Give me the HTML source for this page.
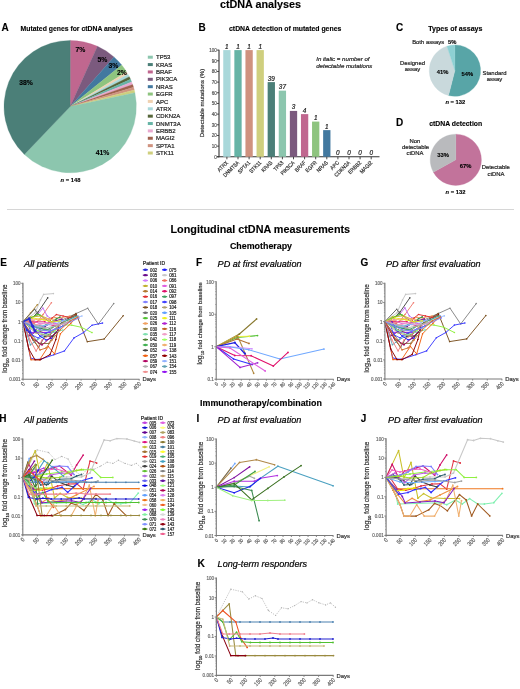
<!DOCTYPE html>
<html><head><meta charset="utf-8"><style>
html,body{margin:0;padding:0;background:#fff;overflow:hidden;}
svg{display:block;font-family:"Liberation Sans", sans-serif;filter:blur(0.3px);}
</style></head><body>
<svg width="520" height="689" viewBox="0 0 520 689">
<rect width="520" height="689" fill="#fff"/>
<text x="260.50" y="7.80" font-size="10.8" font-weight="bold" text-anchor="middle" fill="#000" stroke="#000" stroke-width="0.12">ctDNA analyses</text>
<text x="1.40" y="30.60" font-size="10.0" font-weight="bold" fill="#000" stroke="#000" stroke-width="0.12">A</text>
<text x="20.60" y="31.20" font-size="6.85" font-weight="bold" fill="#000" stroke="#000" stroke-width="0.12">Mutated genes for ctDNA analyses</text>
<text x="198.50" y="30.90" font-size="10.0" font-weight="bold" fill="#000" stroke="#000" stroke-width="0.12">B</text>
<text x="229.00" y="31.20" font-size="6.9" font-weight="bold" fill="#000" stroke="#000" stroke-width="0.12">ctDNA detection of mutated genes</text>
<text x="396.00" y="30.90" font-size="10.0" font-weight="bold" fill="#000" stroke="#000" stroke-width="0.12">C</text>
<text x="428.20" y="31.20" font-size="7.1" font-weight="bold" fill="#000" stroke="#000" stroke-width="0.12">Types of assays</text>
<text x="396.00" y="126.00" font-size="10.0" font-weight="bold" fill="#000" stroke="#000" stroke-width="0.12">D</text>
<text x="429.20" y="126.30" font-size="6.85" font-weight="bold" fill="#000" stroke="#000" stroke-width="0.12">ctDNA detection</text>
<path d="M70.20,106.60 L70.20,40.40 A66.2,66.2 0 0 1 97.47,46.28 Z" fill="#c0678f" stroke="#c0678f" stroke-width="0.3" stroke-linejoin="round"/>
<path d="M70.20,106.60 L97.47,46.28 A66.2,66.2 0 0 1 113.94,56.91 Z" fill="#7b5a7e" stroke="#7b5a7e" stroke-width="0.3" stroke-linejoin="round"/>
<path d="M70.20,106.60 L113.94,56.91 A66.2,66.2 0 0 1 121.71,65.01 Z" fill="#42789f" stroke="#42789f" stroke-width="0.3" stroke-linejoin="round"/>
<path d="M70.20,106.60 L121.71,65.01 A66.2,66.2 0 0 1 126.57,71.89 Z" fill="#8ec47f" stroke="#8ec47f" stroke-width="0.3" stroke-linejoin="round"/>
<path d="M70.20,106.60 L126.57,71.89 A66.2,66.2 0 0 1 127.99,74.31 Z" fill="#f0d2b2" stroke="#f0d2b2" stroke-width="0.3" stroke-linejoin="round"/>
<path d="M70.20,106.60 L127.99,74.31 A66.2,66.2 0 0 1 129.31,76.80 Z" fill="#a9d8da" stroke="#a9d8da" stroke-width="0.3" stroke-linejoin="round"/>
<path d="M70.20,106.60 L129.31,76.80 A66.2,66.2 0 0 1 130.52,79.33 Z" fill="#56663a" stroke="#56663a" stroke-width="0.3" stroke-linejoin="round"/>
<path d="M70.20,106.60 L130.52,79.33 A66.2,66.2 0 0 1 131.63,81.92 Z" fill="#66b4a6" stroke="#66b4a6" stroke-width="0.3" stroke-linejoin="round"/>
<path d="M70.20,106.60 L131.63,81.92 A66.2,66.2 0 0 1 132.62,84.55 Z" fill="#e8a9cf" stroke="#e8a9cf" stroke-width="0.3" stroke-linejoin="round"/>
<path d="M70.20,106.60 L132.62,84.55 A66.2,66.2 0 0 1 133.50,87.22 Z" fill="#a0614e" stroke="#a0614e" stroke-width="0.3" stroke-linejoin="round"/>
<path d="M70.20,106.60 L133.50,87.22 A66.2,66.2 0 0 1 134.26,89.92 Z" fill="#cf927f" stroke="#cf927f" stroke-width="0.3" stroke-linejoin="round"/>
<path d="M70.20,106.60 L134.26,89.92 A66.2,66.2 0 0 1 134.91,92.65 Z" fill="#cfcf7e" stroke="#cfcf7e" stroke-width="0.3" stroke-linejoin="round"/>
<path d="M70.20,106.60 L134.91,92.65 A66.2,66.2 0 0 1 24.39,154.39 Z" fill="#8cc6ae" stroke="#8cc6ae" stroke-width="0.3" stroke-linejoin="round"/>
<path d="M70.20,106.60 L24.39,154.39 A66.2,66.2 0 0 1 70.20,40.40 Z" fill="#4b7f78" stroke="#4b7f78" stroke-width="0.3" stroke-linejoin="round"/>
<text x="80.50" y="52.00" font-size="6.8" font-weight="bold" text-anchor="middle" fill="#000" stroke="#000" stroke-width="0.12">7%</text>
<text x="102.50" y="62.00" font-size="6.8" font-weight="bold" text-anchor="middle" fill="#000" stroke="#000" stroke-width="0.12">5%</text>
<text x="113.50" y="67.80" font-size="6.8" font-weight="bold" text-anchor="middle" fill="#000" stroke="#000" stroke-width="0.12">3%</text>
<text x="122.00" y="75.00" font-size="6.8" font-weight="bold" text-anchor="middle" fill="#000" stroke="#000" stroke-width="0.12">2%</text>
<text x="26.00" y="84.50" font-size="6.8" font-weight="bold" text-anchor="middle" fill="#000" stroke="#000" stroke-width="0.12">38%</text>
<text x="102.50" y="155.00" font-size="6.8" font-weight="bold" text-anchor="middle" fill="#000" stroke="#000" stroke-width="0.12">41%</text>
<text x="70.50" y="181.50" font-size="5.8" font-weight="bold" text-anchor="middle" fill="#000" stroke="#000" stroke-width="0.12"><tspan font-style="italic">n</tspan> = 148</text>
<rect x="147.80" y="55.70" width="5.00" height="3.00" fill="#8cc6ae"/>
<text x="156.00" y="59.30" font-size="6.0" fill="#222" stroke="#222" stroke-width="0.2">TP53</text>
<rect x="147.80" y="63.07" width="5.00" height="3.00" fill="#4b7f78"/>
<text x="156.00" y="66.67" font-size="6.0" fill="#222" stroke="#222" stroke-width="0.2">KRAS</text>
<rect x="147.80" y="70.44" width="5.00" height="3.00" fill="#c0678f"/>
<text x="156.00" y="74.04" font-size="6.0" fill="#222" stroke="#222" stroke-width="0.2">BRAF</text>
<rect x="147.80" y="77.81" width="5.00" height="3.00" fill="#7b5a7e"/>
<text x="156.00" y="81.41" font-size="6.0" fill="#222" stroke="#222" stroke-width="0.2">PIK3CA</text>
<rect x="147.80" y="85.18" width="5.00" height="3.00" fill="#42789f"/>
<text x="156.00" y="88.78" font-size="6.0" fill="#222" stroke="#222" stroke-width="0.2">NRAS</text>
<rect x="147.80" y="92.55" width="5.00" height="3.00" fill="#8ec47f"/>
<text x="156.00" y="96.15" font-size="6.0" fill="#222" stroke="#222" stroke-width="0.2">EGFR</text>
<rect x="147.80" y="99.92" width="5.00" height="3.00" fill="#f0d2b2"/>
<text x="156.00" y="103.52" font-size="6.0" fill="#222" stroke="#222" stroke-width="0.2">APC</text>
<rect x="147.80" y="107.29" width="5.00" height="3.00" fill="#a9d8da"/>
<text x="156.00" y="110.89" font-size="6.0" fill="#222" stroke="#222" stroke-width="0.2">ATRX</text>
<rect x="147.80" y="114.66" width="5.00" height="3.00" fill="#56663a"/>
<text x="156.00" y="118.26" font-size="6.0" fill="#222" stroke="#222" stroke-width="0.2">CDKN2A</text>
<rect x="147.80" y="122.03" width="5.00" height="3.00" fill="#66b4a6"/>
<text x="156.00" y="125.63" font-size="6.0" fill="#222" stroke="#222" stroke-width="0.2">DNMT3A</text>
<rect x="147.80" y="129.40" width="5.00" height="3.00" fill="#e8a9cf"/>
<text x="156.00" y="133.00" font-size="6.0" fill="#222" stroke="#222" stroke-width="0.2">ERBB2</text>
<rect x="147.80" y="136.77" width="5.00" height="3.00" fill="#a0614e"/>
<text x="156.00" y="140.37" font-size="6.0" fill="#222" stroke="#222" stroke-width="0.2">MAGI2</text>
<rect x="147.80" y="144.14" width="5.00" height="3.00" fill="#cf927f"/>
<text x="156.00" y="147.74" font-size="6.0" fill="#222" stroke="#222" stroke-width="0.2">SPTA1</text>
<rect x="147.80" y="151.51" width="5.00" height="3.00" fill="#cfcf7e"/>
<text x="156.00" y="155.11" font-size="6.0" fill="#222" stroke="#222" stroke-width="0.2">STK11</text>
<line x1="219.00" y1="49.80" x2="219.00" y2="157.30" stroke="#333" stroke-width="1.1"/>
<line x1="217.00" y1="156.80" x2="379.50" y2="156.80" stroke="#333" stroke-width="1.1"/>
<line x1="217.00" y1="156.80" x2="219.00" y2="156.80" stroke="#333" stroke-width="0.9"/>
<text x="0.00" y="0.00" font-size="5.7" text-anchor="end" fill="#555" stroke="#555" stroke-width="0.2" transform="translate(216.80,158.80) scale(0.8,1)">0</text>
<line x1="217.00" y1="146.13" x2="219.00" y2="146.13" stroke="#333" stroke-width="0.9"/>
<text x="0.00" y="0.00" font-size="5.7" text-anchor="end" fill="#555" stroke="#555" stroke-width="0.2" transform="translate(216.80,148.13) scale(0.8,1)">10</text>
<line x1="217.00" y1="135.46" x2="219.00" y2="135.46" stroke="#333" stroke-width="0.9"/>
<text x="0.00" y="0.00" font-size="5.7" text-anchor="end" fill="#555" stroke="#555" stroke-width="0.2" transform="translate(216.80,137.46) scale(0.8,1)">20</text>
<line x1="217.00" y1="124.79" x2="219.00" y2="124.79" stroke="#333" stroke-width="0.9"/>
<text x="0.00" y="0.00" font-size="5.7" text-anchor="end" fill="#555" stroke="#555" stroke-width="0.2" transform="translate(216.80,126.79) scale(0.8,1)">30</text>
<line x1="217.00" y1="114.12" x2="219.00" y2="114.12" stroke="#333" stroke-width="0.9"/>
<text x="0.00" y="0.00" font-size="5.7" text-anchor="end" fill="#555" stroke="#555" stroke-width="0.2" transform="translate(216.80,116.12) scale(0.8,1)">40</text>
<line x1="217.00" y1="103.45" x2="219.00" y2="103.45" stroke="#333" stroke-width="0.9"/>
<text x="0.00" y="0.00" font-size="5.7" text-anchor="end" fill="#555" stroke="#555" stroke-width="0.2" transform="translate(216.80,105.45) scale(0.8,1)">50</text>
<line x1="217.00" y1="92.78" x2="219.00" y2="92.78" stroke="#333" stroke-width="0.9"/>
<text x="0.00" y="0.00" font-size="5.7" text-anchor="end" fill="#555" stroke="#555" stroke-width="0.2" transform="translate(216.80,94.78) scale(0.8,1)">60</text>
<line x1="217.00" y1="82.11" x2="219.00" y2="82.11" stroke="#333" stroke-width="0.9"/>
<text x="0.00" y="0.00" font-size="5.7" text-anchor="end" fill="#555" stroke="#555" stroke-width="0.2" transform="translate(216.80,84.11) scale(0.8,1)">70</text>
<line x1="217.00" y1="71.44" x2="219.00" y2="71.44" stroke="#333" stroke-width="0.9"/>
<text x="0.00" y="0.00" font-size="5.7" text-anchor="end" fill="#555" stroke="#555" stroke-width="0.2" transform="translate(216.80,73.44) scale(0.8,1)">80</text>
<line x1="217.00" y1="60.77" x2="219.00" y2="60.77" stroke="#333" stroke-width="0.9"/>
<text x="0.00" y="0.00" font-size="5.7" text-anchor="end" fill="#555" stroke="#555" stroke-width="0.2" transform="translate(216.80,62.77) scale(0.8,1)">90</text>
<line x1="217.00" y1="50.10" x2="219.00" y2="50.10" stroke="#333" stroke-width="0.9"/>
<text x="0.00" y="0.00" font-size="5.7" text-anchor="end" fill="#555" stroke="#555" stroke-width="0.2" transform="translate(216.80,52.10) scale(0.8,1)">100</text>
<rect x="223.25" y="50.10" width="7.30" height="106.70" fill="#a9d8da"/>
<line x1="226.90" y1="156.80" x2="226.90" y2="159.30" stroke="#333" stroke-width="0.9"/>
<text x="226.90" y="48.50" font-size="6.4" font-style="italic" text-anchor="middle" fill="#222" stroke="#222" stroke-width="0.2">1</text>
<text x="0.00" y="0.00" font-size="5.5" text-anchor="end" fill="#333" stroke="#333" stroke-width="0.2" transform="translate(228.50,163.10) rotate(-45) scale(0.9,1)">ATRX</text>
<rect x="234.35" y="50.10" width="7.30" height="106.70" fill="#66b4a6"/>
<line x1="238.00" y1="156.80" x2="238.00" y2="159.30" stroke="#333" stroke-width="0.9"/>
<text x="238.00" y="48.50" font-size="6.4" font-style="italic" text-anchor="middle" fill="#222" stroke="#222" stroke-width="0.2">1</text>
<text x="0.00" y="0.00" font-size="5.5" text-anchor="end" fill="#333" stroke="#333" stroke-width="0.2" transform="translate(239.60,163.10) rotate(-45) scale(0.9,1)">DNMT3A</text>
<rect x="245.45" y="50.10" width="7.30" height="106.70" fill="#cf927f"/>
<line x1="249.10" y1="156.80" x2="249.10" y2="159.30" stroke="#333" stroke-width="0.9"/>
<text x="249.10" y="48.50" font-size="6.4" font-style="italic" text-anchor="middle" fill="#222" stroke="#222" stroke-width="0.2">1</text>
<text x="0.00" y="0.00" font-size="5.5" text-anchor="end" fill="#333" stroke="#333" stroke-width="0.2" transform="translate(250.70,163.10) rotate(-45) scale(0.9,1)">SPTA1</text>
<rect x="256.55" y="50.10" width="7.30" height="106.70" fill="#cfcf7e"/>
<line x1="260.20" y1="156.80" x2="260.20" y2="159.30" stroke="#333" stroke-width="0.9"/>
<text x="260.20" y="48.50" font-size="6.4" font-style="italic" text-anchor="middle" fill="#222" stroke="#222" stroke-width="0.2">1</text>
<text x="0.00" y="0.00" font-size="5.5" text-anchor="end" fill="#333" stroke="#333" stroke-width="0.2" transform="translate(261.80,163.10) rotate(-45) scale(0.9,1)">STK11</text>
<rect x="267.65" y="82.11" width="7.30" height="74.69" fill="#4b7f78"/>
<line x1="271.30" y1="156.80" x2="271.30" y2="159.30" stroke="#333" stroke-width="0.9"/>
<text x="271.30" y="80.51" font-size="6.4" font-style="italic" text-anchor="middle" fill="#222" stroke="#222" stroke-width="0.2">39</text>
<text x="0.00" y="0.00" font-size="5.5" text-anchor="end" fill="#333" stroke="#333" stroke-width="0.2" transform="translate(272.90,163.10) rotate(-45) scale(0.9,1)">KRAS</text>
<rect x="278.75" y="90.65" width="7.30" height="66.15" fill="#8cc6ae"/>
<line x1="282.40" y1="156.80" x2="282.40" y2="159.30" stroke="#333" stroke-width="0.9"/>
<text x="282.40" y="89.05" font-size="6.4" font-style="italic" text-anchor="middle" fill="#222" stroke="#222" stroke-width="0.2">37</text>
<text x="0.00" y="0.00" font-size="5.5" text-anchor="end" fill="#333" stroke="#333" stroke-width="0.2" transform="translate(284.00,163.10) rotate(-45) scale(0.9,1)">TP53</text>
<rect x="289.85" y="110.92" width="7.30" height="45.88" fill="#7b5a7e"/>
<line x1="293.50" y1="156.80" x2="293.50" y2="159.30" stroke="#333" stroke-width="0.9"/>
<text x="293.50" y="109.32" font-size="6.4" font-style="italic" text-anchor="middle" fill="#222" stroke="#222" stroke-width="0.2">3</text>
<text x="0.00" y="0.00" font-size="5.5" text-anchor="end" fill="#333" stroke="#333" stroke-width="0.2" transform="translate(295.10,163.10) rotate(-45) scale(0.9,1)">PIK3CA</text>
<rect x="300.95" y="114.12" width="7.30" height="42.68" fill="#c0678f"/>
<line x1="304.60" y1="156.80" x2="304.60" y2="159.30" stroke="#333" stroke-width="0.9"/>
<text x="304.60" y="112.52" font-size="6.4" font-style="italic" text-anchor="middle" fill="#222" stroke="#222" stroke-width="0.2">4</text>
<text x="0.00" y="0.00" font-size="5.5" text-anchor="end" fill="#333" stroke="#333" stroke-width="0.2" transform="translate(306.20,163.10) rotate(-45) scale(0.9,1)">BRAF</text>
<rect x="312.05" y="121.59" width="7.30" height="35.21" fill="#8ec47f"/>
<line x1="315.70" y1="156.80" x2="315.70" y2="159.30" stroke="#333" stroke-width="0.9"/>
<text x="315.70" y="119.99" font-size="6.4" font-style="italic" text-anchor="middle" fill="#222" stroke="#222" stroke-width="0.2">1</text>
<text x="0.00" y="0.00" font-size="5.5" text-anchor="end" fill="#333" stroke="#333" stroke-width="0.2" transform="translate(317.30,163.10) rotate(-45) scale(0.9,1)">EGFR</text>
<rect x="323.15" y="130.12" width="7.30" height="26.67" fill="#42789f"/>
<line x1="326.80" y1="156.80" x2="326.80" y2="159.30" stroke="#333" stroke-width="0.9"/>
<text x="326.80" y="128.53" font-size="6.4" font-style="italic" text-anchor="middle" fill="#222" stroke="#222" stroke-width="0.2">1</text>
<text x="0.00" y="0.00" font-size="5.5" text-anchor="end" fill="#333" stroke="#333" stroke-width="0.2" transform="translate(328.40,163.10) rotate(-45) scale(0.9,1)">NRAS</text>
<line x1="337.90" y1="156.80" x2="337.90" y2="159.30" stroke="#333" stroke-width="0.9"/>
<text x="337.90" y="155.20" font-size="6.4" font-style="italic" text-anchor="middle" fill="#222" stroke="#222" stroke-width="0.2">0</text>
<text x="0.00" y="0.00" font-size="5.5" text-anchor="end" fill="#333" stroke="#333" stroke-width="0.2" transform="translate(339.50,163.10) rotate(-45) scale(0.9,1)">APC</text>
<line x1="349.00" y1="156.80" x2="349.00" y2="159.30" stroke="#333" stroke-width="0.9"/>
<text x="349.00" y="155.20" font-size="6.4" font-style="italic" text-anchor="middle" fill="#222" stroke="#222" stroke-width="0.2">0</text>
<text x="0.00" y="0.00" font-size="5.5" text-anchor="end" fill="#333" stroke="#333" stroke-width="0.2" transform="translate(350.60,163.10) rotate(-45) scale(0.9,1)">CDKN2A</text>
<line x1="360.10" y1="156.80" x2="360.10" y2="159.30" stroke="#333" stroke-width="0.9"/>
<text x="360.10" y="155.20" font-size="6.4" font-style="italic" text-anchor="middle" fill="#222" stroke="#222" stroke-width="0.2">0</text>
<text x="0.00" y="0.00" font-size="5.5" text-anchor="end" fill="#333" stroke="#333" stroke-width="0.2" transform="translate(361.70,163.10) rotate(-45) scale(0.9,1)">ERBB2</text>
<line x1="371.20" y1="156.80" x2="371.20" y2="159.30" stroke="#333" stroke-width="0.9"/>
<text x="371.20" y="155.20" font-size="6.4" font-style="italic" text-anchor="middle" fill="#222" stroke="#222" stroke-width="0.2">0</text>
<text x="0.00" y="0.00" font-size="5.5" text-anchor="end" fill="#333" stroke="#333" stroke-width="0.2" transform="translate(372.80,163.10) rotate(-45) scale(0.9,1)">MAGI2</text>
<text x="0.00" y="0.00" font-size="6.1" text-anchor="middle" fill="#333" stroke="#333" stroke-width="0.2" transform="translate(203.70,103.00) rotate(-90)">Detectable mutations (%)</text>
<text x="316.20" y="60.60" font-size="6.1" font-style="italic" fill="#222" stroke="#222" stroke-width="0.2">In italic = number of</text>
<text x="316.20" y="67.60" font-size="6.1" font-style="italic" fill="#222" stroke="#222" stroke-width="0.2">detectable mutations</text>
<path d="M454.90,70.60 L454.90,44.90 A25.7,25.7 0 1 1 448.51,95.49 Z" fill="#58a5a7" stroke="#58a5a7" stroke-width="0.3" stroke-linejoin="round"/>
<path d="M454.90,70.60 L448.51,95.49 A25.7,25.7 0 0 1 446.96,46.16 Z" fill="#c9d9dc" stroke="#c9d9dc" stroke-width="0.3" stroke-linejoin="round"/>
<path d="M454.90,70.60 L446.96,46.16 A25.7,25.7 0 0 1 454.90,44.90 Z" fill="#8dd0d3" stroke="#8dd0d3" stroke-width="0.3" stroke-linejoin="round"/>
<text x="428.20" y="43.90" font-size="5.9" text-anchor="middle" fill="#222" stroke="#222" stroke-width="0.2">Both assays</text>
<text x="452.30" y="44.00" font-size="5.8" font-weight="bold" text-anchor="middle" fill="#000" stroke="#000" stroke-width="0.12">5%</text>
<text x="412.50" y="64.80" font-size="5.9" text-anchor="middle" fill="#222" stroke="#222" stroke-width="0.2">Designed</text>
<text x="412.50" y="71.20" font-size="5.9" text-anchor="middle" fill="#222" stroke="#222" stroke-width="0.2">assay</text>
<text x="442.50" y="73.50" font-size="5.8" font-weight="bold" text-anchor="middle" fill="#000" stroke="#000" stroke-width="0.12">41%</text>
<text x="467.30" y="75.80" font-size="5.8" font-weight="bold" text-anchor="middle" fill="#000" stroke="#000" stroke-width="0.12">54%</text>
<text x="494.50" y="74.60" font-size="5.9" text-anchor="middle" fill="#222" stroke="#222" stroke-width="0.2">Standard</text>
<text x="494.50" y="81.00" font-size="5.9" text-anchor="middle" fill="#222" stroke="#222" stroke-width="0.2">assay</text>
<text x="455.30" y="104.30" font-size="5.8" font-weight="bold" text-anchor="middle" fill="#000" stroke="#000" stroke-width="0.12"><tspan font-style="italic">n</tspan> = 132</text>
<path d="M455.80,159.80 L455.80,134.20 A25.6,25.6 0 1 1 433.37,172.13 Z" fill="#c2739b" stroke="#c2739b" stroke-width="0.3" stroke-linejoin="round"/>
<path d="M455.80,159.80 L433.37,172.13 A25.6,25.6 0 0 1 455.80,134.20 Z" fill="#b9babd" stroke="#b9babd" stroke-width="0.3" stroke-linejoin="round"/>
<text x="414.80" y="142.80" font-size="5.9" text-anchor="middle" fill="#222" stroke="#222" stroke-width="0.2">Non</text>
<text x="415.50" y="148.90" font-size="5.9" text-anchor="middle" fill="#222" stroke="#222" stroke-width="0.2">detectable</text>
<text x="415.00" y="155.20" font-size="5.9" text-anchor="middle" fill="#222" stroke="#222" stroke-width="0.2">ctDNA</text>
<text x="443.00" y="157.40" font-size="5.8" font-weight="bold" text-anchor="middle" fill="#000" stroke="#000" stroke-width="0.12">33%</text>
<text x="465.50" y="167.80" font-size="5.8" font-weight="bold" text-anchor="middle" fill="#000" stroke="#000" stroke-width="0.12">67%</text>
<text x="495.80" y="169.30" font-size="5.9" text-anchor="middle" fill="#222" stroke="#222" stroke-width="0.2">Detectable</text>
<text x="496.00" y="175.80" font-size="5.9" text-anchor="middle" fill="#222" stroke="#222" stroke-width="0.2">ctDNA</text>
<text x="455.50" y="193.60" font-size="5.8" font-weight="bold" text-anchor="middle" fill="#000" stroke="#000" stroke-width="0.12"><tspan font-style="italic">n</tspan> = 132</text>
<line x1="7.00" y1="209.50" x2="514.00" y2="209.50" stroke="#d6d6d6" stroke-width="1"/>
<text x="260.30" y="233.00" font-size="10.8" font-weight="bold" text-anchor="middle" fill="#000" stroke="#000" stroke-width="0.12">Longitudinal ctDNA measurements</text>
<text x="261.00" y="249.30" font-size="8.9" font-weight="bold" text-anchor="middle" fill="#000" stroke="#000" stroke-width="0.12">Chemotherapy</text>
<text x="261.00" y="405.80" font-size="8.9" font-weight="bold" text-anchor="middle" fill="#000" stroke="#000" stroke-width="0.12">Immunotherapy/combination</text>
<polyline points="23.0,321.7 35.0,313.0 40.5,300.0 43.6,294.4 53.4,293.6" fill="none" stroke="#c4c4c4" stroke-width="0.95" stroke-linejoin="round"/>
<circle cx="35.0" cy="313.0" r="0.81" fill="#c4c4c4"/>
<circle cx="40.5" cy="300.0" r="0.81" fill="#c4c4c4"/>
<circle cx="43.6" cy="294.4" r="0.81" fill="#c4c4c4"/>
<circle cx="53.4" cy="293.6" r="0.81" fill="#c4c4c4"/>
<polyline points="23.0,321.7 32.0,318.0 38.1,312.0 47.7,297.9" fill="none" stroke="#474747" stroke-width="0.95" stroke-linejoin="round"/>
<circle cx="32.0" cy="318.0" r="0.81" fill="#474747"/>
<circle cx="38.1" cy="312.0" r="0.81" fill="#474747"/>
<circle cx="47.7" cy="297.9" r="0.81" fill="#474747"/>
<polyline points="23.0,321.7 37.0,322.0 43.0,314.6 51.4,302.7" fill="none" stroke="#f07a70" stroke-width="0.95" stroke-linejoin="round"/>
<circle cx="37.0" cy="322.0" r="0.81" fill="#f07a70"/>
<circle cx="43.0" cy="314.6" r="0.81" fill="#f07a70"/>
<circle cx="51.4" cy="302.7" r="0.81" fill="#f07a70"/>
<polyline points="23.0,321.7 30.5,313.0 37.3,304.8" fill="none" stroke="#a8802a" stroke-width="0.95" stroke-linejoin="round"/>
<circle cx="30.5" cy="313.0" r="0.81" fill="#a8802a"/>
<circle cx="37.3" cy="304.8" r="0.81" fill="#a8802a"/>
<polyline points="23.0,321.7 36.7,315.6 42.9,308.0 47.2,316.0 50.0,318.0" fill="none" stroke="#c070f0" stroke-width="0.95" stroke-linejoin="round"/>
<circle cx="36.7" cy="315.6" r="0.81" fill="#c070f0"/>
<circle cx="42.9" cy="308.0" r="0.81" fill="#c070f0"/>
<circle cx="47.2" cy="316.0" r="0.81" fill="#c070f0"/>
<circle cx="50.0" cy="318.0" r="0.81" fill="#c070f0"/>
<polyline points="23.0,321.7 34.7,309.3 38.0,314.0 44.0,318.0 50.0,322.0" fill="none" stroke="#606060" stroke-width="0.95" stroke-linejoin="round"/>
<circle cx="34.7" cy="309.3" r="0.81" fill="#606060"/>
<circle cx="38.0" cy="314.0" r="0.81" fill="#606060"/>
<circle cx="44.0" cy="318.0" r="0.81" fill="#606060"/>
<circle cx="50.0" cy="322.0" r="0.81" fill="#606060"/>
<polyline points="23.0,321.7 30.4,317.0 41.5,316.0 48.7,318.9 52.0,322.0 56.0,326.0" fill="none" stroke="#c8b828" stroke-width="0.95" stroke-linejoin="round"/>
<circle cx="30.4" cy="317.0" r="0.81" fill="#c8b828"/>
<circle cx="41.5" cy="316.0" r="0.81" fill="#c8b828"/>
<circle cx="48.7" cy="318.9" r="0.81" fill="#c8b828"/>
<circle cx="52.0" cy="322.0" r="0.81" fill="#c8b828"/>
<circle cx="56.0" cy="326.0" r="0.81" fill="#c8b828"/>
<polyline points="23.0,321.7 37.3,314.6 40.0,315.0" fill="none" stroke="#50c828" stroke-width="0.95" stroke-linejoin="round"/>
<circle cx="37.3" cy="314.6" r="0.81" fill="#50c828"/>
<circle cx="40.0" cy="315.0" r="0.81" fill="#50c828"/>
<polyline points="23.0,321.7 35.0,326.0 50.0,330.0 62.0,320.0 76.0,313.6 87.7,308.3 98.3,324.1 113.7,303.6" fill="none" stroke="#858585" stroke-width="0.95" stroke-linejoin="round"/>
<circle cx="35.0" cy="326.0" r="0.81" fill="#858585"/>
<circle cx="50.0" cy="330.0" r="0.81" fill="#858585"/>
<circle cx="62.0" cy="320.0" r="0.81" fill="#858585"/>
<circle cx="76.0" cy="313.6" r="0.81" fill="#858585"/>
<circle cx="87.7" cy="308.3" r="0.81" fill="#858585"/>
<circle cx="98.3" cy="324.1" r="0.81" fill="#858585"/>
<circle cx="113.7" cy="303.6" r="0.81" fill="#858585"/>
<polyline points="23.0,321.7 36.0,330.0 50.0,335.0 62.0,322.0 76.0,313.6 87.3,341.7 104.2,339.0 123.2,315.7" fill="none" stroke="#7a5020" stroke-width="0.95" stroke-linejoin="round"/>
<circle cx="36.0" cy="330.0" r="0.81" fill="#7a5020"/>
<circle cx="50.0" cy="335.0" r="0.81" fill="#7a5020"/>
<circle cx="62.0" cy="322.0" r="0.81" fill="#7a5020"/>
<circle cx="76.0" cy="313.6" r="0.81" fill="#7a5020"/>
<circle cx="87.3" cy="341.7" r="0.81" fill="#7a5020"/>
<circle cx="104.2" cy="339.0" r="0.81" fill="#7a5020"/>
<circle cx="123.2" cy="315.7" r="0.81" fill="#7a5020"/>
<polyline points="23.0,321.7 30.6,358.0 35.9,359.5 41.2,359.0 53.8,354.8 64.4,351.0 74.0,337.9 83.5,332.6 92.0,325.2 102.5,323.1" fill="none" stroke="#3b3bff" stroke-width="0.95" stroke-linejoin="round"/>
<circle cx="30.6" cy="358.0" r="0.81" fill="#3b3bff"/>
<circle cx="35.9" cy="359.5" r="0.81" fill="#3b3bff"/>
<circle cx="41.2" cy="359.0" r="0.81" fill="#3b3bff"/>
<circle cx="53.8" cy="354.8" r="0.81" fill="#3b3bff"/>
<circle cx="64.4" cy="351.0" r="0.81" fill="#3b3bff"/>
<circle cx="74.0" cy="337.9" r="0.81" fill="#3b3bff"/>
<circle cx="83.5" cy="332.6" r="0.81" fill="#3b3bff"/>
<circle cx="92.0" cy="325.2" r="0.81" fill="#3b3bff"/>
<circle cx="102.5" cy="323.1" r="0.81" fill="#3b3bff"/>
<polyline points="23.0,321.7 40.0,328.0 52.0,332.0 64.4,324.8 71.8,325.2 81.4,327.3 92.0,332.6" fill="none" stroke="#90f040" stroke-width="0.95" stroke-linejoin="round"/>
<circle cx="40.0" cy="328.0" r="0.81" fill="#90f040"/>
<circle cx="52.0" cy="332.0" r="0.81" fill="#90f040"/>
<circle cx="64.4" cy="324.8" r="0.81" fill="#90f040"/>
<circle cx="71.8" cy="325.2" r="0.81" fill="#90f040"/>
<circle cx="81.4" cy="327.3" r="0.81" fill="#90f040"/>
<circle cx="92.0" cy="332.6" r="0.81" fill="#90f040"/>
<polyline points="23.0,321.7 31.0,359.8 39.6,359.8 48.3,346.5 54.6,354.0 60.4,333.8 70.7,323.5 76.0,318.0" fill="none" stroke="#f06010" stroke-width="0.95" stroke-linejoin="round"/>
<circle cx="31.0" cy="359.8" r="0.81" fill="#f06010"/>
<circle cx="39.6" cy="359.8" r="0.81" fill="#f06010"/>
<circle cx="48.3" cy="346.5" r="0.81" fill="#f06010"/>
<circle cx="54.6" cy="354.0" r="0.81" fill="#f06010"/>
<circle cx="60.4" cy="333.8" r="0.81" fill="#f06010"/>
<circle cx="70.7" cy="323.5" r="0.81" fill="#f06010"/>
<circle cx="76.0" cy="318.0" r="0.81" fill="#f06010"/>
<polyline points="23.0,321.7 28.7,348.8 35.0,359.8 40.2,359.8 50.0,354.6 55.8,339.6 59.2,324.6 66.0,320.0 76.0,315.0" fill="none" stroke="#8a0000" stroke-width="0.95" stroke-linejoin="round"/>
<circle cx="28.7" cy="348.8" r="0.81" fill="#8a0000"/>
<circle cx="35.0" cy="359.8" r="0.81" fill="#8a0000"/>
<circle cx="40.2" cy="359.8" r="0.81" fill="#8a0000"/>
<circle cx="50.0" cy="354.6" r="0.81" fill="#8a0000"/>
<circle cx="55.8" cy="339.6" r="0.81" fill="#8a0000"/>
<circle cx="59.2" cy="324.6" r="0.81" fill="#8a0000"/>
<circle cx="66.0" cy="320.0" r="0.81" fill="#8a0000"/>
<circle cx="76.0" cy="315.0" r="0.81" fill="#8a0000"/>
<polyline points="23.0,321.7 35.0,322.0 40.0,319.9 48.7,318.9 55.0,317.5 60.0,318.0 70.0,316.0" fill="none" stroke="#f0a060" stroke-width="0.95" stroke-linejoin="round"/>
<circle cx="35.0" cy="322.0" r="0.81" fill="#f0a060"/>
<circle cx="40.0" cy="319.9" r="0.81" fill="#f0a060"/>
<circle cx="48.7" cy="318.9" r="0.81" fill="#f0a060"/>
<circle cx="55.0" cy="317.5" r="0.81" fill="#f0a060"/>
<circle cx="60.0" cy="318.0" r="0.81" fill="#f0a060"/>
<circle cx="70.0" cy="316.0" r="0.81" fill="#f0a060"/>
<polyline points="23.0,321.7 34.0,324.0 45.0,327.0 52.0,318.0 56.4,314.6 63.1,316.0 70.0,317.5" fill="none" stroke="#e03030" stroke-width="0.95" stroke-linejoin="round"/>
<circle cx="34.0" cy="324.0" r="0.81" fill="#e03030"/>
<circle cx="45.0" cy="327.0" r="0.81" fill="#e03030"/>
<circle cx="52.0" cy="318.0" r="0.81" fill="#e03030"/>
<circle cx="56.4" cy="314.6" r="0.81" fill="#e03030"/>
<circle cx="63.1" cy="316.0" r="0.81" fill="#e03030"/>
<circle cx="70.0" cy="317.5" r="0.81" fill="#e03030"/>
<polyline points="23.0,321.7 30.4,325.7 43.9,325.7 56.4,318.9 60.0,317.0" fill="none" stroke="#2a8a3a" stroke-width="0.95" stroke-linejoin="round"/>
<circle cx="30.4" cy="325.7" r="0.81" fill="#2a8a3a"/>
<circle cx="43.9" cy="325.7" r="0.81" fill="#2a8a3a"/>
<circle cx="56.4" cy="318.9" r="0.81" fill="#2a8a3a"/>
<circle cx="60.0" cy="317.0" r="0.81" fill="#2a8a3a"/>
<polyline points="23.0,321.7 30.4,322.0 44.8,321.8 49.6,324.5 55.0,326.0 62.0,324.0" fill="none" stroke="#e0106a" stroke-width="0.95" stroke-linejoin="round"/>
<circle cx="30.4" cy="322.0" r="0.81" fill="#e0106a"/>
<circle cx="44.8" cy="321.8" r="0.81" fill="#e0106a"/>
<circle cx="49.6" cy="324.5" r="0.81" fill="#e0106a"/>
<circle cx="55.0" cy="326.0" r="0.81" fill="#e0106a"/>
<circle cx="62.0" cy="324.0" r="0.81" fill="#e0106a"/>
<polyline points="23.0,321.7 28.5,336.2 44.8,326.6 55.0,321.0 62.0,319.0" fill="none" stroke="#6a0a8a" stroke-width="0.95" stroke-linejoin="round"/>
<circle cx="28.5" cy="336.2" r="0.81" fill="#6a0a8a"/>
<circle cx="44.8" cy="326.6" r="0.81" fill="#6a0a8a"/>
<circle cx="55.0" cy="321.0" r="0.81" fill="#6a0a8a"/>
<circle cx="62.0" cy="319.0" r="0.81" fill="#6a0a8a"/>
<polyline points="23.0,321.7 30.4,332.4 40.0,332.4 50.0,332.4 56.4,332.4" fill="none" stroke="#9010f0" stroke-width="0.95" stroke-linejoin="round"/>
<circle cx="30.4" cy="332.4" r="0.81" fill="#9010f0"/>
<circle cx="40.0" cy="332.4" r="0.81" fill="#9010f0"/>
<circle cx="50.0" cy="332.4" r="0.81" fill="#9010f0"/>
<circle cx="56.4" cy="332.4" r="0.81" fill="#9010f0"/>
<polyline points="23.0,321.7 35.0,330.5 44.8,330.5 55.0,330.5 60.0,328.0" fill="none" stroke="#a0f060" stroke-width="0.95" stroke-linejoin="round"/>
<circle cx="35.0" cy="330.5" r="0.81" fill="#a0f060"/>
<circle cx="44.8" cy="330.5" r="0.81" fill="#a0f060"/>
<circle cx="55.0" cy="330.5" r="0.81" fill="#a0f060"/>
<circle cx="60.0" cy="328.0" r="0.81" fill="#a0f060"/>
<polyline points="23.0,321.7 30.4,344.9 37.0,340.0 43.9,336.2 54.0,335.8" fill="none" stroke="#60a8b8" stroke-width="0.95" stroke-linejoin="round"/>
<circle cx="30.4" cy="344.9" r="0.81" fill="#60a8b8"/>
<circle cx="37.0" cy="340.0" r="0.81" fill="#60a8b8"/>
<circle cx="43.9" cy="336.2" r="0.81" fill="#60a8b8"/>
<circle cx="54.0" cy="335.8" r="0.81" fill="#60a8b8"/>
<polyline points="23.0,321.7 33.0,336.0 38.6,343.5 48.7,343.5 53.5,335.7 58.0,330.0" fill="none" stroke="#8a7a40" stroke-width="0.95" stroke-linejoin="round"/>
<circle cx="33.0" cy="336.0" r="0.81" fill="#8a7a40"/>
<circle cx="38.6" cy="343.5" r="0.81" fill="#8a7a40"/>
<circle cx="48.7" cy="343.5" r="0.81" fill="#8a7a40"/>
<circle cx="53.5" cy="335.7" r="0.81" fill="#8a7a40"/>
<circle cx="58.0" cy="330.0" r="0.81" fill="#8a7a40"/>
<polyline points="23.0,321.7 33.0,340.0 38.6,347.3 44.8,336.2 52.5,336.2 58.0,331.0" fill="none" stroke="#404040" stroke-width="0.95" stroke-linejoin="round"/>
<circle cx="33.0" cy="340.0" r="0.81" fill="#404040"/>
<circle cx="38.6" cy="347.3" r="0.81" fill="#404040"/>
<circle cx="44.8" cy="336.2" r="0.81" fill="#404040"/>
<circle cx="52.5" cy="336.2" r="0.81" fill="#404040"/>
<circle cx="58.0" cy="331.0" r="0.81" fill="#404040"/>
<polyline points="23.0,321.7 40.0,328.0 52.5,322.7 70.8,318.9 78.0,316.0" fill="none" stroke="#70a8ff" stroke-width="0.95" stroke-linejoin="round"/>
<circle cx="40.0" cy="328.0" r="0.81" fill="#70a8ff"/>
<circle cx="52.5" cy="322.7" r="0.81" fill="#70a8ff"/>
<circle cx="70.8" cy="318.9" r="0.81" fill="#70a8ff"/>
<circle cx="78.0" cy="316.0" r="0.81" fill="#70a8ff"/>
<polyline points="23.0,321.7 38.0,326.0 55.0,324.0 70.0,319.0 82.0,316.0" fill="none" stroke="#a0c0ff" stroke-width="0.95" stroke-linejoin="round"/>
<circle cx="38.0" cy="326.0" r="0.81" fill="#a0c0ff"/>
<circle cx="55.0" cy="324.0" r="0.81" fill="#a0c0ff"/>
<circle cx="70.0" cy="319.0" r="0.81" fill="#a0c0ff"/>
<circle cx="82.0" cy="316.0" r="0.81" fill="#a0c0ff"/>
<polyline points="23.0,321.7 30.0,340.0 36.1,351.1 42.0,340.0 50.0,335.0" fill="none" stroke="#f08080" stroke-width="0.95" stroke-linejoin="round"/>
<circle cx="30.0" cy="340.0" r="0.81" fill="#f08080"/>
<circle cx="36.1" cy="351.1" r="0.81" fill="#f08080"/>
<circle cx="42.0" cy="340.0" r="0.81" fill="#f08080"/>
<circle cx="50.0" cy="335.0" r="0.81" fill="#f08080"/>
<polyline points="23.0,321.7 32.0,320.0 40.0,324.0 50.0,322.0 60.0,325.0 68.0,322.0" fill="none" stroke="#e060e0" stroke-width="0.95" stroke-linejoin="round"/>
<circle cx="32.0" cy="320.0" r="0.81" fill="#e060e0"/>
<circle cx="40.0" cy="324.0" r="0.81" fill="#e060e0"/>
<circle cx="50.0" cy="322.0" r="0.81" fill="#e060e0"/>
<circle cx="60.0" cy="325.0" r="0.81" fill="#e060e0"/>
<circle cx="68.0" cy="322.0" r="0.81" fill="#e060e0"/>
<polyline points="23.0,321.7 28.0,324.0 32.0,335.0 38.0,338.0 46.0,333.0 55.0,329.0 63.0,326.0" fill="none" stroke="#4040ff" stroke-width="0.95" stroke-linejoin="round"/>
<circle cx="28.0" cy="324.0" r="0.81" fill="#4040ff"/>
<circle cx="32.0" cy="335.0" r="0.81" fill="#4040ff"/>
<circle cx="38.0" cy="338.0" r="0.81" fill="#4040ff"/>
<circle cx="46.0" cy="333.0" r="0.81" fill="#4040ff"/>
<circle cx="55.0" cy="329.0" r="0.81" fill="#4040ff"/>
<circle cx="63.0" cy="326.0" r="0.81" fill="#4040ff"/>
<polyline points="23.0,321.7 29.0,320.0 34.0,330.0 40.0,336.0 46.0,340.0 52.0,338.0" fill="none" stroke="#2020ff" stroke-width="0.95" stroke-linejoin="round"/>
<circle cx="29.0" cy="320.0" r="0.81" fill="#2020ff"/>
<circle cx="34.0" cy="330.0" r="0.81" fill="#2020ff"/>
<circle cx="40.0" cy="336.0" r="0.81" fill="#2020ff"/>
<circle cx="46.0" cy="340.0" r="0.81" fill="#2020ff"/>
<circle cx="52.0" cy="338.0" r="0.81" fill="#2020ff"/>
<polyline points="23.0,321.7 35.0,330.0 45.0,335.0 55.0,332.0 63.0,330.0" fill="none" stroke="#80e0b0" stroke-width="0.95" stroke-linejoin="round"/>
<circle cx="35.0" cy="330.0" r="0.81" fill="#80e0b0"/>
<circle cx="45.0" cy="335.0" r="0.81" fill="#80e0b0"/>
<circle cx="55.0" cy="332.0" r="0.81" fill="#80e0b0"/>
<circle cx="63.0" cy="330.0" r="0.81" fill="#80e0b0"/>
<polyline points="23.0,321.7 34.0,327.0 46.0,330.0 58.0,325.0 68.0,320.0 76.0,316.0" fill="none" stroke="#40a060" stroke-width="0.95" stroke-linejoin="round"/>
<circle cx="34.0" cy="327.0" r="0.81" fill="#40a060"/>
<circle cx="46.0" cy="330.0" r="0.81" fill="#40a060"/>
<circle cx="58.0" cy="325.0" r="0.81" fill="#40a060"/>
<circle cx="68.0" cy="320.0" r="0.81" fill="#40a060"/>
<circle cx="76.0" cy="316.0" r="0.81" fill="#40a060"/>
<polyline points="23.0,321.7 36.0,333.0 48.0,336.0 56.0,328.0 64.0,322.0" fill="none" stroke="#b0a070" stroke-width="0.95" stroke-linejoin="round"/>
<circle cx="36.0" cy="333.0" r="0.81" fill="#b0a070"/>
<circle cx="48.0" cy="336.0" r="0.81" fill="#b0a070"/>
<circle cx="56.0" cy="328.0" r="0.81" fill="#b0a070"/>
<circle cx="64.0" cy="322.0" r="0.81" fill="#b0a070"/>
<polyline points="23.0,321.7 33.0,318.0 44.0,320.0 52.0,322.0 60.0,321.0" fill="none" stroke="#e8e820" stroke-width="0.95" stroke-linejoin="round"/>
<circle cx="33.0" cy="318.0" r="0.81" fill="#e8e820"/>
<circle cx="44.0" cy="320.0" r="0.81" fill="#e8e820"/>
<circle cx="52.0" cy="322.0" r="0.81" fill="#e8e820"/>
<circle cx="60.0" cy="321.0" r="0.81" fill="#e8e820"/>
<polyline points="23.0,321.7 37.0,325.0 47.0,323.0 57.0,325.0 66.0,324.0" fill="none" stroke="#f0a0c8" stroke-width="0.95" stroke-linejoin="round"/>
<circle cx="37.0" cy="325.0" r="0.81" fill="#f0a0c8"/>
<circle cx="47.0" cy="323.0" r="0.81" fill="#f0a0c8"/>
<circle cx="57.0" cy="325.0" r="0.81" fill="#f0a0c8"/>
<circle cx="66.0" cy="324.0" r="0.81" fill="#f0a0c8"/>
<polyline points="23.0,321.7 34.0,320.0 44.0,318.0 54.0,320.0" fill="none" stroke="#f0b070" stroke-width="0.95" stroke-linejoin="round"/>
<circle cx="34.0" cy="320.0" r="0.81" fill="#f0b070"/>
<circle cx="44.0" cy="318.0" r="0.81" fill="#f0b070"/>
<circle cx="54.0" cy="320.0" r="0.81" fill="#f0b070"/>
<polyline points="23.0,321.7 32.0,338.0 42.0,345.0 50.0,338.0 58.0,330.0" fill="none" stroke="#a0005a" stroke-width="0.95" stroke-linejoin="round"/>
<circle cx="32.0" cy="338.0" r="0.81" fill="#a0005a"/>
<circle cx="42.0" cy="345.0" r="0.81" fill="#a0005a"/>
<circle cx="50.0" cy="338.0" r="0.81" fill="#a0005a"/>
<circle cx="58.0" cy="330.0" r="0.81" fill="#a0005a"/>
<polyline points="23.0,321.7 35.0,325.0 45.0,328.0 55.0,326.0 65.0,323.0 74.0,319.0" fill="none" stroke="#b0b0b0" stroke-width="0.95" stroke-linejoin="round"/>
<circle cx="35.0" cy="325.0" r="0.81" fill="#b0b0b0"/>
<circle cx="45.0" cy="328.0" r="0.81" fill="#b0b0b0"/>
<circle cx="55.0" cy="326.0" r="0.81" fill="#b0b0b0"/>
<circle cx="65.0" cy="323.0" r="0.81" fill="#b0b0b0"/>
<circle cx="74.0" cy="319.0" r="0.81" fill="#b0b0b0"/>
<polyline points="23.0,321.7 30.0,325.0 40.0,330.0 50.0,331.0 60.0,328.0 70.0,322.0 79.0,318.0" fill="none" stroke="#8080ff" stroke-width="0.95" stroke-linejoin="round"/>
<circle cx="30.0" cy="325.0" r="0.81" fill="#8080ff"/>
<circle cx="40.0" cy="330.0" r="0.81" fill="#8080ff"/>
<circle cx="50.0" cy="331.0" r="0.81" fill="#8080ff"/>
<circle cx="60.0" cy="328.0" r="0.81" fill="#8080ff"/>
<circle cx="70.0" cy="322.0" r="0.81" fill="#8080ff"/>
<circle cx="79.0" cy="318.0" r="0.81" fill="#8080ff"/>
<polyline points="23.0,321.7 34.0,340.0 40.0,350.0 46.0,348.0 52.0,340.0 60.0,330.0 70.0,321.0 78.0,317.0" fill="none" stroke="#d07030" stroke-width="0.95" stroke-linejoin="round"/>
<circle cx="34.0" cy="340.0" r="0.81" fill="#d07030"/>
<circle cx="40.0" cy="350.0" r="0.81" fill="#d07030"/>
<circle cx="46.0" cy="348.0" r="0.81" fill="#d07030"/>
<circle cx="52.0" cy="340.0" r="0.81" fill="#d07030"/>
<circle cx="60.0" cy="330.0" r="0.81" fill="#d07030"/>
<circle cx="70.0" cy="321.0" r="0.81" fill="#d07030"/>
<circle cx="78.0" cy="317.0" r="0.81" fill="#d07030"/>
<polyline points="23.0,321.7 29.3,318.8 32.7,326.3 35.0,331.0" fill="none" stroke="#2a2ad8" stroke-width="1.7" stroke-linejoin="round"/>
<circle cx="29.3" cy="318.8" r="1.44" fill="#2a2ad8"/>
<circle cx="32.7" cy="326.3" r="1.44" fill="#2a2ad8"/>
<circle cx="35.0" cy="331.0" r="1.44" fill="#2a2ad8"/>
<polyline points="23.0,321.7 27.0,330.0 30.0,332.5" fill="none" stroke="#3030e0" stroke-width="1.4" stroke-linejoin="round"/>
<circle cx="27.0" cy="330.0" r="1.19" fill="#3030e0"/>
<circle cx="30.0" cy="332.5" r="1.19" fill="#3030e0"/>
<polyline points="216.2,346.7 239.4,334.0 256.6,319.0" fill="none" stroke="#8a7a30" stroke-width="1.05" stroke-linejoin="round"/>
<circle cx="239.4" cy="334.0" r="0.89" fill="#8a7a30"/>
<circle cx="256.6" cy="319.0" r="0.89" fill="#8a7a30"/>
<polyline points="216.2,346.7 237.0,337.5 257.5,335.6" fill="none" stroke="#50c030" stroke-width="1.05" stroke-linejoin="round"/>
<circle cx="237.0" cy="337.5" r="0.89" fill="#50c030"/>
<circle cx="257.5" cy="335.6" r="0.89" fill="#50c030"/>
<polyline points="216.2,346.7 236.0,336.5 249.5,336.3" fill="none" stroke="#f0f040" stroke-width="1.05" stroke-linejoin="round"/>
<circle cx="236.0" cy="336.5" r="0.89" fill="#f0f040"/>
<circle cx="249.5" cy="336.3" r="0.89" fill="#f0f040"/>
<polyline points="216.2,346.7 237.0,339.0 249.0,343.4" fill="none" stroke="#b07030" stroke-width="1.05" stroke-linejoin="round"/>
<circle cx="237.0" cy="339.0" r="0.89" fill="#b07030"/>
<circle cx="249.0" cy="343.4" r="0.89" fill="#b07030"/>
<polyline points="216.2,346.7 237.6,336.0 253.7,373.3" fill="none" stroke="#b08840" stroke-width="1.05" stroke-linejoin="round"/>
<circle cx="237.6" cy="336.0" r="0.89" fill="#b08840"/>
<circle cx="253.7" cy="373.3" r="0.89" fill="#b08840"/>
<polyline points="216.2,346.7 234.8,342.6 244.9,353.7" fill="none" stroke="#2020e0" stroke-width="1.3" stroke-linejoin="round"/>
<circle cx="234.8" cy="342.6" r="1.10" fill="#2020e0"/>
<circle cx="244.9" cy="353.7" r="1.10" fill="#2020e0"/>
<polyline points="216.2,346.7 228.0,346.5 252.0,348.8" fill="none" stroke="#d090ff" stroke-width="1.05" stroke-linejoin="round"/>
<circle cx="228.0" cy="346.5" r="0.89" fill="#d090ff"/>
<circle cx="252.0" cy="348.8" r="0.89" fill="#d090ff"/>
<polyline points="216.2,346.7 230.0,347.0 248.8,349.8 279.9,358.9 324.0,349.1" fill="none" stroke="#70a8ff" stroke-width="1.05" stroke-linejoin="round"/>
<circle cx="230.0" cy="347.0" r="0.89" fill="#70a8ff"/>
<circle cx="248.8" cy="349.8" r="0.89" fill="#70a8ff"/>
<circle cx="279.9" cy="358.9" r="0.89" fill="#70a8ff"/>
<circle cx="324.0" cy="349.1" r="0.89" fill="#70a8ff"/>
<polyline points="216.2,346.7 234.8,355.5 251.1,355.7 273.3,366.1 288.0,352.4" fill="none" stroke="#e0106a" stroke-width="1.05" stroke-linejoin="round"/>
<circle cx="234.8" cy="355.5" r="0.89" fill="#e0106a"/>
<circle cx="251.1" cy="355.7" r="0.89" fill="#e0106a"/>
<circle cx="273.3" cy="366.1" r="0.89" fill="#e0106a"/>
<circle cx="288.0" cy="352.4" r="0.89" fill="#e0106a"/>
<polyline points="216.2,346.7 233.5,358.9 252.1,364.5" fill="none" stroke="#3030ff" stroke-width="1.05" stroke-linejoin="round"/>
<circle cx="233.5" cy="358.9" r="0.89" fill="#3030ff"/>
<circle cx="252.1" cy="364.5" r="0.89" fill="#3030ff"/>
<polyline points="216.2,346.7 240.0,367.4 257.6,362.8" fill="none" stroke="#a020d0" stroke-width="1.05" stroke-linejoin="round"/>
<circle cx="240.0" cy="367.4" r="0.89" fill="#a020d0"/>
<circle cx="257.6" cy="362.8" r="0.89" fill="#a020d0"/>
<polyline points="216.2,346.7 230.0,348.0 265.2,371.0" fill="none" stroke="#e060e0" stroke-width="1.05" stroke-linejoin="round"/>
<circle cx="230.0" cy="348.0" r="0.89" fill="#e060e0"/>
<circle cx="265.2" cy="371.0" r="0.89" fill="#e060e0"/>
<polyline points="384.9,321.6 397.0,312.9 402.5,300.0 405.6,294.4 415.5,293.6" fill="none" stroke="#c4c4c4" stroke-width="0.95" stroke-linejoin="round"/>
<circle cx="397.0" cy="312.9" r="0.81" fill="#c4c4c4"/>
<circle cx="402.5" cy="300.0" r="0.81" fill="#c4c4c4"/>
<circle cx="405.6" cy="294.4" r="0.81" fill="#c4c4c4"/>
<circle cx="415.5" cy="293.6" r="0.81" fill="#c4c4c4"/>
<polyline points="384.9,321.6 394.0,317.9 400.1,311.9 409.8,297.9" fill="none" stroke="#474747" stroke-width="0.95" stroke-linejoin="round"/>
<circle cx="394.0" cy="317.9" r="0.81" fill="#474747"/>
<circle cx="400.1" cy="311.9" r="0.81" fill="#474747"/>
<circle cx="409.8" cy="297.9" r="0.81" fill="#474747"/>
<polyline points="384.9,321.6 399.0,321.9 405.0,314.5 413.5,302.7" fill="none" stroke="#f07a70" stroke-width="0.95" stroke-linejoin="round"/>
<circle cx="399.0" cy="321.9" r="0.81" fill="#f07a70"/>
<circle cx="405.0" cy="314.5" r="0.81" fill="#f07a70"/>
<circle cx="413.5" cy="302.7" r="0.81" fill="#f07a70"/>
<polyline points="384.9,321.6 398.7,315.5 404.9,307.9 409.3,315.9 412.1,317.9" fill="none" stroke="#c070f0" stroke-width="0.95" stroke-linejoin="round"/>
<circle cx="398.7" cy="315.5" r="0.81" fill="#c070f0"/>
<circle cx="404.9" cy="307.9" r="0.81" fill="#c070f0"/>
<circle cx="409.3" cy="315.9" r="0.81" fill="#c070f0"/>
<circle cx="412.1" cy="317.9" r="0.81" fill="#c070f0"/>
<polyline points="384.9,321.6 396.7,309.2 400.0,313.9 406.0,317.9 412.1,321.9" fill="none" stroke="#606060" stroke-width="0.95" stroke-linejoin="round"/>
<circle cx="396.7" cy="309.2" r="0.81" fill="#606060"/>
<circle cx="400.0" cy="313.9" r="0.81" fill="#606060"/>
<circle cx="406.0" cy="317.9" r="0.81" fill="#606060"/>
<circle cx="412.1" cy="321.9" r="0.81" fill="#606060"/>
<polyline points="384.9,321.6 392.4,316.9 403.5,315.9 410.8,318.8 414.1,321.9 418.1,325.9" fill="none" stroke="#c8b828" stroke-width="0.95" stroke-linejoin="round"/>
<circle cx="392.4" cy="316.9" r="0.81" fill="#c8b828"/>
<circle cx="403.5" cy="315.9" r="0.81" fill="#c8b828"/>
<circle cx="410.8" cy="318.8" r="0.81" fill="#c8b828"/>
<circle cx="414.1" cy="321.9" r="0.81" fill="#c8b828"/>
<circle cx="418.1" cy="325.9" r="0.81" fill="#c8b828"/>
<polyline points="384.9,321.6 399.3,314.5 402.0,314.9" fill="none" stroke="#50c828" stroke-width="0.95" stroke-linejoin="round"/>
<circle cx="399.3" cy="314.5" r="0.81" fill="#50c828"/>
<circle cx="402.0" cy="314.9" r="0.81" fill="#50c828"/>
<polyline points="384.9,321.6 397.0,325.9 412.1,329.9 424.2,319.9 438.3,313.5 450.0,308.2 460.7,324.0 476.2,303.6" fill="none" stroke="#858585" stroke-width="0.95" stroke-linejoin="round"/>
<circle cx="397.0" cy="325.9" r="0.81" fill="#858585"/>
<circle cx="412.1" cy="329.9" r="0.81" fill="#858585"/>
<circle cx="424.2" cy="319.9" r="0.81" fill="#858585"/>
<circle cx="438.3" cy="313.5" r="0.81" fill="#858585"/>
<circle cx="450.0" cy="308.2" r="0.81" fill="#858585"/>
<circle cx="460.7" cy="324.0" r="0.81" fill="#858585"/>
<circle cx="476.2" cy="303.6" r="0.81" fill="#858585"/>
<polyline points="384.9,321.6 398.0,329.9 412.1,334.9 424.2,321.9 438.3,313.5 449.6,341.6 466.7,338.9 485.8,315.6" fill="none" stroke="#7a5020" stroke-width="0.95" stroke-linejoin="round"/>
<circle cx="398.0" cy="329.9" r="0.81" fill="#7a5020"/>
<circle cx="412.1" cy="334.9" r="0.81" fill="#7a5020"/>
<circle cx="424.2" cy="321.9" r="0.81" fill="#7a5020"/>
<circle cx="438.3" cy="313.5" r="0.81" fill="#7a5020"/>
<circle cx="449.6" cy="341.6" r="0.81" fill="#7a5020"/>
<circle cx="466.7" cy="338.9" r="0.81" fill="#7a5020"/>
<circle cx="485.8" cy="315.6" r="0.81" fill="#7a5020"/>
<polyline points="384.9,321.6 392.6,357.8 397.9,359.3 403.2,358.8 415.9,354.7 426.6,350.9 436.3,337.8 445.8,332.5 454.4,325.1 464.9,323.0" fill="none" stroke="#3b3bff" stroke-width="0.95" stroke-linejoin="round"/>
<circle cx="392.6" cy="357.8" r="0.81" fill="#3b3bff"/>
<circle cx="397.9" cy="359.3" r="0.81" fill="#3b3bff"/>
<circle cx="403.2" cy="358.8" r="0.81" fill="#3b3bff"/>
<circle cx="415.9" cy="354.7" r="0.81" fill="#3b3bff"/>
<circle cx="426.6" cy="350.9" r="0.81" fill="#3b3bff"/>
<circle cx="436.3" cy="337.8" r="0.81" fill="#3b3bff"/>
<circle cx="445.8" cy="332.5" r="0.81" fill="#3b3bff"/>
<circle cx="454.4" cy="325.1" r="0.81" fill="#3b3bff"/>
<circle cx="464.9" cy="323.0" r="0.81" fill="#3b3bff"/>
<polyline points="384.9,321.6 402.0,327.9 414.1,331.9 426.6,324.7 434.0,325.1 443.7,327.2 454.4,332.5" fill="none" stroke="#90f040" stroke-width="0.95" stroke-linejoin="round"/>
<circle cx="402.0" cy="327.9" r="0.81" fill="#90f040"/>
<circle cx="414.1" cy="331.9" r="0.81" fill="#90f040"/>
<circle cx="426.6" cy="324.7" r="0.81" fill="#90f040"/>
<circle cx="434.0" cy="325.1" r="0.81" fill="#90f040"/>
<circle cx="443.7" cy="327.2" r="0.81" fill="#90f040"/>
<circle cx="454.4" cy="332.5" r="0.81" fill="#90f040"/>
<polyline points="384.9,321.6 393.0,359.6 401.6,359.6 410.4,346.4 416.7,353.9 422.6,333.7 432.9,323.4 438.3,317.9" fill="none" stroke="#f06010" stroke-width="0.95" stroke-linejoin="round"/>
<circle cx="393.0" cy="359.6" r="0.81" fill="#f06010"/>
<circle cx="401.6" cy="359.6" r="0.81" fill="#f06010"/>
<circle cx="410.4" cy="346.4" r="0.81" fill="#f06010"/>
<circle cx="416.7" cy="353.9" r="0.81" fill="#f06010"/>
<circle cx="422.6" cy="333.7" r="0.81" fill="#f06010"/>
<circle cx="432.9" cy="323.4" r="0.81" fill="#f06010"/>
<circle cx="438.3" cy="317.9" r="0.81" fill="#f06010"/>
<polyline points="384.9,321.6 390.6,348.7 397.0,359.6 402.2,359.6 412.1,354.5 417.9,339.5 421.3,324.5 428.2,319.9 438.3,314.9" fill="none" stroke="#8a0000" stroke-width="0.95" stroke-linejoin="round"/>
<circle cx="390.6" cy="348.7" r="0.81" fill="#8a0000"/>
<circle cx="397.0" cy="359.6" r="0.81" fill="#8a0000"/>
<circle cx="402.2" cy="359.6" r="0.81" fill="#8a0000"/>
<circle cx="412.1" cy="354.5" r="0.81" fill="#8a0000"/>
<circle cx="417.9" cy="339.5" r="0.81" fill="#8a0000"/>
<circle cx="421.3" cy="324.5" r="0.81" fill="#8a0000"/>
<circle cx="428.2" cy="319.9" r="0.81" fill="#8a0000"/>
<circle cx="438.3" cy="314.9" r="0.81" fill="#8a0000"/>
<polyline points="384.9,321.6 397.0,321.9 402.0,319.8 410.8,318.8 417.1,317.4 422.2,317.9 432.2,315.9" fill="none" stroke="#f0a060" stroke-width="0.95" stroke-linejoin="round"/>
<circle cx="397.0" cy="321.9" r="0.81" fill="#f0a060"/>
<circle cx="402.0" cy="319.8" r="0.81" fill="#f0a060"/>
<circle cx="410.8" cy="318.8" r="0.81" fill="#f0a060"/>
<circle cx="417.1" cy="317.4" r="0.81" fill="#f0a060"/>
<circle cx="422.2" cy="317.9" r="0.81" fill="#f0a060"/>
<circle cx="432.2" cy="315.9" r="0.81" fill="#f0a060"/>
<polyline points="384.9,321.6 396.0,323.9 407.1,326.9 414.1,317.9 418.5,314.5 425.3,315.9 432.2,317.4" fill="none" stroke="#e03030" stroke-width="0.95" stroke-linejoin="round"/>
<circle cx="396.0" cy="323.9" r="0.81" fill="#e03030"/>
<circle cx="407.1" cy="326.9" r="0.81" fill="#e03030"/>
<circle cx="414.1" cy="317.9" r="0.81" fill="#e03030"/>
<circle cx="418.5" cy="314.5" r="0.81" fill="#e03030"/>
<circle cx="425.3" cy="315.9" r="0.81" fill="#e03030"/>
<circle cx="432.2" cy="317.4" r="0.81" fill="#e03030"/>
<polyline points="384.9,321.6 392.4,325.6 405.9,325.6 418.5,318.8 422.2,316.9" fill="none" stroke="#2a8a3a" stroke-width="0.95" stroke-linejoin="round"/>
<circle cx="392.4" cy="325.6" r="0.81" fill="#2a8a3a"/>
<circle cx="405.9" cy="325.6" r="0.81" fill="#2a8a3a"/>
<circle cx="418.5" cy="318.8" r="0.81" fill="#2a8a3a"/>
<circle cx="422.2" cy="316.9" r="0.81" fill="#2a8a3a"/>
<polyline points="384.9,321.6 392.4,321.9 406.9,321.7 411.7,324.4 417.1,325.9 424.2,323.9" fill="none" stroke="#e0106a" stroke-width="0.95" stroke-linejoin="round"/>
<circle cx="392.4" cy="321.9" r="0.81" fill="#e0106a"/>
<circle cx="406.9" cy="321.7" r="0.81" fill="#e0106a"/>
<circle cx="411.7" cy="324.4" r="0.81" fill="#e0106a"/>
<circle cx="417.1" cy="325.9" r="0.81" fill="#e0106a"/>
<circle cx="424.2" cy="323.9" r="0.81" fill="#e0106a"/>
<polyline points="384.9,321.6 390.4,336.1 406.9,326.5 417.1,320.9 424.2,318.9" fill="none" stroke="#6a0a8a" stroke-width="0.95" stroke-linejoin="round"/>
<circle cx="390.4" cy="336.1" r="0.81" fill="#6a0a8a"/>
<circle cx="406.9" cy="326.5" r="0.81" fill="#6a0a8a"/>
<circle cx="417.1" cy="320.9" r="0.81" fill="#6a0a8a"/>
<circle cx="424.2" cy="318.9" r="0.81" fill="#6a0a8a"/>
<polyline points="384.9,321.6 392.4,332.3 402.0,332.3 412.1,332.3 418.5,332.3" fill="none" stroke="#9010f0" stroke-width="0.95" stroke-linejoin="round"/>
<circle cx="392.4" cy="332.3" r="0.81" fill="#9010f0"/>
<circle cx="402.0" cy="332.3" r="0.81" fill="#9010f0"/>
<circle cx="412.1" cy="332.3" r="0.81" fill="#9010f0"/>
<circle cx="418.5" cy="332.3" r="0.81" fill="#9010f0"/>
<polyline points="384.9,321.6 397.0,330.4 406.9,330.4 417.1,330.4 422.2,327.9" fill="none" stroke="#a0f060" stroke-width="0.95" stroke-linejoin="round"/>
<circle cx="397.0" cy="330.4" r="0.81" fill="#a0f060"/>
<circle cx="406.9" cy="330.4" r="0.81" fill="#a0f060"/>
<circle cx="417.1" cy="330.4" r="0.81" fill="#a0f060"/>
<circle cx="422.2" cy="327.9" r="0.81" fill="#a0f060"/>
<polyline points="384.9,321.6 392.4,344.8 399.0,339.9 405.9,336.1 416.1,335.7" fill="none" stroke="#60a8b8" stroke-width="0.95" stroke-linejoin="round"/>
<circle cx="392.4" cy="344.8" r="0.81" fill="#60a8b8"/>
<circle cx="399.0" cy="339.9" r="0.81" fill="#60a8b8"/>
<circle cx="405.9" cy="336.1" r="0.81" fill="#60a8b8"/>
<circle cx="416.1" cy="335.7" r="0.81" fill="#60a8b8"/>
<polyline points="384.9,321.6 395.0,335.9 400.6,343.4 410.8,343.4 415.6,335.6 420.1,329.9" fill="none" stroke="#8a7a40" stroke-width="0.95" stroke-linejoin="round"/>
<circle cx="395.0" cy="335.9" r="0.81" fill="#8a7a40"/>
<circle cx="400.6" cy="343.4" r="0.81" fill="#8a7a40"/>
<circle cx="410.8" cy="343.4" r="0.81" fill="#8a7a40"/>
<circle cx="415.6" cy="335.6" r="0.81" fill="#8a7a40"/>
<circle cx="420.1" cy="329.9" r="0.81" fill="#8a7a40"/>
<polyline points="384.9,321.6 395.0,339.9 400.6,347.2 406.9,336.1 414.6,336.1 420.1,330.9" fill="none" stroke="#404040" stroke-width="0.95" stroke-linejoin="round"/>
<circle cx="395.0" cy="339.9" r="0.81" fill="#404040"/>
<circle cx="400.6" cy="347.2" r="0.81" fill="#404040"/>
<circle cx="406.9" cy="336.1" r="0.81" fill="#404040"/>
<circle cx="414.6" cy="336.1" r="0.81" fill="#404040"/>
<circle cx="420.1" cy="330.9" r="0.81" fill="#404040"/>
<polyline points="384.9,321.6 402.0,327.9 414.6,322.6 433.0,318.8 440.3,315.9" fill="none" stroke="#70a8ff" stroke-width="0.95" stroke-linejoin="round"/>
<circle cx="402.0" cy="327.9" r="0.81" fill="#70a8ff"/>
<circle cx="414.6" cy="322.6" r="0.81" fill="#70a8ff"/>
<circle cx="433.0" cy="318.8" r="0.81" fill="#70a8ff"/>
<circle cx="440.3" cy="315.9" r="0.81" fill="#70a8ff"/>
<polyline points="384.9,321.6 400.0,325.9 417.1,323.9 432.2,318.9 444.3,315.9" fill="none" stroke="#a0c0ff" stroke-width="0.95" stroke-linejoin="round"/>
<circle cx="400.0" cy="325.9" r="0.81" fill="#a0c0ff"/>
<circle cx="417.1" cy="323.9" r="0.81" fill="#a0c0ff"/>
<circle cx="432.2" cy="318.9" r="0.81" fill="#a0c0ff"/>
<circle cx="444.3" cy="315.9" r="0.81" fill="#a0c0ff"/>
<polyline points="384.9,321.6 391.9,339.9 398.1,351.0 404.0,339.9 412.1,334.9" fill="none" stroke="#f08080" stroke-width="0.95" stroke-linejoin="round"/>
<circle cx="391.9" cy="339.9" r="0.81" fill="#f08080"/>
<circle cx="398.1" cy="351.0" r="0.81" fill="#f08080"/>
<circle cx="404.0" cy="339.9" r="0.81" fill="#f08080"/>
<circle cx="412.1" cy="334.9" r="0.81" fill="#f08080"/>
<polyline points="384.9,321.6 394.0,319.9 402.0,323.9 412.1,321.9 422.2,324.9 430.2,321.9" fill="none" stroke="#e060e0" stroke-width="0.95" stroke-linejoin="round"/>
<circle cx="394.0" cy="319.9" r="0.81" fill="#e060e0"/>
<circle cx="402.0" cy="323.9" r="0.81" fill="#e060e0"/>
<circle cx="412.1" cy="321.9" r="0.81" fill="#e060e0"/>
<circle cx="422.2" cy="324.9" r="0.81" fill="#e060e0"/>
<circle cx="430.2" cy="321.9" r="0.81" fill="#e060e0"/>
<polyline points="384.9,321.6 389.9,323.9 394.0,334.9 400.0,337.9 408.1,332.9 417.1,328.9 425.2,325.9" fill="none" stroke="#4040ff" stroke-width="0.95" stroke-linejoin="round"/>
<circle cx="389.9" cy="323.9" r="0.81" fill="#4040ff"/>
<circle cx="394.0" cy="334.9" r="0.81" fill="#4040ff"/>
<circle cx="400.0" cy="337.9" r="0.81" fill="#4040ff"/>
<circle cx="408.1" cy="332.9" r="0.81" fill="#4040ff"/>
<circle cx="417.1" cy="328.9" r="0.81" fill="#4040ff"/>
<circle cx="425.2" cy="325.9" r="0.81" fill="#4040ff"/>
<polyline points="384.9,321.6 390.9,319.9 396.0,329.9 402.0,335.9 408.1,339.9 414.1,337.9" fill="none" stroke="#2020ff" stroke-width="0.95" stroke-linejoin="round"/>
<circle cx="390.9" cy="319.9" r="0.81" fill="#2020ff"/>
<circle cx="396.0" cy="329.9" r="0.81" fill="#2020ff"/>
<circle cx="402.0" cy="335.9" r="0.81" fill="#2020ff"/>
<circle cx="408.1" cy="339.9" r="0.81" fill="#2020ff"/>
<circle cx="414.1" cy="337.9" r="0.81" fill="#2020ff"/>
<polyline points="384.9,321.6 397.0,329.9 407.1,334.9 417.1,331.9 425.2,329.9" fill="none" stroke="#80e0b0" stroke-width="0.95" stroke-linejoin="round"/>
<circle cx="397.0" cy="329.9" r="0.81" fill="#80e0b0"/>
<circle cx="407.1" cy="334.9" r="0.81" fill="#80e0b0"/>
<circle cx="417.1" cy="331.9" r="0.81" fill="#80e0b0"/>
<circle cx="425.2" cy="329.9" r="0.81" fill="#80e0b0"/>
<polyline points="384.9,321.6 396.0,326.9 408.1,329.9 420.1,324.9 430.2,319.9 438.3,315.9" fill="none" stroke="#40a060" stroke-width="0.95" stroke-linejoin="round"/>
<circle cx="396.0" cy="326.9" r="0.81" fill="#40a060"/>
<circle cx="408.1" cy="329.9" r="0.81" fill="#40a060"/>
<circle cx="420.1" cy="324.9" r="0.81" fill="#40a060"/>
<circle cx="430.2" cy="319.9" r="0.81" fill="#40a060"/>
<circle cx="438.3" cy="315.9" r="0.81" fill="#40a060"/>
<polyline points="384.9,321.6 398.0,332.9 410.1,335.9 418.1,327.9 426.2,321.9" fill="none" stroke="#b0a070" stroke-width="0.95" stroke-linejoin="round"/>
<circle cx="398.0" cy="332.9" r="0.81" fill="#b0a070"/>
<circle cx="410.1" cy="335.9" r="0.81" fill="#b0a070"/>
<circle cx="418.1" cy="327.9" r="0.81" fill="#b0a070"/>
<circle cx="426.2" cy="321.9" r="0.81" fill="#b0a070"/>
<polyline points="384.9,321.6 395.0,317.9 406.0,319.9 414.1,321.9 422.2,320.9" fill="none" stroke="#e8e820" stroke-width="0.95" stroke-linejoin="round"/>
<circle cx="395.0" cy="317.9" r="0.81" fill="#e8e820"/>
<circle cx="406.0" cy="319.9" r="0.81" fill="#e8e820"/>
<circle cx="414.1" cy="321.9" r="0.81" fill="#e8e820"/>
<circle cx="422.2" cy="320.9" r="0.81" fill="#e8e820"/>
<polyline points="384.9,321.6 399.0,324.9 409.1,322.9 419.1,324.9 428.2,323.9" fill="none" stroke="#f0a0c8" stroke-width="0.95" stroke-linejoin="round"/>
<circle cx="399.0" cy="324.9" r="0.81" fill="#f0a0c8"/>
<circle cx="409.1" cy="322.9" r="0.81" fill="#f0a0c8"/>
<circle cx="419.1" cy="324.9" r="0.81" fill="#f0a0c8"/>
<circle cx="428.2" cy="323.9" r="0.81" fill="#f0a0c8"/>
<polyline points="384.9,321.6 396.0,319.9 406.0,317.9 416.1,319.9" fill="none" stroke="#f0b070" stroke-width="0.95" stroke-linejoin="round"/>
<circle cx="396.0" cy="319.9" r="0.81" fill="#f0b070"/>
<circle cx="406.0" cy="317.9" r="0.81" fill="#f0b070"/>
<circle cx="416.1" cy="319.9" r="0.81" fill="#f0b070"/>
<polyline points="384.9,321.6 394.0,337.9 404.0,344.9 412.1,337.9 420.1,329.9" fill="none" stroke="#a0005a" stroke-width="0.95" stroke-linejoin="round"/>
<circle cx="394.0" cy="337.9" r="0.81" fill="#a0005a"/>
<circle cx="404.0" cy="344.9" r="0.81" fill="#a0005a"/>
<circle cx="412.1" cy="337.9" r="0.81" fill="#a0005a"/>
<circle cx="420.1" cy="329.9" r="0.81" fill="#a0005a"/>
<polyline points="384.9,321.6 397.0,324.9 407.1,327.9 417.1,325.9 427.2,322.9 436.3,318.9" fill="none" stroke="#b0b0b0" stroke-width="0.95" stroke-linejoin="round"/>
<circle cx="397.0" cy="324.9" r="0.81" fill="#b0b0b0"/>
<circle cx="407.1" cy="327.9" r="0.81" fill="#b0b0b0"/>
<circle cx="417.1" cy="325.9" r="0.81" fill="#b0b0b0"/>
<circle cx="427.2" cy="322.9" r="0.81" fill="#b0b0b0"/>
<circle cx="436.3" cy="318.9" r="0.81" fill="#b0b0b0"/>
<polyline points="384.9,321.6 391.9,324.9 402.0,329.9 412.1,330.9 422.2,327.9 432.2,321.9 441.3,317.9" fill="none" stroke="#8080ff" stroke-width="0.95" stroke-linejoin="round"/>
<circle cx="391.9" cy="324.9" r="0.81" fill="#8080ff"/>
<circle cx="402.0" cy="329.9" r="0.81" fill="#8080ff"/>
<circle cx="412.1" cy="330.9" r="0.81" fill="#8080ff"/>
<circle cx="422.2" cy="327.9" r="0.81" fill="#8080ff"/>
<circle cx="432.2" cy="321.9" r="0.81" fill="#8080ff"/>
<circle cx="441.3" cy="317.9" r="0.81" fill="#8080ff"/>
<polyline points="384.9,321.6 396.0,339.9 402.0,349.9 408.1,347.9 414.1,339.9 422.2,329.9 432.2,320.9 440.3,316.9" fill="none" stroke="#d07030" stroke-width="0.95" stroke-linejoin="round"/>
<circle cx="396.0" cy="339.9" r="0.81" fill="#d07030"/>
<circle cx="402.0" cy="349.9" r="0.81" fill="#d07030"/>
<circle cx="408.1" cy="347.9" r="0.81" fill="#d07030"/>
<circle cx="414.1" cy="339.9" r="0.81" fill="#d07030"/>
<circle cx="422.2" cy="329.9" r="0.81" fill="#d07030"/>
<circle cx="432.2" cy="320.9" r="0.81" fill="#d07030"/>
<circle cx="440.3" cy="316.9" r="0.81" fill="#d07030"/>
<polyline points="216.3,487.2 234.9,463.5" fill="none" stroke="#70a8ff" stroke-width="1.05" stroke-linejoin="round"/>
<circle cx="234.9" cy="463.5" r="0.89" fill="#70a8ff"/>
<polyline points="216.3,487.2 230.8,468.2" fill="none" stroke="#8a6a30" stroke-width="1.05" stroke-linejoin="round"/>
<circle cx="230.8" cy="468.2" r="0.89" fill="#8a6a30"/>
<polyline points="216.3,487.2 239.6,462.4 256.4,459.7 274.6,464.8" fill="none" stroke="#b08848" stroke-width="1.05" stroke-linejoin="round"/>
<circle cx="239.6" cy="462.4" r="0.89" fill="#b08848"/>
<circle cx="256.4" cy="459.7" r="0.89" fill="#b08848"/>
<circle cx="274.6" cy="464.8" r="0.89" fill="#b08848"/>
<polyline points="216.3,487.2 234.2,477.6 249.7,466.8" fill="none" stroke="#8010a0" stroke-width="1.05" stroke-linejoin="round"/>
<circle cx="234.2" cy="477.6" r="0.89" fill="#8010a0"/>
<circle cx="249.7" cy="466.8" r="0.89" fill="#8010a0"/>
<polyline points="216.3,487.2 234.2,483.0 269.2,466.8" fill="none" stroke="#f0f080" stroke-width="1.05" stroke-linejoin="round"/>
<circle cx="234.2" cy="483.0" r="0.89" fill="#f0f080"/>
<circle cx="269.2" cy="466.8" r="0.89" fill="#f0f080"/>
<polyline points="216.3,487.2 234.2,486.0 249.7,487.0 258.4,479.6 277.9,466.2 333.1,485.8" fill="none" stroke="#4aa0c0" stroke-width="1.05" stroke-linejoin="round"/>
<circle cx="234.2" cy="486.0" r="0.89" fill="#4aa0c0"/>
<circle cx="249.7" cy="487.0" r="0.89" fill="#4aa0c0"/>
<circle cx="258.4" cy="479.6" r="0.89" fill="#4aa0c0"/>
<circle cx="277.9" cy="466.2" r="0.89" fill="#4aa0c0"/>
<circle cx="333.1" cy="485.8" r="0.89" fill="#4aa0c0"/>
<polyline points="216.3,487.2 234.2,483.0 249.7,476.2 254.4,478.3" fill="none" stroke="#a8a8a8" stroke-width="1.05" stroke-linejoin="round"/>
<circle cx="234.2" cy="483.0" r="0.89" fill="#a8a8a8"/>
<circle cx="249.7" cy="476.2" r="0.89" fill="#a8a8a8"/>
<circle cx="254.4" cy="478.3" r="0.89" fill="#a8a8a8"/>
<polyline points="216.3,487.2 234.2,481.2 254.4,481.2 260.4,478.3 277.3,475.6" fill="none" stroke="#b030e0" stroke-width="1.05" stroke-linejoin="round"/>
<circle cx="234.2" cy="481.2" r="0.89" fill="#b030e0"/>
<circle cx="254.4" cy="481.2" r="0.89" fill="#b030e0"/>
<circle cx="260.4" cy="478.3" r="0.89" fill="#b030e0"/>
<circle cx="277.3" cy="475.6" r="0.89" fill="#b030e0"/>
<polyline points="216.3,487.2 234.2,492.8 250.3,486.3 260.4,478.3" fill="none" stroke="#2020f0" stroke-width="1.05" stroke-linejoin="round"/>
<circle cx="234.2" cy="492.8" r="0.89" fill="#2020f0"/>
<circle cx="250.3" cy="486.3" r="0.89" fill="#2020f0"/>
<circle cx="260.4" cy="478.3" r="0.89" fill="#2020f0"/>
<polyline points="216.3,487.2 234.2,485.0 255.0,471.5" fill="none" stroke="#40a040" stroke-width="1.05" stroke-linejoin="round"/>
<circle cx="234.2" cy="485.0" r="0.89" fill="#40a040"/>
<circle cx="255.0" cy="471.5" r="0.89" fill="#40a040"/>
<polyline points="216.3,487.2 234.2,486.5 251.7,490.4 259.1,520.7" fill="none" stroke="#3a8a50" stroke-width="1.05" stroke-linejoin="round"/>
<circle cx="234.2" cy="486.5" r="0.89" fill="#3a8a50"/>
<circle cx="251.7" cy="490.4" r="0.89" fill="#3a8a50"/>
<circle cx="259.1" cy="520.7" r="0.89" fill="#3a8a50"/>
<polyline points="216.3,487.2 234.2,483.6 251.7,499.8 267.8,488.4 284.0,476.9 301.1,465.6" fill="none" stroke="#3a7020" stroke-width="1.05" stroke-linejoin="round"/>
<circle cx="234.2" cy="483.6" r="0.89" fill="#3a7020"/>
<circle cx="251.7" cy="499.8" r="0.89" fill="#3a7020"/>
<circle cx="267.8" cy="488.4" r="0.89" fill="#3a7020"/>
<circle cx="284.0" cy="476.9" r="0.89" fill="#3a7020"/>
<circle cx="301.1" cy="465.6" r="0.89" fill="#3a7020"/>
<polyline points="216.3,487.2 232.8,495.8 251.7,500.5 267.8,500.5 284.8,500.2" fill="none" stroke="#a0f080" stroke-width="1.05" stroke-linejoin="round"/>
<circle cx="232.8" cy="495.8" r="0.89" fill="#a0f080"/>
<circle cx="251.7" cy="500.5" r="0.89" fill="#a0f080"/>
<circle cx="267.8" cy="500.5" r="0.89" fill="#a0f080"/>
<circle cx="284.8" cy="500.2" r="0.89" fill="#a0f080"/>
<polyline points="386.1,477.4 398.6,450.6 404.0,478.0 411.0,462.5 417.9,498.2 423.6,493.6 431.0,497.7 445.0,498.4 459.5,498.6" fill="none" stroke="#c8c028" stroke-width="1.05" stroke-linejoin="round"/>
<circle cx="398.6" cy="450.6" r="0.89" fill="#c8c028"/>
<circle cx="404.0" cy="478.0" r="0.89" fill="#c8c028"/>
<circle cx="411.0" cy="462.5" r="0.89" fill="#c8c028"/>
<circle cx="417.9" cy="498.2" r="0.89" fill="#c8c028"/>
<circle cx="423.6" cy="493.6" r="0.89" fill="#c8c028"/>
<circle cx="431.0" cy="497.7" r="0.89" fill="#c8c028"/>
<circle cx="445.0" cy="498.4" r="0.89" fill="#c8c028"/>
<circle cx="459.5" cy="498.6" r="0.89" fill="#c8c028"/>
<polyline points="386.1,477.4 392.2,464.2 398.8,478.0 404.6,471.0 416.7,467.7 423.0,466.0 434.6,475.2 440.0,465.0 446.7,454.9" fill="none" stroke="#d0106a" stroke-width="1.05" stroke-linejoin="round"/>
<circle cx="392.2" cy="464.2" r="0.89" fill="#d0106a"/>
<circle cx="398.8" cy="478.0" r="0.89" fill="#d0106a"/>
<circle cx="404.6" cy="471.0" r="0.89" fill="#d0106a"/>
<circle cx="416.7" cy="467.7" r="0.89" fill="#d0106a"/>
<circle cx="423.0" cy="466.0" r="0.89" fill="#d0106a"/>
<circle cx="434.6" cy="475.2" r="0.89" fill="#d0106a"/>
<circle cx="440.0" cy="465.0" r="0.89" fill="#d0106a"/>
<circle cx="446.7" cy="454.9" r="0.89" fill="#d0106a"/>
<polyline points="386.1,477.4 391.0,479.0 397.7,489.0 405.8,490.2 413.8,488.5 421.0,486.0 432.0,484.0 440.0,483.8 446.7,489.2 453.5,461.0 460.2,463.0" fill="none" stroke="#e03040" stroke-width="1.05" stroke-linejoin="round"/>
<circle cx="391.0" cy="479.0" r="0.89" fill="#e03040"/>
<circle cx="397.7" cy="489.0" r="0.89" fill="#e03040"/>
<circle cx="405.8" cy="490.2" r="0.89" fill="#e03040"/>
<circle cx="413.8" cy="488.5" r="0.89" fill="#e03040"/>
<circle cx="421.0" cy="486.0" r="0.89" fill="#e03040"/>
<circle cx="432.0" cy="484.0" r="0.89" fill="#e03040"/>
<circle cx="440.0" cy="483.8" r="0.89" fill="#e03040"/>
<circle cx="446.7" cy="489.2" r="0.89" fill="#e03040"/>
<circle cx="453.5" cy="461.0" r="0.89" fill="#e03040"/>
<circle cx="460.2" cy="463.0" r="0.89" fill="#e03040"/>
<polyline points="386.1,477.4 400.0,479.0 415.0,478.0 430.0,477.0 445.0,477.0 453.5,473.0 467.6,439.7 473.6,440.5 480.4,438.3 490.5,438.7 497.9,440.8 503.3,442.1" fill="none" stroke="#c8c8c8" stroke-width="1.05" stroke-linejoin="round"/>
<circle cx="400.0" cy="479.0" r="0.89" fill="#c8c8c8"/>
<circle cx="415.0" cy="478.0" r="0.89" fill="#c8c8c8"/>
<circle cx="430.0" cy="477.0" r="0.89" fill="#c8c8c8"/>
<circle cx="445.0" cy="477.0" r="0.89" fill="#c8c8c8"/>
<circle cx="453.5" cy="473.0" r="0.89" fill="#c8c8c8"/>
<circle cx="467.6" cy="439.7" r="0.89" fill="#c8c8c8"/>
<circle cx="473.6" cy="440.5" r="0.89" fill="#c8c8c8"/>
<circle cx="480.4" cy="438.3" r="0.89" fill="#c8c8c8"/>
<circle cx="490.5" cy="438.7" r="0.89" fill="#c8c8c8"/>
<circle cx="497.9" cy="440.8" r="0.89" fill="#c8c8c8"/>
<circle cx="503.3" cy="442.1" r="0.89" fill="#c8c8c8"/>
<polyline points="386.1,477.4 395.0,476.0 410.0,474.0 425.0,472.0 440.0,470.4 446.7,469.7 456.2,469.7 464.2,477.4 476.3,477.4" fill="none" stroke="#90f040" stroke-width="1.05" stroke-linejoin="round"/>
<circle cx="395.0" cy="476.0" r="0.89" fill="#90f040"/>
<circle cx="410.0" cy="474.0" r="0.89" fill="#90f040"/>
<circle cx="425.0" cy="472.0" r="0.89" fill="#90f040"/>
<circle cx="440.0" cy="470.4" r="0.89" fill="#90f040"/>
<circle cx="446.7" cy="469.7" r="0.89" fill="#90f040"/>
<circle cx="456.2" cy="469.7" r="0.89" fill="#90f040"/>
<circle cx="464.2" cy="477.4" r="0.89" fill="#90f040"/>
<circle cx="476.3" cy="477.4" r="0.89" fill="#90f040"/>
<polyline points="386.1,477.4 392.0,485.0 396.3,488.7 502.6,488.7" fill="none" stroke="#f07820" stroke-width="1.05" stroke-linejoin="round"/>
<circle cx="392.0" cy="485.0" r="0.89" fill="#f07820"/>
<circle cx="396.3" cy="488.7" r="0.89" fill="#f07820"/>
<circle cx="502.6" cy="488.7" r="0.89" fill="#f07820"/>
<polyline points="386.1,477.4 396.0,495.4 397.7,504.0 440.0,502.7 446.7,504.7 455.5,500.0 462.2,504.0 469.6,498.6 477.7,504.0 484.4,504.0 493.8,502.7 501.9,493.3" fill="none" stroke="#80f0b0" stroke-width="1.05" stroke-linejoin="round"/>
<circle cx="396.0" cy="495.4" r="0.89" fill="#80f0b0"/>
<circle cx="397.7" cy="504.0" r="0.89" fill="#80f0b0"/>
<circle cx="440.0" cy="502.7" r="0.89" fill="#80f0b0"/>
<circle cx="446.7" cy="504.7" r="0.89" fill="#80f0b0"/>
<circle cx="455.5" cy="500.0" r="0.89" fill="#80f0b0"/>
<circle cx="462.2" cy="504.0" r="0.89" fill="#80f0b0"/>
<circle cx="469.6" cy="498.6" r="0.89" fill="#80f0b0"/>
<circle cx="477.7" cy="504.0" r="0.89" fill="#80f0b0"/>
<circle cx="484.4" cy="504.0" r="0.89" fill="#80f0b0"/>
<circle cx="493.8" cy="502.7" r="0.89" fill="#80f0b0"/>
<circle cx="501.9" cy="493.3" r="0.89" fill="#80f0b0"/>
<polyline points="386.1,477.4 393.0,490.0 400.0,504.6 404.0,516.1 416.1,516.1 428.8,509.8 434.6,503.4 440.0,505.4 447.4,510.8 459.5,494.6 466.2,500.0 471.6,515.9 477.7,504.0 489.8,515.9" fill="none" stroke="#a05a20" stroke-width="1.05" stroke-linejoin="round"/>
<circle cx="393.0" cy="490.0" r="0.89" fill="#a05a20"/>
<circle cx="400.0" cy="504.6" r="0.89" fill="#a05a20"/>
<circle cx="404.0" cy="516.1" r="0.89" fill="#a05a20"/>
<circle cx="416.1" cy="516.1" r="0.89" fill="#a05a20"/>
<circle cx="428.8" cy="509.8" r="0.89" fill="#a05a20"/>
<circle cx="434.6" cy="503.4" r="0.89" fill="#a05a20"/>
<circle cx="440.0" cy="505.4" r="0.89" fill="#a05a20"/>
<circle cx="447.4" cy="510.8" r="0.89" fill="#a05a20"/>
<circle cx="459.5" cy="494.6" r="0.89" fill="#a05a20"/>
<circle cx="466.2" cy="500.0" r="0.89" fill="#a05a20"/>
<circle cx="471.6" cy="515.9" r="0.89" fill="#a05a20"/>
<circle cx="477.7" cy="504.0" r="0.89" fill="#a05a20"/>
<circle cx="489.8" cy="515.9" r="0.89" fill="#a05a20"/>
<polyline points="386.1,477.4 394.0,492.0 400.0,504.6 404.0,516.1 409.8,516.1 416.7,504.6 424.2,516.1 434.6,516.1 441.5,503.4 446.0,500.0 452.8,485.2 458.8,516.1 461.5,500.7" fill="none" stroke="#f0b070" stroke-width="1.05" stroke-linejoin="round"/>
<circle cx="394.0" cy="492.0" r="0.89" fill="#f0b070"/>
<circle cx="400.0" cy="504.6" r="0.89" fill="#f0b070"/>
<circle cx="404.0" cy="516.1" r="0.89" fill="#f0b070"/>
<circle cx="409.8" cy="516.1" r="0.89" fill="#f0b070"/>
<circle cx="416.7" cy="504.6" r="0.89" fill="#f0b070"/>
<circle cx="424.2" cy="516.1" r="0.89" fill="#f0b070"/>
<circle cx="434.6" cy="516.1" r="0.89" fill="#f0b070"/>
<circle cx="441.5" cy="503.4" r="0.89" fill="#f0b070"/>
<circle cx="446.0" cy="500.0" r="0.89" fill="#f0b070"/>
<circle cx="452.8" cy="485.2" r="0.89" fill="#f0b070"/>
<circle cx="458.8" cy="516.1" r="0.89" fill="#f0b070"/>
<circle cx="461.5" cy="500.7" r="0.89" fill="#f0b070"/>
<polyline points="386.1,477.4 398.0,495.0 404.6,502.9 412.1,498.3 418.4,501.7 430.0,500.0 440.0,495.0 457.5,486.5" fill="none" stroke="#f09040" stroke-width="1.05" stroke-linejoin="round"/>
<circle cx="398.0" cy="495.0" r="0.89" fill="#f09040"/>
<circle cx="404.6" cy="502.9" r="0.89" fill="#f09040"/>
<circle cx="412.1" cy="498.3" r="0.89" fill="#f09040"/>
<circle cx="418.4" cy="501.7" r="0.89" fill="#f09040"/>
<circle cx="430.0" cy="500.0" r="0.89" fill="#f09040"/>
<circle cx="440.0" cy="495.0" r="0.89" fill="#f09040"/>
<circle cx="457.5" cy="486.5" r="0.89" fill="#f09040"/>
<polyline points="386.1,477.4 396.5,489.0 402.3,496.5 405.2,502.9 420.0,502.0 435.0,501.0 444.0,502.7 454.1,488.5" fill="none" stroke="#8020c0" stroke-width="1.05" stroke-linejoin="round"/>
<circle cx="396.5" cy="489.0" r="0.89" fill="#8020c0"/>
<circle cx="402.3" cy="496.5" r="0.89" fill="#8020c0"/>
<circle cx="405.2" cy="502.9" r="0.89" fill="#8020c0"/>
<circle cx="420.0" cy="502.0" r="0.89" fill="#8020c0"/>
<circle cx="435.0" cy="501.0" r="0.89" fill="#8020c0"/>
<circle cx="444.0" cy="502.7" r="0.89" fill="#8020c0"/>
<circle cx="454.1" cy="488.5" r="0.89" fill="#8020c0"/>
<polyline points="386.1,477.4 396.5,490.8 403.5,490.2 408.0,488.5 414.0,487.9 420.0,489.0" fill="none" stroke="#f0f000" stroke-width="1.05" stroke-linejoin="round"/>
<circle cx="396.5" cy="490.8" r="0.89" fill="#f0f000"/>
<circle cx="403.5" cy="490.2" r="0.89" fill="#f0f000"/>
<circle cx="408.0" cy="488.5" r="0.89" fill="#f0f000"/>
<circle cx="414.0" cy="487.9" r="0.89" fill="#f0f000"/>
<circle cx="420.0" cy="489.0" r="0.89" fill="#f0f000"/>
<polyline points="386.1,477.4 398.8,494.2 408.0,492.5 415.0,489.6 420.8,488.5 425.4,487.3 431.1,492.5 438.0,486.1 444.0,481.0 455.5,477.8" fill="none" stroke="#3030ff" stroke-width="1.05" stroke-linejoin="round"/>
<circle cx="398.8" cy="494.2" r="0.89" fill="#3030ff"/>
<circle cx="408.0" cy="492.5" r="0.89" fill="#3030ff"/>
<circle cx="415.0" cy="489.6" r="0.89" fill="#3030ff"/>
<circle cx="420.8" cy="488.5" r="0.89" fill="#3030ff"/>
<circle cx="425.4" cy="487.3" r="0.89" fill="#3030ff"/>
<circle cx="431.1" cy="492.5" r="0.89" fill="#3030ff"/>
<circle cx="438.0" cy="486.1" r="0.89" fill="#3030ff"/>
<circle cx="444.0" cy="481.0" r="0.89" fill="#3030ff"/>
<circle cx="455.5" cy="477.8" r="0.89" fill="#3030ff"/>
<polyline points="386.1,477.4 395.0,477.0 403.5,480.4 409.8,485.0 415.0,475.8 422.0,482.0 430.0,485.0 437.0,487.0" fill="none" stroke="#404040" stroke-width="1.05" stroke-linejoin="round"/>
<circle cx="395.0" cy="477.0" r="0.89" fill="#404040"/>
<circle cx="403.5" cy="480.4" r="0.89" fill="#404040"/>
<circle cx="409.8" cy="485.0" r="0.89" fill="#404040"/>
<circle cx="415.0" cy="475.8" r="0.89" fill="#404040"/>
<circle cx="422.0" cy="482.0" r="0.89" fill="#404040"/>
<circle cx="430.0" cy="485.0" r="0.89" fill="#404040"/>
<circle cx="437.0" cy="487.0" r="0.89" fill="#404040"/>
<polyline points="386.1,477.4 393.0,474.5 401.1,481.0 404.0,485.0 411.5,484.4 416.1,481.5 423.0,479.2 434.6,478.7 440.0,476.0 445.0,474.5" fill="none" stroke="#306070" stroke-width="1.05" stroke-linejoin="round"/>
<circle cx="393.0" cy="474.5" r="0.89" fill="#306070"/>
<circle cx="401.1" cy="481.0" r="0.89" fill="#306070"/>
<circle cx="404.0" cy="485.0" r="0.89" fill="#306070"/>
<circle cx="411.5" cy="484.4" r="0.89" fill="#306070"/>
<circle cx="416.1" cy="481.5" r="0.89" fill="#306070"/>
<circle cx="423.0" cy="479.2" r="0.89" fill="#306070"/>
<circle cx="434.6" cy="478.7" r="0.89" fill="#306070"/>
<circle cx="440.0" cy="476.0" r="0.89" fill="#306070"/>
<circle cx="445.0" cy="474.5" r="0.89" fill="#306070"/>
<polyline points="386.1,477.4 400.0,482.0 410.4,482.7 423.0,482.1 435.0,481.5 445.0,481.0" fill="none" stroke="#70b0ff" stroke-width="1.05" stroke-linejoin="round"/>
<circle cx="400.0" cy="482.0" r="0.89" fill="#70b0ff"/>
<circle cx="410.4" cy="482.7" r="0.89" fill="#70b0ff"/>
<circle cx="423.0" cy="482.1" r="0.89" fill="#70b0ff"/>
<circle cx="435.0" cy="481.5" r="0.89" fill="#70b0ff"/>
<circle cx="445.0" cy="481.0" r="0.89" fill="#70b0ff"/>
<polyline points="386.1,477.4 395.0,473.0 404.6,482.7 414.0,475.0 425.0,473.0 435.0,474.0" fill="none" stroke="#c060e0" stroke-width="1.05" stroke-linejoin="round"/>
<circle cx="395.0" cy="473.0" r="0.89" fill="#c060e0"/>
<circle cx="404.6" cy="482.7" r="0.89" fill="#c060e0"/>
<circle cx="414.0" cy="475.0" r="0.89" fill="#c060e0"/>
<circle cx="425.0" cy="473.0" r="0.89" fill="#c060e0"/>
<circle cx="435.0" cy="474.0" r="0.89" fill="#c060e0"/>
<polyline points="386.1,477.4 400.0,479.0 420.0,481.0 435.0,480.0 454.8,482.5 461.5,481.1" fill="none" stroke="#a0a0a0" stroke-width="1.05" stroke-linejoin="round"/>
<circle cx="400.0" cy="479.0" r="0.89" fill="#a0a0a0"/>
<circle cx="420.0" cy="481.0" r="0.89" fill="#a0a0a0"/>
<circle cx="435.0" cy="480.0" r="0.89" fill="#a0a0a0"/>
<circle cx="454.8" cy="482.5" r="0.89" fill="#a0a0a0"/>
<circle cx="461.5" cy="481.1" r="0.89" fill="#a0a0a0"/>
<polyline points="386.1,477.4 392.0,470.0 400.0,472.0 410.0,470.0 420.0,469.0 430.0,472.0" fill="none" stroke="#f060c0" stroke-width="1.05" stroke-linejoin="round"/>
<circle cx="392.0" cy="470.0" r="0.89" fill="#f060c0"/>
<circle cx="400.0" cy="472.0" r="0.89" fill="#f060c0"/>
<circle cx="410.0" cy="470.0" r="0.89" fill="#f060c0"/>
<circle cx="420.0" cy="469.0" r="0.89" fill="#f060c0"/>
<circle cx="430.0" cy="472.0" r="0.89" fill="#f060c0"/>
<polyline points="386.1,477.4 400.0,475.0 408.0,472.0 416.1,466.5 423.0,466.0 431.1,466.5 437.5,474.6" fill="none" stroke="#8080ff" stroke-width="1.05" stroke-linejoin="round"/>
<circle cx="400.0" cy="475.0" r="0.89" fill="#8080ff"/>
<circle cx="408.0" cy="472.0" r="0.89" fill="#8080ff"/>
<circle cx="416.1" cy="466.5" r="0.89" fill="#8080ff"/>
<circle cx="423.0" cy="466.0" r="0.89" fill="#8080ff"/>
<circle cx="431.1" cy="466.5" r="0.89" fill="#8080ff"/>
<circle cx="437.5" cy="474.6" r="0.89" fill="#8080ff"/>
<polyline points="386.1,477.4 398.0,476.0 410.0,478.0 423.0,477.5 430.0,473.4 440.0,470.5 445.0,469.5" fill="none" stroke="#a0e020" stroke-width="1.05" stroke-linejoin="round"/>
<circle cx="398.0" cy="476.0" r="0.89" fill="#a0e020"/>
<circle cx="410.0" cy="478.0" r="0.89" fill="#a0e020"/>
<circle cx="423.0" cy="477.5" r="0.89" fill="#a0e020"/>
<circle cx="430.0" cy="473.4" r="0.89" fill="#a0e020"/>
<circle cx="440.0" cy="470.5" r="0.89" fill="#a0e020"/>
<circle cx="445.0" cy="469.5" r="0.89" fill="#a0e020"/>
<polyline points="216.4,617.0 230.8,589.2 242.3,591.8 248.8,599.0 255.4,595.8 261.9,598.4 268.4,610.5 275.6,615.4 281.5,607.8 288.0,608.8 294.6,605.6 301.1,601.6 307.0,602.9 312.5,599.7 319.1,602.9 325.6,604.9 330.5,602.9 335.4,607.2" fill="none" stroke="#b4b4b4" stroke-width="0.8" stroke-linejoin="round" stroke-dasharray="1.2,1.2"/>
<circle cx="230.8" cy="589.2" r="0.68" fill="#b4b4b4"/>
<circle cx="242.3" cy="591.8" r="0.68" fill="#b4b4b4"/>
<circle cx="248.8" cy="599.0" r="0.68" fill="#b4b4b4"/>
<circle cx="255.4" cy="595.8" r="0.68" fill="#b4b4b4"/>
<circle cx="261.9" cy="598.4" r="0.68" fill="#b4b4b4"/>
<circle cx="268.4" cy="610.5" r="0.68" fill="#b4b4b4"/>
<circle cx="275.6" cy="615.4" r="0.68" fill="#b4b4b4"/>
<circle cx="281.5" cy="607.8" r="0.68" fill="#b4b4b4"/>
<circle cx="288.0" cy="608.8" r="0.68" fill="#b4b4b4"/>
<circle cx="294.6" cy="605.6" r="0.68" fill="#b4b4b4"/>
<circle cx="301.1" cy="601.6" r="0.68" fill="#b4b4b4"/>
<circle cx="307.0" cy="602.9" r="0.68" fill="#b4b4b4"/>
<circle cx="312.5" cy="599.7" r="0.68" fill="#b4b4b4"/>
<circle cx="319.1" cy="602.9" r="0.68" fill="#b4b4b4"/>
<circle cx="325.6" cy="604.9" r="0.68" fill="#b4b4b4"/>
<circle cx="330.5" cy="602.9" r="0.68" fill="#b4b4b4"/>
<circle cx="335.4" cy="607.2" r="0.68" fill="#b4b4b4"/>
<polyline points="216.4,617.0 222.8,622.0 230.0,622.0 240.0,622.0 250.0,622.0 260.0,622.0 270.0,622.0 280.0,622.0 290.0,622.0 300.0,622.0 310.0,622.0 320.0,622.0 333.0,622.0" fill="none" stroke="#4a80b0" stroke-width="1.05" stroke-linejoin="round"/>
<circle cx="222.8" cy="622.0" r="0.89" fill="#4a80b0"/>
<circle cx="230.0" cy="622.0" r="0.89" fill="#4a80b0"/>
<circle cx="240.0" cy="622.0" r="0.89" fill="#4a80b0"/>
<circle cx="250.0" cy="622.0" r="0.89" fill="#4a80b0"/>
<circle cx="260.0" cy="622.0" r="0.89" fill="#4a80b0"/>
<circle cx="270.0" cy="622.0" r="0.89" fill="#4a80b0"/>
<circle cx="280.0" cy="622.0" r="0.89" fill="#4a80b0"/>
<circle cx="290.0" cy="622.0" r="0.89" fill="#4a80b0"/>
<circle cx="300.0" cy="622.0" r="0.89" fill="#4a80b0"/>
<circle cx="310.0" cy="622.0" r="0.89" fill="#4a80b0"/>
<circle cx="320.0" cy="622.0" r="0.89" fill="#4a80b0"/>
<circle cx="333.0" cy="622.0" r="0.89" fill="#4a80b0"/>
<polyline points="216.4,617.0 229.2,603.9 235.8,655.6 245.0,655.6 255.0,655.6 265.0,655.6 275.0,655.6 285.0,655.6 295.0,655.6 305.0,655.6 315.0,655.6 325.0,655.6 333.5,655.6" fill="none" stroke="#9a8a40" stroke-width="1.05" stroke-linejoin="round"/>
<circle cx="229.2" cy="603.9" r="0.89" fill="#9a8a40"/>
<circle cx="235.8" cy="655.6" r="0.89" fill="#9a8a40"/>
<circle cx="245.0" cy="655.6" r="0.89" fill="#9a8a40"/>
<circle cx="255.0" cy="655.6" r="0.89" fill="#9a8a40"/>
<circle cx="265.0" cy="655.6" r="0.89" fill="#9a8a40"/>
<circle cx="275.0" cy="655.6" r="0.89" fill="#9a8a40"/>
<circle cx="285.0" cy="655.6" r="0.89" fill="#9a8a40"/>
<circle cx="295.0" cy="655.6" r="0.89" fill="#9a8a40"/>
<circle cx="305.0" cy="655.6" r="0.89" fill="#9a8a40"/>
<circle cx="315.0" cy="655.6" r="0.89" fill="#9a8a40"/>
<circle cx="325.0" cy="655.6" r="0.89" fill="#9a8a40"/>
<circle cx="333.5" cy="655.6" r="0.89" fill="#9a8a40"/>
<polyline points="216.4,617.0 222.7,636.6 230.8,655.6 238.0,655.6 245.6,655.6" fill="none" stroke="#8a0010" stroke-width="1.05" stroke-linejoin="round"/>
<circle cx="222.7" cy="636.6" r="0.89" fill="#8a0010"/>
<circle cx="230.8" cy="655.6" r="0.89" fill="#8a0010"/>
<circle cx="238.0" cy="655.6" r="0.89" fill="#8a0010"/>
<circle cx="245.6" cy="655.6" r="0.89" fill="#8a0010"/>
<polyline points="216.4,617.0 222.7,610.5 235.8,621.9 240.7,638.2 247.2,647.4" fill="none" stroke="#f05020" stroke-width="1.05" stroke-linejoin="round"/>
<circle cx="222.7" cy="610.5" r="0.89" fill="#f05020"/>
<circle cx="235.8" cy="621.9" r="0.89" fill="#f05020"/>
<circle cx="240.7" cy="638.2" r="0.89" fill="#f05020"/>
<circle cx="247.2" cy="647.4" r="0.89" fill="#f05020"/>
<polyline points="216.4,617.0 222.8,621.8 228.9,640.0 236.6,632.2 241.8,641.7 250.4,642.5 260.0,642.5 270.0,642.5 280.0,642.5 290.0,642.5 300.0,642.5 310.0,642.5 320.0,642.5 333.0,642.5" fill="none" stroke="#50c030" stroke-width="1.05" stroke-linejoin="round"/>
<circle cx="222.8" cy="621.8" r="0.89" fill="#50c030"/>
<circle cx="228.9" cy="640.0" r="0.89" fill="#50c030"/>
<circle cx="236.6" cy="632.2" r="0.89" fill="#50c030"/>
<circle cx="241.8" cy="641.7" r="0.89" fill="#50c030"/>
<circle cx="250.4" cy="642.5" r="0.89" fill="#50c030"/>
<circle cx="260.0" cy="642.5" r="0.89" fill="#50c030"/>
<circle cx="270.0" cy="642.5" r="0.89" fill="#50c030"/>
<circle cx="280.0" cy="642.5" r="0.89" fill="#50c030"/>
<circle cx="290.0" cy="642.5" r="0.89" fill="#50c030"/>
<circle cx="300.0" cy="642.5" r="0.89" fill="#50c030"/>
<circle cx="310.0" cy="642.5" r="0.89" fill="#50c030"/>
<circle cx="320.0" cy="642.5" r="0.89" fill="#50c030"/>
<circle cx="333.0" cy="642.5" r="0.89" fill="#50c030"/>
<polyline points="216.4,617.0 222.0,637.4 230.6,639.1 236.6,638.2 245.0,639.0 255.0,639.0 265.0,639.0 273.0,638.0 278.0,639.0 290.0,639.0 300.0,639.0 310.0,639.0 320.0,639.0 333.0,639.0" fill="none" stroke="#2020d0" stroke-width="1.05" stroke-linejoin="round"/>
<circle cx="222.0" cy="637.4" r="0.89" fill="#2020d0"/>
<circle cx="230.6" cy="639.1" r="0.89" fill="#2020d0"/>
<circle cx="236.6" cy="638.2" r="0.89" fill="#2020d0"/>
<circle cx="245.0" cy="639.0" r="0.89" fill="#2020d0"/>
<circle cx="255.0" cy="639.0" r="0.89" fill="#2020d0"/>
<circle cx="265.0" cy="639.0" r="0.89" fill="#2020d0"/>
<circle cx="273.0" cy="638.0" r="0.89" fill="#2020d0"/>
<circle cx="278.0" cy="639.0" r="0.89" fill="#2020d0"/>
<circle cx="290.0" cy="639.0" r="0.89" fill="#2020d0"/>
<circle cx="300.0" cy="639.0" r="0.89" fill="#2020d0"/>
<circle cx="310.0" cy="639.0" r="0.89" fill="#2020d0"/>
<circle cx="320.0" cy="639.0" r="0.89" fill="#2020d0"/>
<circle cx="333.0" cy="639.0" r="0.89" fill="#2020d0"/>
<polyline points="216.4,617.0 222.8,634.0 229.2,634.0 240.0,634.0 250.0,634.0 260.0,634.0 270.0,633.0 280.0,634.0 290.0,634.0 304.4,634.0" fill="none" stroke="#f08090" stroke-width="1.05" stroke-linejoin="round"/>
<circle cx="222.8" cy="634.0" r="0.89" fill="#f08090"/>
<circle cx="229.2" cy="634.0" r="0.89" fill="#f08090"/>
<circle cx="240.0" cy="634.0" r="0.89" fill="#f08090"/>
<circle cx="250.0" cy="634.0" r="0.89" fill="#f08090"/>
<circle cx="260.0" cy="634.0" r="0.89" fill="#f08090"/>
<circle cx="270.0" cy="633.0" r="0.89" fill="#f08090"/>
<circle cx="280.0" cy="634.0" r="0.89" fill="#f08090"/>
<circle cx="290.0" cy="634.0" r="0.89" fill="#f08090"/>
<circle cx="304.4" cy="634.0" r="0.89" fill="#f08090"/>
<polyline points="216.4,617.0 222.8,619.2 229.7,646.0 240.0,646.0 250.0,646.0 260.0,646.0 270.0,646.0 280.0,646.0 290.0,646.0 300.0,646.0 310.0,646.0 324.0,646.0" fill="none" stroke="#c8b878" stroke-width="1.05" stroke-linejoin="round"/>
<circle cx="222.8" cy="619.2" r="0.89" fill="#c8b878"/>
<circle cx="229.7" cy="646.0" r="0.89" fill="#c8b878"/>
<circle cx="240.0" cy="646.0" r="0.89" fill="#c8b878"/>
<circle cx="250.0" cy="646.0" r="0.89" fill="#c8b878"/>
<circle cx="260.0" cy="646.0" r="0.89" fill="#c8b878"/>
<circle cx="270.0" cy="646.0" r="0.89" fill="#c8b878"/>
<circle cx="280.0" cy="646.0" r="0.89" fill="#c8b878"/>
<circle cx="290.0" cy="646.0" r="0.89" fill="#c8b878"/>
<circle cx="300.0" cy="646.0" r="0.89" fill="#c8b878"/>
<circle cx="310.0" cy="646.0" r="0.89" fill="#c8b878"/>
<circle cx="324.0" cy="646.0" r="0.89" fill="#c8b878"/>
<polyline points="22.8,477.4 35.3,450.8 40.7,478.0 47.6,462.6 54.5,498.0 60.2,493.4 67.6,497.5 81.5,498.2 96.0,498.4" fill="none" stroke="#c8c028" stroke-width="1.05" stroke-linejoin="round"/>
<circle cx="35.3" cy="450.8" r="0.89" fill="#c8c028"/>
<circle cx="40.7" cy="478.0" r="0.89" fill="#c8c028"/>
<circle cx="47.6" cy="462.6" r="0.89" fill="#c8c028"/>
<circle cx="54.5" cy="498.0" r="0.89" fill="#c8c028"/>
<circle cx="60.2" cy="493.4" r="0.89" fill="#c8c028"/>
<circle cx="67.6" cy="497.5" r="0.89" fill="#c8c028"/>
<circle cx="81.5" cy="498.2" r="0.89" fill="#c8c028"/>
<circle cx="96.0" cy="498.4" r="0.89" fill="#c8c028"/>
<polyline points="22.8,477.4 28.9,464.3 35.5,478.0 41.3,471.0 53.3,467.8 59.6,466.1 71.2,475.2 76.6,465.1 83.2,455.1" fill="none" stroke="#d0106a" stroke-width="1.05" stroke-linejoin="round"/>
<circle cx="28.9" cy="464.3" r="0.89" fill="#d0106a"/>
<circle cx="35.5" cy="478.0" r="0.89" fill="#d0106a"/>
<circle cx="41.3" cy="471.0" r="0.89" fill="#d0106a"/>
<circle cx="53.3" cy="467.8" r="0.89" fill="#d0106a"/>
<circle cx="59.6" cy="466.1" r="0.89" fill="#d0106a"/>
<circle cx="71.2" cy="475.2" r="0.89" fill="#d0106a"/>
<circle cx="76.6" cy="465.1" r="0.89" fill="#d0106a"/>
<circle cx="83.2" cy="455.1" r="0.89" fill="#d0106a"/>
<polyline points="22.8,477.4 27.7,479.0 34.4,488.9 42.4,490.1 50.4,488.4 57.6,485.9 68.6,483.9 76.6,483.7 83.2,489.1 90.0,461.1 96.7,463.1" fill="none" stroke="#e03040" stroke-width="1.05" stroke-linejoin="round"/>
<circle cx="27.7" cy="479.0" r="0.89" fill="#e03040"/>
<circle cx="34.4" cy="488.9" r="0.89" fill="#e03040"/>
<circle cx="42.4" cy="490.1" r="0.89" fill="#e03040"/>
<circle cx="50.4" cy="488.4" r="0.89" fill="#e03040"/>
<circle cx="57.6" cy="485.9" r="0.89" fill="#e03040"/>
<circle cx="68.6" cy="483.9" r="0.89" fill="#e03040"/>
<circle cx="76.6" cy="483.7" r="0.89" fill="#e03040"/>
<circle cx="83.2" cy="489.1" r="0.89" fill="#e03040"/>
<circle cx="90.0" cy="461.1" r="0.89" fill="#e03040"/>
<circle cx="96.7" cy="463.1" r="0.89" fill="#e03040"/>
<polyline points="22.8,477.4 36.7,479.0 51.6,478.0 66.6,477.0 81.5,477.0 90.0,473.0 104.1,440.0 110.1,440.8 116.9,438.6 126.9,439.0 134.3,441.1 139.7,442.4" fill="none" stroke="#c8c8c8" stroke-width="1.05" stroke-linejoin="round"/>
<circle cx="36.7" cy="479.0" r="0.89" fill="#c8c8c8"/>
<circle cx="51.6" cy="478.0" r="0.89" fill="#c8c8c8"/>
<circle cx="66.6" cy="477.0" r="0.89" fill="#c8c8c8"/>
<circle cx="81.5" cy="477.0" r="0.89" fill="#c8c8c8"/>
<circle cx="90.0" cy="473.0" r="0.89" fill="#c8c8c8"/>
<circle cx="104.1" cy="440.0" r="0.89" fill="#c8c8c8"/>
<circle cx="110.1" cy="440.8" r="0.89" fill="#c8c8c8"/>
<circle cx="116.9" cy="438.6" r="0.89" fill="#c8c8c8"/>
<circle cx="126.9" cy="439.0" r="0.89" fill="#c8c8c8"/>
<circle cx="134.3" cy="441.1" r="0.89" fill="#c8c8c8"/>
<circle cx="139.7" cy="442.4" r="0.89" fill="#c8c8c8"/>
<polyline points="22.8,477.4 31.7,476.0 46.6,474.0 61.6,472.0 76.6,470.4 83.2,469.7 92.7,469.7 100.7,477.4 112.8,477.4" fill="none" stroke="#90f040" stroke-width="1.05" stroke-linejoin="round"/>
<circle cx="31.7" cy="476.0" r="0.89" fill="#90f040"/>
<circle cx="46.6" cy="474.0" r="0.89" fill="#90f040"/>
<circle cx="61.6" cy="472.0" r="0.89" fill="#90f040"/>
<circle cx="76.6" cy="470.4" r="0.89" fill="#90f040"/>
<circle cx="83.2" cy="469.7" r="0.89" fill="#90f040"/>
<circle cx="92.7" cy="469.7" r="0.89" fill="#90f040"/>
<circle cx="100.7" cy="477.4" r="0.89" fill="#90f040"/>
<circle cx="112.8" cy="477.4" r="0.89" fill="#90f040"/>
<polyline points="22.8,477.4 28.7,484.9 33.0,488.6 139.0,488.6" fill="none" stroke="#f07820" stroke-width="1.05" stroke-linejoin="round"/>
<circle cx="28.7" cy="484.9" r="0.89" fill="#f07820"/>
<circle cx="33.0" cy="488.6" r="0.89" fill="#f07820"/>
<circle cx="139.0" cy="488.6" r="0.89" fill="#f07820"/>
<polyline points="22.8,477.4 32.7,495.2 34.4,503.8 76.6,502.5 83.2,504.5 92.0,499.8 98.7,503.8 106.1,498.4 114.2,503.8 120.8,503.8 130.2,502.5 138.3,493.1" fill="none" stroke="#80f0b0" stroke-width="1.05" stroke-linejoin="round"/>
<circle cx="32.7" cy="495.2" r="0.89" fill="#80f0b0"/>
<circle cx="34.4" cy="503.8" r="0.89" fill="#80f0b0"/>
<circle cx="76.6" cy="502.5" r="0.89" fill="#80f0b0"/>
<circle cx="83.2" cy="504.5" r="0.89" fill="#80f0b0"/>
<circle cx="92.0" cy="499.8" r="0.89" fill="#80f0b0"/>
<circle cx="98.7" cy="503.8" r="0.89" fill="#80f0b0"/>
<circle cx="106.1" cy="498.4" r="0.89" fill="#80f0b0"/>
<circle cx="114.2" cy="503.8" r="0.89" fill="#80f0b0"/>
<circle cx="120.8" cy="503.8" r="0.89" fill="#80f0b0"/>
<circle cx="130.2" cy="502.5" r="0.89" fill="#80f0b0"/>
<circle cx="138.3" cy="493.1" r="0.89" fill="#80f0b0"/>
<polyline points="22.8,477.4 29.7,489.9 36.7,504.4 40.7,515.8 52.7,515.8 65.4,509.5 71.2,503.2 76.6,505.1 83.9,510.5 96.0,494.4 102.7,499.8 108.1,515.6 114.2,503.8 126.2,515.6" fill="none" stroke="#a05a20" stroke-width="1.05" stroke-linejoin="round"/>
<circle cx="29.7" cy="489.9" r="0.89" fill="#a05a20"/>
<circle cx="36.7" cy="504.4" r="0.89" fill="#a05a20"/>
<circle cx="40.7" cy="515.8" r="0.89" fill="#a05a20"/>
<circle cx="52.7" cy="515.8" r="0.89" fill="#a05a20"/>
<circle cx="65.4" cy="509.5" r="0.89" fill="#a05a20"/>
<circle cx="71.2" cy="503.2" r="0.89" fill="#a05a20"/>
<circle cx="76.6" cy="505.1" r="0.89" fill="#a05a20"/>
<circle cx="83.9" cy="510.5" r="0.89" fill="#a05a20"/>
<circle cx="96.0" cy="494.4" r="0.89" fill="#a05a20"/>
<circle cx="102.7" cy="499.8" r="0.89" fill="#a05a20"/>
<circle cx="108.1" cy="515.6" r="0.89" fill="#a05a20"/>
<circle cx="114.2" cy="503.8" r="0.89" fill="#a05a20"/>
<circle cx="126.2" cy="515.6" r="0.89" fill="#a05a20"/>
<polyline points="22.8,477.4 30.7,491.9 36.7,504.4 40.7,515.8 46.4,515.8 53.3,504.4 60.8,515.8 71.2,515.8 78.1,503.2 82.5,499.8 89.3,485.1 95.3,515.8 98.0,500.5" fill="none" stroke="#f0b070" stroke-width="1.05" stroke-linejoin="round"/>
<circle cx="30.7" cy="491.9" r="0.89" fill="#f0b070"/>
<circle cx="36.7" cy="504.4" r="0.89" fill="#f0b070"/>
<circle cx="40.7" cy="515.8" r="0.89" fill="#f0b070"/>
<circle cx="46.4" cy="515.8" r="0.89" fill="#f0b070"/>
<circle cx="53.3" cy="504.4" r="0.89" fill="#f0b070"/>
<circle cx="60.8" cy="515.8" r="0.89" fill="#f0b070"/>
<circle cx="71.2" cy="515.8" r="0.89" fill="#f0b070"/>
<circle cx="78.1" cy="503.2" r="0.89" fill="#f0b070"/>
<circle cx="82.5" cy="499.8" r="0.89" fill="#f0b070"/>
<circle cx="89.3" cy="485.1" r="0.89" fill="#f0b070"/>
<circle cx="95.3" cy="515.8" r="0.89" fill="#f0b070"/>
<circle cx="98.0" cy="500.5" r="0.89" fill="#f0b070"/>
<polyline points="22.8,477.4 34.7,494.8 41.3,502.7 48.7,498.1 55.0,501.5 66.6,499.8 76.6,494.8 94.0,486.4" fill="none" stroke="#f09040" stroke-width="1.05" stroke-linejoin="round"/>
<circle cx="34.7" cy="494.8" r="0.89" fill="#f09040"/>
<circle cx="41.3" cy="502.7" r="0.89" fill="#f09040"/>
<circle cx="48.7" cy="498.1" r="0.89" fill="#f09040"/>
<circle cx="55.0" cy="501.5" r="0.89" fill="#f09040"/>
<circle cx="66.6" cy="499.8" r="0.89" fill="#f09040"/>
<circle cx="76.6" cy="494.8" r="0.89" fill="#f09040"/>
<circle cx="94.0" cy="486.4" r="0.89" fill="#f09040"/>
<polyline points="22.8,477.4 33.2,488.9 39.0,496.3 41.9,502.7 56.6,501.8 71.6,500.8 80.6,502.5 90.6,488.4" fill="none" stroke="#8020c0" stroke-width="1.05" stroke-linejoin="round"/>
<circle cx="33.2" cy="488.9" r="0.89" fill="#8020c0"/>
<circle cx="39.0" cy="496.3" r="0.89" fill="#8020c0"/>
<circle cx="41.9" cy="502.7" r="0.89" fill="#8020c0"/>
<circle cx="56.6" cy="501.8" r="0.89" fill="#8020c0"/>
<circle cx="71.6" cy="500.8" r="0.89" fill="#8020c0"/>
<circle cx="80.6" cy="502.5" r="0.89" fill="#8020c0"/>
<circle cx="90.6" cy="488.4" r="0.89" fill="#8020c0"/>
<polyline points="22.8,477.4 33.2,490.7 40.2,490.1 44.6,488.4 50.6,487.8 56.6,488.9" fill="none" stroke="#f0f000" stroke-width="1.05" stroke-linejoin="round"/>
<circle cx="33.2" cy="490.7" r="0.89" fill="#f0f000"/>
<circle cx="40.2" cy="490.1" r="0.89" fill="#f0f000"/>
<circle cx="44.6" cy="488.4" r="0.89" fill="#f0f000"/>
<circle cx="50.6" cy="487.8" r="0.89" fill="#f0f000"/>
<circle cx="56.6" cy="488.9" r="0.89" fill="#f0f000"/>
<polyline points="22.8,477.4 35.5,494.0 44.6,492.4 51.6,489.5 57.4,488.4 62.0,487.2 67.7,492.4 74.6,486.0 80.6,481.0 92.0,477.8" fill="none" stroke="#3030ff" stroke-width="1.05" stroke-linejoin="round"/>
<circle cx="35.5" cy="494.0" r="0.89" fill="#3030ff"/>
<circle cx="44.6" cy="492.4" r="0.89" fill="#3030ff"/>
<circle cx="51.6" cy="489.5" r="0.89" fill="#3030ff"/>
<circle cx="57.4" cy="488.4" r="0.89" fill="#3030ff"/>
<circle cx="62.0" cy="487.2" r="0.89" fill="#3030ff"/>
<circle cx="67.7" cy="492.4" r="0.89" fill="#3030ff"/>
<circle cx="74.6" cy="486.0" r="0.89" fill="#3030ff"/>
<circle cx="80.6" cy="481.0" r="0.89" fill="#3030ff"/>
<circle cx="92.0" cy="477.8" r="0.89" fill="#3030ff"/>
<polyline points="22.8,477.4 31.7,477.0 40.2,480.4 46.4,484.9 51.6,475.8 58.6,481.9 66.6,484.9 73.6,486.9" fill="none" stroke="#404040" stroke-width="1.05" stroke-linejoin="round"/>
<circle cx="31.7" cy="477.0" r="0.89" fill="#404040"/>
<circle cx="40.2" cy="480.4" r="0.89" fill="#404040"/>
<circle cx="46.4" cy="484.9" r="0.89" fill="#404040"/>
<circle cx="51.6" cy="475.8" r="0.89" fill="#404040"/>
<circle cx="58.6" cy="481.9" r="0.89" fill="#404040"/>
<circle cx="66.6" cy="484.9" r="0.89" fill="#404040"/>
<circle cx="73.6" cy="486.9" r="0.89" fill="#404040"/>
<polyline points="22.8,477.4 29.7,474.5 37.8,481.0 40.7,484.9 48.1,484.3 52.7,481.4 59.6,479.2 71.2,478.7 76.6,476.0 81.5,474.5" fill="none" stroke="#306070" stroke-width="1.05" stroke-linejoin="round"/>
<circle cx="29.7" cy="474.5" r="0.89" fill="#306070"/>
<circle cx="37.8" cy="481.0" r="0.89" fill="#306070"/>
<circle cx="40.7" cy="484.9" r="0.89" fill="#306070"/>
<circle cx="48.1" cy="484.3" r="0.89" fill="#306070"/>
<circle cx="52.7" cy="481.4" r="0.89" fill="#306070"/>
<circle cx="59.6" cy="479.2" r="0.89" fill="#306070"/>
<circle cx="71.2" cy="478.7" r="0.89" fill="#306070"/>
<circle cx="76.6" cy="476.0" r="0.89" fill="#306070"/>
<circle cx="81.5" cy="474.5" r="0.89" fill="#306070"/>
<polyline points="22.8,477.4 36.7,481.9 47.0,482.6 59.6,482.0 71.6,481.4 81.5,481.0" fill="none" stroke="#70b0ff" stroke-width="1.05" stroke-linejoin="round"/>
<circle cx="36.7" cy="481.9" r="0.89" fill="#70b0ff"/>
<circle cx="47.0" cy="482.6" r="0.89" fill="#70b0ff"/>
<circle cx="59.6" cy="482.0" r="0.89" fill="#70b0ff"/>
<circle cx="71.6" cy="481.4" r="0.89" fill="#70b0ff"/>
<circle cx="81.5" cy="481.0" r="0.89" fill="#70b0ff"/>
<polyline points="22.8,477.4 31.7,473.0 41.3,482.6 50.6,475.0 61.6,473.0 71.6,474.0" fill="none" stroke="#c060e0" stroke-width="1.05" stroke-linejoin="round"/>
<circle cx="31.7" cy="473.0" r="0.89" fill="#c060e0"/>
<circle cx="41.3" cy="482.6" r="0.89" fill="#c060e0"/>
<circle cx="50.6" cy="475.0" r="0.89" fill="#c060e0"/>
<circle cx="61.6" cy="473.0" r="0.89" fill="#c060e0"/>
<circle cx="71.6" cy="474.0" r="0.89" fill="#c060e0"/>
<polyline points="22.8,477.4 36.7,479.0 56.6,481.0 71.6,480.0 91.3,482.4 98.0,481.0" fill="none" stroke="#a0a0a0" stroke-width="1.05" stroke-linejoin="round"/>
<circle cx="36.7" cy="479.0" r="0.89" fill="#a0a0a0"/>
<circle cx="56.6" cy="481.0" r="0.89" fill="#a0a0a0"/>
<circle cx="71.6" cy="480.0" r="0.89" fill="#a0a0a0"/>
<circle cx="91.3" cy="482.4" r="0.89" fill="#a0a0a0"/>
<circle cx="98.0" cy="481.0" r="0.89" fill="#a0a0a0"/>
<polyline points="22.8,477.4 28.7,470.0 36.7,472.0 46.6,470.0 56.6,469.0 66.6,472.0" fill="none" stroke="#f060c0" stroke-width="1.05" stroke-linejoin="round"/>
<circle cx="28.7" cy="470.0" r="0.89" fill="#f060c0"/>
<circle cx="36.7" cy="472.0" r="0.89" fill="#f060c0"/>
<circle cx="46.6" cy="470.0" r="0.89" fill="#f060c0"/>
<circle cx="56.6" cy="469.0" r="0.89" fill="#f060c0"/>
<circle cx="66.6" cy="472.0" r="0.89" fill="#f060c0"/>
<polyline points="22.8,477.4 36.7,475.0 44.6,472.0 52.7,466.6 59.6,466.1 67.7,466.6 74.1,474.6" fill="none" stroke="#8080ff" stroke-width="1.05" stroke-linejoin="round"/>
<circle cx="36.7" cy="475.0" r="0.89" fill="#8080ff"/>
<circle cx="44.6" cy="472.0" r="0.89" fill="#8080ff"/>
<circle cx="52.7" cy="466.6" r="0.89" fill="#8080ff"/>
<circle cx="59.6" cy="466.1" r="0.89" fill="#8080ff"/>
<circle cx="67.7" cy="466.6" r="0.89" fill="#8080ff"/>
<circle cx="74.1" cy="474.6" r="0.89" fill="#8080ff"/>
<polyline points="22.8,477.4 34.7,476.0 46.6,478.0 59.6,477.5 66.6,473.4 76.6,470.5 81.5,469.5" fill="none" stroke="#a0e020" stroke-width="1.05" stroke-linejoin="round"/>
<circle cx="34.7" cy="476.0" r="0.89" fill="#a0e020"/>
<circle cx="46.6" cy="478.0" r="0.89" fill="#a0e020"/>
<circle cx="59.6" cy="477.5" r="0.89" fill="#a0e020"/>
<circle cx="66.6" cy="473.4" r="0.89" fill="#a0e020"/>
<circle cx="76.6" cy="470.5" r="0.89" fill="#a0e020"/>
<circle cx="81.5" cy="469.5" r="0.89" fill="#a0e020"/>
<polyline points="22.8,477.4 29.3,458.5" fill="none" stroke="#70a8ff" stroke-width="1.05" stroke-linejoin="round"/>
<circle cx="29.3" cy="458.5" r="0.89" fill="#70a8ff"/>
<polyline points="22.8,477.4 27.8,462.2" fill="none" stroke="#8a6a30" stroke-width="1.05" stroke-linejoin="round"/>
<circle cx="27.8" cy="462.2" r="0.89" fill="#8a6a30"/>
<polyline points="22.8,477.4 30.9,457.6 36.8,455.5 43.1,459.5" fill="none" stroke="#b08848" stroke-width="1.05" stroke-linejoin="round"/>
<circle cx="30.9" cy="457.6" r="0.89" fill="#b08848"/>
<circle cx="36.8" cy="455.5" r="0.89" fill="#b08848"/>
<circle cx="43.1" cy="459.5" r="0.89" fill="#b08848"/>
<polyline points="22.8,477.4 29.0,469.7 34.4,461.1" fill="none" stroke="#8010a0" stroke-width="1.05" stroke-linejoin="round"/>
<circle cx="29.0" cy="469.7" r="0.89" fill="#8010a0"/>
<circle cx="34.4" cy="461.1" r="0.89" fill="#8010a0"/>
<polyline points="22.8,477.4 29.0,474.0 41.2,461.1" fill="none" stroke="#f0f080" stroke-width="1.05" stroke-linejoin="round"/>
<circle cx="29.0" cy="474.0" r="0.89" fill="#f0f080"/>
<circle cx="41.2" cy="461.1" r="0.89" fill="#f0f080"/>
<polyline points="22.8,477.4 29.0,476.4 34.4,477.2 37.5,471.3 44.2,460.6 63.5,476.2" fill="none" stroke="#4aa0c0" stroke-width="1.05" stroke-linejoin="round"/>
<circle cx="29.0" cy="476.4" r="0.89" fill="#4aa0c0"/>
<circle cx="34.4" cy="477.2" r="0.89" fill="#4aa0c0"/>
<circle cx="37.5" cy="471.3" r="0.89" fill="#4aa0c0"/>
<circle cx="44.2" cy="460.6" r="0.89" fill="#4aa0c0"/>
<circle cx="63.5" cy="476.2" r="0.89" fill="#4aa0c0"/>
<polyline points="22.8,477.4 29.0,474.0 34.4,468.6 36.1,470.2" fill="none" stroke="#a8a8a8" stroke-width="1.05" stroke-linejoin="round"/>
<circle cx="29.0" cy="474.0" r="0.89" fill="#a8a8a8"/>
<circle cx="34.4" cy="468.6" r="0.89" fill="#a8a8a8"/>
<circle cx="36.1" cy="470.2" r="0.89" fill="#a8a8a8"/>
<polyline points="22.8,477.4 29.0,472.6 36.1,472.6 38.2,470.2 44.0,468.1" fill="none" stroke="#b030e0" stroke-width="1.05" stroke-linejoin="round"/>
<circle cx="29.0" cy="472.6" r="0.89" fill="#b030e0"/>
<circle cx="36.1" cy="472.6" r="0.89" fill="#b030e0"/>
<circle cx="38.2" cy="470.2" r="0.89" fill="#b030e0"/>
<circle cx="44.0" cy="468.1" r="0.89" fill="#b030e0"/>
<polyline points="22.8,477.4 29.0,481.8 34.6,476.6 38.2,470.2" fill="none" stroke="#2020f0" stroke-width="1.05" stroke-linejoin="round"/>
<circle cx="29.0" cy="481.8" r="0.89" fill="#2020f0"/>
<circle cx="34.6" cy="476.6" r="0.89" fill="#2020f0"/>
<circle cx="38.2" cy="470.2" r="0.89" fill="#2020f0"/>
<polyline points="22.8,477.4 29.0,475.6 36.3,464.8" fill="none" stroke="#40a040" stroke-width="1.05" stroke-linejoin="round"/>
<circle cx="29.0" cy="475.6" r="0.89" fill="#40a040"/>
<circle cx="36.3" cy="464.8" r="0.89" fill="#40a040"/>
<polyline points="22.8,477.4 29.0,476.8 35.1,479.9 37.7,504.0" fill="none" stroke="#3a8a50" stroke-width="1.05" stroke-linejoin="round"/>
<circle cx="29.0" cy="476.8" r="0.89" fill="#3a8a50"/>
<circle cx="35.1" cy="479.9" r="0.89" fill="#3a8a50"/>
<circle cx="37.7" cy="504.0" r="0.89" fill="#3a8a50"/>
<polyline points="22.8,477.4 29.0,474.5 35.1,487.3 40.7,478.3 46.4,469.1 52.3,460.1" fill="none" stroke="#3a7020" stroke-width="1.05" stroke-linejoin="round"/>
<circle cx="29.0" cy="474.5" r="0.89" fill="#3a7020"/>
<circle cx="35.1" cy="487.3" r="0.89" fill="#3a7020"/>
<circle cx="40.7" cy="478.3" r="0.89" fill="#3a7020"/>
<circle cx="46.4" cy="469.1" r="0.89" fill="#3a7020"/>
<circle cx="52.3" cy="460.1" r="0.89" fill="#3a7020"/>
<polyline points="22.8,477.4 28.5,484.2 35.1,487.9 40.7,487.9 46.7,487.7" fill="none" stroke="#a0f080" stroke-width="1.05" stroke-linejoin="round"/>
<circle cx="28.5" cy="484.2" r="0.89" fill="#a0f080"/>
<circle cx="35.1" cy="487.9" r="0.89" fill="#a0f080"/>
<circle cx="40.7" cy="487.9" r="0.89" fill="#a0f080"/>
<circle cx="46.7" cy="487.7" r="0.89" fill="#a0f080"/>
<polyline points="22.8,477.4 37.1,449.9 48.6,452.5 55.0,459.6 61.6,456.4 68.1,459.0 74.5,470.9 81.7,475.8 87.6,468.3 94.0,469.3 100.6,466.1 107.1,462.2 112.9,463.4 118.4,460.3 125.0,463.4 131.4,465.4 136.3,463.4 141.2,467.7" fill="none" stroke="#b4b4b4" stroke-width="0.8" stroke-linejoin="round" stroke-dasharray="1.2,1.2"/>
<circle cx="37.1" cy="449.9" r="0.68" fill="#b4b4b4"/>
<circle cx="48.6" cy="452.5" r="0.68" fill="#b4b4b4"/>
<circle cx="55.0" cy="459.6" r="0.68" fill="#b4b4b4"/>
<circle cx="61.6" cy="456.4" r="0.68" fill="#b4b4b4"/>
<circle cx="68.1" cy="459.0" r="0.68" fill="#b4b4b4"/>
<circle cx="74.5" cy="470.9" r="0.68" fill="#b4b4b4"/>
<circle cx="81.7" cy="475.8" r="0.68" fill="#b4b4b4"/>
<circle cx="87.6" cy="468.3" r="0.68" fill="#b4b4b4"/>
<circle cx="94.0" cy="469.3" r="0.68" fill="#b4b4b4"/>
<circle cx="100.6" cy="466.1" r="0.68" fill="#b4b4b4"/>
<circle cx="107.1" cy="462.2" r="0.68" fill="#b4b4b4"/>
<circle cx="112.9" cy="463.4" r="0.68" fill="#b4b4b4"/>
<circle cx="118.4" cy="460.3" r="0.68" fill="#b4b4b4"/>
<circle cx="125.0" cy="463.4" r="0.68" fill="#b4b4b4"/>
<circle cx="131.4" cy="465.4" r="0.68" fill="#b4b4b4"/>
<circle cx="136.3" cy="463.4" r="0.68" fill="#b4b4b4"/>
<circle cx="141.2" cy="467.7" r="0.68" fill="#b4b4b4"/>
<polyline points="22.8,477.4 29.2,482.3 36.3,482.3 46.3,482.3 56.2,482.3 66.2,482.3 76.1,482.3 86.1,482.3 96.0,482.3 106.0,482.3 115.9,482.3 125.9,482.3 138.8,482.3" fill="none" stroke="#4a80b0" stroke-width="1.05" stroke-linejoin="round"/>
<circle cx="29.2" cy="482.3" r="0.89" fill="#4a80b0"/>
<circle cx="36.3" cy="482.3" r="0.89" fill="#4a80b0"/>
<circle cx="46.3" cy="482.3" r="0.89" fill="#4a80b0"/>
<circle cx="56.2" cy="482.3" r="0.89" fill="#4a80b0"/>
<circle cx="66.2" cy="482.3" r="0.89" fill="#4a80b0"/>
<circle cx="76.1" cy="482.3" r="0.89" fill="#4a80b0"/>
<circle cx="86.1" cy="482.3" r="0.89" fill="#4a80b0"/>
<circle cx="96.0" cy="482.3" r="0.89" fill="#4a80b0"/>
<circle cx="106.0" cy="482.3" r="0.89" fill="#4a80b0"/>
<circle cx="115.9" cy="482.3" r="0.89" fill="#4a80b0"/>
<circle cx="125.9" cy="482.3" r="0.89" fill="#4a80b0"/>
<circle cx="138.8" cy="482.3" r="0.89" fill="#4a80b0"/>
<polyline points="22.8,477.4 35.5,464.4 42.1,515.4 51.3,515.4 61.2,515.4 71.2,515.4 81.1,515.4 91.0,515.4 101.0,515.4 110.9,515.4 120.9,515.4 130.8,515.4 139.3,515.4" fill="none" stroke="#9a8a40" stroke-width="1.05" stroke-linejoin="round"/>
<circle cx="35.5" cy="464.4" r="0.89" fill="#9a8a40"/>
<circle cx="42.1" cy="515.4" r="0.89" fill="#9a8a40"/>
<circle cx="51.3" cy="515.4" r="0.89" fill="#9a8a40"/>
<circle cx="61.2" cy="515.4" r="0.89" fill="#9a8a40"/>
<circle cx="71.2" cy="515.4" r="0.89" fill="#9a8a40"/>
<circle cx="81.1" cy="515.4" r="0.89" fill="#9a8a40"/>
<circle cx="91.0" cy="515.4" r="0.89" fill="#9a8a40"/>
<circle cx="101.0" cy="515.4" r="0.89" fill="#9a8a40"/>
<circle cx="110.9" cy="515.4" r="0.89" fill="#9a8a40"/>
<circle cx="120.9" cy="515.4" r="0.89" fill="#9a8a40"/>
<circle cx="130.8" cy="515.4" r="0.89" fill="#9a8a40"/>
<circle cx="139.3" cy="515.4" r="0.89" fill="#9a8a40"/>
<polyline points="22.8,477.4 29.1,496.7 37.1,515.4 44.3,515.4 51.8,515.4" fill="none" stroke="#8a0010" stroke-width="1.05" stroke-linejoin="round"/>
<circle cx="29.1" cy="496.7" r="0.89" fill="#8a0010"/>
<circle cx="37.1" cy="515.4" r="0.89" fill="#8a0010"/>
<circle cx="44.3" cy="515.4" r="0.89" fill="#8a0010"/>
<circle cx="51.8" cy="515.4" r="0.89" fill="#8a0010"/>
<polyline points="22.8,477.4 29.1,470.9 42.1,482.2 47.0,498.2 53.4,507.3" fill="none" stroke="#f05020" stroke-width="1.05" stroke-linejoin="round"/>
<circle cx="29.1" cy="470.9" r="0.89" fill="#f05020"/>
<circle cx="42.1" cy="482.2" r="0.89" fill="#f05020"/>
<circle cx="47.0" cy="498.2" r="0.89" fill="#f05020"/>
<circle cx="53.4" cy="507.3" r="0.89" fill="#f05020"/>
<polyline points="22.8,477.4 29.2,482.1 35.2,500.0 42.9,492.3 48.1,501.7 56.6,502.5 66.2,502.5 76.1,502.5 86.1,502.5 96.0,502.5 106.0,502.5 115.9,502.5 125.9,502.5 138.8,502.5" fill="none" stroke="#50c030" stroke-width="1.05" stroke-linejoin="round"/>
<circle cx="29.2" cy="482.1" r="0.89" fill="#50c030"/>
<circle cx="35.2" cy="500.0" r="0.89" fill="#50c030"/>
<circle cx="42.9" cy="492.3" r="0.89" fill="#50c030"/>
<circle cx="48.1" cy="501.7" r="0.89" fill="#50c030"/>
<circle cx="56.6" cy="502.5" r="0.89" fill="#50c030"/>
<circle cx="66.2" cy="502.5" r="0.89" fill="#50c030"/>
<circle cx="76.1" cy="502.5" r="0.89" fill="#50c030"/>
<circle cx="86.1" cy="502.5" r="0.89" fill="#50c030"/>
<circle cx="96.0" cy="502.5" r="0.89" fill="#50c030"/>
<circle cx="106.0" cy="502.5" r="0.89" fill="#50c030"/>
<circle cx="115.9" cy="502.5" r="0.89" fill="#50c030"/>
<circle cx="125.9" cy="502.5" r="0.89" fill="#50c030"/>
<circle cx="138.8" cy="502.5" r="0.89" fill="#50c030"/>
<polyline points="22.8,477.4 28.4,497.4 36.9,499.1 42.9,498.2 51.3,499.0 61.2,499.0 71.2,499.0 79.1,498.0 84.1,499.0 96.0,499.0 106.0,499.0 115.9,499.0 125.9,499.0 138.8,499.0" fill="none" stroke="#2020d0" stroke-width="1.05" stroke-linejoin="round"/>
<circle cx="28.4" cy="497.4" r="0.89" fill="#2020d0"/>
<circle cx="36.9" cy="499.1" r="0.89" fill="#2020d0"/>
<circle cx="42.9" cy="498.2" r="0.89" fill="#2020d0"/>
<circle cx="51.3" cy="499.0" r="0.89" fill="#2020d0"/>
<circle cx="61.2" cy="499.0" r="0.89" fill="#2020d0"/>
<circle cx="71.2" cy="499.0" r="0.89" fill="#2020d0"/>
<circle cx="79.1" cy="498.0" r="0.89" fill="#2020d0"/>
<circle cx="84.1" cy="499.0" r="0.89" fill="#2020d0"/>
<circle cx="96.0" cy="499.0" r="0.89" fill="#2020d0"/>
<circle cx="106.0" cy="499.0" r="0.89" fill="#2020d0"/>
<circle cx="115.9" cy="499.0" r="0.89" fill="#2020d0"/>
<circle cx="125.9" cy="499.0" r="0.89" fill="#2020d0"/>
<circle cx="138.8" cy="499.0" r="0.89" fill="#2020d0"/>
<polyline points="22.8,477.4 29.2,494.1 35.5,494.1 46.3,494.1 56.2,494.1 66.2,494.1 76.1,493.1 86.1,494.1 96.0,494.1 110.3,494.1" fill="none" stroke="#f08090" stroke-width="1.05" stroke-linejoin="round"/>
<circle cx="29.2" cy="494.1" r="0.89" fill="#f08090"/>
<circle cx="35.5" cy="494.1" r="0.89" fill="#f08090"/>
<circle cx="46.3" cy="494.1" r="0.89" fill="#f08090"/>
<circle cx="56.2" cy="494.1" r="0.89" fill="#f08090"/>
<circle cx="66.2" cy="494.1" r="0.89" fill="#f08090"/>
<circle cx="76.1" cy="493.1" r="0.89" fill="#f08090"/>
<circle cx="86.1" cy="494.1" r="0.89" fill="#f08090"/>
<circle cx="96.0" cy="494.1" r="0.89" fill="#f08090"/>
<circle cx="110.3" cy="494.1" r="0.89" fill="#f08090"/>
<polyline points="22.8,477.4 29.2,479.5 36.0,505.9 46.3,505.9 56.2,505.9 66.2,505.9 76.1,505.9 86.1,505.9 96.0,505.9 106.0,505.9 115.9,505.9 129.8,505.9" fill="none" stroke="#c8b878" stroke-width="1.05" stroke-linejoin="round"/>
<circle cx="29.2" cy="479.5" r="0.89" fill="#c8b878"/>
<circle cx="36.0" cy="505.9" r="0.89" fill="#c8b878"/>
<circle cx="46.3" cy="505.9" r="0.89" fill="#c8b878"/>
<circle cx="56.2" cy="505.9" r="0.89" fill="#c8b878"/>
<circle cx="66.2" cy="505.9" r="0.89" fill="#c8b878"/>
<circle cx="76.1" cy="505.9" r="0.89" fill="#c8b878"/>
<circle cx="86.1" cy="505.9" r="0.89" fill="#c8b878"/>
<circle cx="96.0" cy="505.9" r="0.89" fill="#c8b878"/>
<circle cx="106.0" cy="505.9" r="0.89" fill="#c8b878"/>
<circle cx="115.9" cy="505.9" r="0.89" fill="#c8b878"/>
<circle cx="129.8" cy="505.9" r="0.89" fill="#c8b878"/>
<text x="142.80" y="265.20" font-size="5.1" fill="#222" stroke="#222" stroke-width="0.2">Patient ID</text>
<rect x="142.80" y="269.20" width="5.2" height="1.2" fill="#2a2ad8"/>
<ellipse cx="145.40" cy="269.80" rx="1.6" ry="1.2" fill="#2a2ad8"/>
<text x="0.00" y="0.00" font-size="5.1" fill="#222" stroke="#222" stroke-width="0.2" transform="translate(150.00,271.60) scale(0.85,1)">002</text>
<rect x="142.80" y="274.57" width="5.2" height="1.2" fill="#6a0a8a"/>
<ellipse cx="145.40" cy="275.17" rx="1.6" ry="1.2" fill="#6a0a8a"/>
<text x="0.00" y="0.00" font-size="5.1" fill="#222" stroke="#222" stroke-width="0.2" transform="translate(150.00,276.97) scale(0.85,1)">005</text>
<rect x="142.80" y="279.94" width="5.2" height="1.2" fill="#d080ff"/>
<ellipse cx="145.40" cy="280.54" rx="1.6" ry="1.2" fill="#d080ff"/>
<text x="0.00" y="0.00" font-size="5.1" fill="#222" stroke="#222" stroke-width="0.2" transform="translate(150.00,282.34) scale(0.85,1)">006</text>
<rect x="142.80" y="285.31" width="5.2" height="1.2" fill="#c0b030"/>
<ellipse cx="145.40" cy="285.91" rx="1.6" ry="1.2" fill="#c0b030"/>
<text x="0.00" y="0.00" font-size="5.1" fill="#222" stroke="#222" stroke-width="0.2" transform="translate(150.00,287.71) scale(0.85,1)">010</text>
<rect x="142.80" y="290.68" width="5.2" height="1.2" fill="#b07830"/>
<ellipse cx="145.40" cy="291.28" rx="1.6" ry="1.2" fill="#b07830"/>
<text x="0.00" y="0.00" font-size="5.1" fill="#222" stroke="#222" stroke-width="0.2" transform="translate(150.00,293.08) scale(0.85,1)">014</text>
<rect x="142.80" y="296.05" width="5.2" height="1.2" fill="#e03030"/>
<ellipse cx="145.40" cy="296.65" rx="1.6" ry="1.2" fill="#e03030"/>
<text x="0.00" y="0.00" font-size="5.1" fill="#222" stroke="#222" stroke-width="0.2" transform="translate(150.00,298.45) scale(0.85,1)">016</text>
<rect x="142.80" y="301.42" width="5.2" height="1.2" fill="#8080ff"/>
<ellipse cx="145.40" cy="302.02" rx="1.6" ry="1.2" fill="#8080ff"/>
<text x="0.00" y="0.00" font-size="5.1" fill="#222" stroke="#222" stroke-width="0.2" transform="translate(150.00,303.82) scale(0.85,1)">017</text>
<rect x="142.80" y="306.79" width="5.2" height="1.2" fill="#7a5020"/>
<ellipse cx="145.40" cy="307.39" rx="1.6" ry="1.2" fill="#7a5020"/>
<text x="0.00" y="0.00" font-size="5.1" fill="#222" stroke="#222" stroke-width="0.2" transform="translate(150.00,309.19) scale(0.85,1)">018</text>
<rect x="142.80" y="312.16" width="5.2" height="1.2" fill="#707070"/>
<ellipse cx="145.40" cy="312.76" rx="1.6" ry="1.2" fill="#707070"/>
<text x="0.00" y="0.00" font-size="5.1" fill="#222" stroke="#222" stroke-width="0.2" transform="translate(150.00,314.56) scale(0.85,1)">020</text>
<rect x="142.80" y="317.53" width="5.2" height="1.2" fill="#50c030"/>
<ellipse cx="145.40" cy="318.13" rx="1.6" ry="1.2" fill="#50c030"/>
<text x="0.00" y="0.00" font-size="5.1" fill="#222" stroke="#222" stroke-width="0.2" transform="translate(150.00,319.93) scale(0.85,1)">025</text>
<rect x="142.80" y="322.90" width="5.2" height="1.2" fill="#f0a060"/>
<ellipse cx="145.40" cy="323.50" rx="1.6" ry="1.2" fill="#f0a060"/>
<text x="0.00" y="0.00" font-size="5.1" fill="#222" stroke="#222" stroke-width="0.2" transform="translate(150.00,325.30) scale(0.85,1)">026</text>
<rect x="142.80" y="328.27" width="5.2" height="1.2" fill="#908040"/>
<ellipse cx="145.40" cy="328.87" rx="1.6" ry="1.2" fill="#908040"/>
<text x="0.00" y="0.00" font-size="5.1" fill="#222" stroke="#222" stroke-width="0.2" transform="translate(150.00,330.67) scale(0.85,1)">030</text>
<rect x="142.80" y="333.64" width="5.2" height="1.2" fill="#80e0b0"/>
<ellipse cx="145.40" cy="334.24" rx="1.6" ry="1.2" fill="#80e0b0"/>
<text x="0.00" y="0.00" font-size="5.1" fill="#222" stroke="#222" stroke-width="0.2" transform="translate(150.00,336.04) scale(0.85,1)">035</text>
<rect x="142.80" y="339.01" width="5.2" height="1.2" fill="#508030"/>
<ellipse cx="145.40" cy="339.61" rx="1.6" ry="1.2" fill="#508030"/>
<text x="0.00" y="0.00" font-size="5.1" fill="#222" stroke="#222" stroke-width="0.2" transform="translate(150.00,341.41) scale(0.85,1)">042</text>
<rect x="142.80" y="344.38" width="5.2" height="1.2" fill="#40b050"/>
<ellipse cx="145.40" cy="344.98" rx="1.6" ry="1.2" fill="#40b050"/>
<text x="0.00" y="0.00" font-size="5.1" fill="#222" stroke="#222" stroke-width="0.2" transform="translate(150.00,346.78) scale(0.85,1)">050</text>
<rect x="142.80" y="349.75" width="5.2" height="1.2" fill="#404040"/>
<ellipse cx="145.40" cy="350.35" rx="1.6" ry="1.2" fill="#404040"/>
<text x="0.00" y="0.00" font-size="5.1" fill="#222" stroke="#222" stroke-width="0.2" transform="translate(150.00,352.15) scale(0.85,1)">052</text>
<rect x="142.80" y="355.12" width="5.2" height="1.2" fill="#f06010"/>
<ellipse cx="145.40" cy="355.72" rx="1.6" ry="1.2" fill="#f06010"/>
<text x="0.00" y="0.00" font-size="5.1" fill="#222" stroke="#222" stroke-width="0.2" transform="translate(150.00,357.52) scale(0.85,1)">057</text>
<rect x="142.80" y="360.49" width="5.2" height="1.2" fill="#b00060"/>
<ellipse cx="145.40" cy="361.09" rx="1.6" ry="1.2" fill="#b00060"/>
<text x="0.00" y="0.00" font-size="5.1" fill="#222" stroke="#222" stroke-width="0.2" transform="translate(150.00,362.89) scale(0.85,1)">059</text>
<rect x="142.80" y="365.86" width="5.2" height="1.2" fill="#b0b0b0"/>
<ellipse cx="145.40" cy="366.46" rx="1.6" ry="1.2" fill="#b0b0b0"/>
<text x="0.00" y="0.00" font-size="5.1" fill="#222" stroke="#222" stroke-width="0.2" transform="translate(150.00,368.26) scale(0.85,1)">067</text>
<rect x="142.80" y="371.23" width="5.2" height="1.2" fill="#f09090"/>
<ellipse cx="145.40" cy="371.83" rx="1.6" ry="1.2" fill="#f09090"/>
<text x="0.00" y="0.00" font-size="5.1" fill="#222" stroke="#222" stroke-width="0.2" transform="translate(150.00,373.63) scale(0.85,1)">074</text>
<rect x="162.00" y="269.20" width="5.2" height="1.2" fill="#2020ff"/>
<ellipse cx="164.60" cy="269.80" rx="1.6" ry="1.2" fill="#2020ff"/>
<text x="0.00" y="0.00" font-size="5.1" fill="#222" stroke="#222" stroke-width="0.2" transform="translate(169.20,271.60) scale(0.85,1)">075</text>
<rect x="162.00" y="274.57" width="5.2" height="1.2" fill="#c8c8c8"/>
<ellipse cx="164.60" cy="275.17" rx="1.6" ry="1.2" fill="#c8c8c8"/>
<text x="0.00" y="0.00" font-size="5.1" fill="#222" stroke="#222" stroke-width="0.2" transform="translate(169.20,276.97) scale(0.85,1)">081</text>
<rect x="162.00" y="279.94" width="5.2" height="1.2" fill="#f07060"/>
<ellipse cx="164.60" cy="280.54" rx="1.6" ry="1.2" fill="#f07060"/>
<text x="0.00" y="0.00" font-size="5.1" fill="#222" stroke="#222" stroke-width="0.2" transform="translate(169.20,282.34) scale(0.85,1)">086</text>
<rect x="162.00" y="285.31" width="5.2" height="1.2" fill="#e060e0"/>
<ellipse cx="164.60" cy="285.91" rx="1.6" ry="1.2" fill="#e060e0"/>
<text x="0.00" y="0.00" font-size="5.1" fill="#222" stroke="#222" stroke-width="0.2" transform="translate(169.20,287.71) scale(0.85,1)">091</text>
<rect x="162.00" y="290.68" width="5.2" height="1.2" fill="#e0106a"/>
<ellipse cx="164.60" cy="291.28" rx="1.6" ry="1.2" fill="#e0106a"/>
<text x="0.00" y="0.00" font-size="5.1" fill="#222" stroke="#222" stroke-width="0.2" transform="translate(169.20,293.08) scale(0.85,1)">092</text>
<rect x="162.00" y="296.05" width="5.2" height="1.2" fill="#40a060"/>
<ellipse cx="164.60" cy="296.65" rx="1.6" ry="1.2" fill="#40a060"/>
<text x="0.00" y="0.00" font-size="5.1" fill="#222" stroke="#222" stroke-width="0.2" transform="translate(169.20,298.45) scale(0.85,1)">097</text>
<rect x="162.00" y="301.42" width="5.2" height="1.2" fill="#4040ff"/>
<ellipse cx="164.60" cy="302.02" rx="1.6" ry="1.2" fill="#4040ff"/>
<text x="0.00" y="0.00" font-size="5.1" fill="#222" stroke="#222" stroke-width="0.2" transform="translate(169.20,303.82) scale(0.85,1)">098</text>
<rect x="162.00" y="306.79" width="5.2" height="1.2" fill="#b0a070"/>
<ellipse cx="164.60" cy="307.39" rx="1.6" ry="1.2" fill="#b0a070"/>
<text x="0.00" y="0.00" font-size="5.1" fill="#222" stroke="#222" stroke-width="0.2" transform="translate(169.20,309.19) scale(0.85,1)">104</text>
<rect x="162.00" y="312.16" width="5.2" height="1.2" fill="#60a0ff"/>
<ellipse cx="164.60" cy="312.76" rx="1.6" ry="1.2" fill="#60a0ff"/>
<text x="0.00" y="0.00" font-size="5.1" fill="#222" stroke="#222" stroke-width="0.2" transform="translate(169.20,314.56) scale(0.85,1)">105</text>
<rect x="162.00" y="317.53" width="5.2" height="1.2" fill="#f0f020"/>
<ellipse cx="164.60" cy="318.13" rx="1.6" ry="1.2" fill="#f0f020"/>
<text x="0.00" y="0.00" font-size="5.1" fill="#222" stroke="#222" stroke-width="0.2" transform="translate(169.20,319.93) scale(0.85,1)">111</text>
<rect x="162.00" y="322.90" width="5.2" height="1.2" fill="#b020d0"/>
<ellipse cx="164.60" cy="323.50" rx="1.6" ry="1.2" fill="#b020d0"/>
<text x="0.00" y="0.00" font-size="5.1" fill="#222" stroke="#222" stroke-width="0.2" transform="translate(169.20,325.30) scale(0.85,1)">112</text>
<rect x="162.00" y="328.27" width="5.2" height="1.2" fill="#c06020"/>
<ellipse cx="164.60" cy="328.87" rx="1.6" ry="1.2" fill="#c06020"/>
<text x="0.00" y="0.00" font-size="5.1" fill="#222" stroke="#222" stroke-width="0.2" transform="translate(169.20,330.67) scale(0.85,1)">116</text>
<rect x="162.00" y="333.64" width="5.2" height="1.2" fill="#f0a0c8"/>
<ellipse cx="164.60" cy="334.24" rx="1.6" ry="1.2" fill="#f0a0c8"/>
<text x="0.00" y="0.00" font-size="5.1" fill="#222" stroke="#222" stroke-width="0.2" transform="translate(169.20,336.04) scale(0.85,1)">117</text>
<rect x="162.00" y="339.01" width="5.2" height="1.2" fill="#a0ff60"/>
<ellipse cx="164.60" cy="339.61" rx="1.6" ry="1.2" fill="#a0ff60"/>
<text x="0.00" y="0.00" font-size="5.1" fill="#222" stroke="#222" stroke-width="0.2" transform="translate(169.20,341.41) scale(0.85,1)">118</text>
<rect x="162.00" y="344.38" width="5.2" height="1.2" fill="#f0b070"/>
<ellipse cx="164.60" cy="344.98" rx="1.6" ry="1.2" fill="#f0b070"/>
<text x="0.00" y="0.00" font-size="5.1" fill="#222" stroke="#222" stroke-width="0.2" transform="translate(169.20,346.78) scale(0.85,1)">119</text>
<rect x="162.00" y="349.75" width="5.2" height="1.2" fill="#b060f0"/>
<ellipse cx="164.60" cy="350.35" rx="1.6" ry="1.2" fill="#b060f0"/>
<text x="0.00" y="0.00" font-size="5.1" fill="#222" stroke="#222" stroke-width="0.2" transform="translate(169.20,352.15) scale(0.85,1)">138</text>
<rect x="162.00" y="355.12" width="5.2" height="1.2" fill="#900000"/>
<ellipse cx="164.60" cy="355.72" rx="1.6" ry="1.2" fill="#900000"/>
<text x="0.00" y="0.00" font-size="5.1" fill="#222" stroke="#222" stroke-width="0.2" transform="translate(169.20,357.52) scale(0.85,1)">143</text>
<rect x="162.00" y="360.49" width="5.2" height="1.2" fill="#90b0ff"/>
<ellipse cx="164.60" cy="361.09" rx="1.6" ry="1.2" fill="#90b0ff"/>
<text x="0.00" y="0.00" font-size="5.1" fill="#222" stroke="#222" stroke-width="0.2" transform="translate(169.20,362.89) scale(0.85,1)">151</text>
<rect x="162.00" y="365.86" width="5.2" height="1.2" fill="#60a0b0"/>
<ellipse cx="164.60" cy="366.46" rx="1.6" ry="1.2" fill="#60a0b0"/>
<text x="0.00" y="0.00" font-size="5.1" fill="#222" stroke="#222" stroke-width="0.2" transform="translate(169.20,368.26) scale(0.85,1)">154</text>
<rect x="162.00" y="371.23" width="5.2" height="1.2" fill="#9010f0"/>
<ellipse cx="164.60" cy="371.83" rx="1.6" ry="1.2" fill="#9010f0"/>
<text x="0.00" y="0.00" font-size="5.1" fill="#222" stroke="#222" stroke-width="0.2" transform="translate(169.20,373.63) scale(0.85,1)">155</text>
<text x="140.80" y="419.50" font-size="5.1" fill="#222" stroke="#222" stroke-width="0.2">Patient ID</text>
<rect x="142.20" y="422.20" width="5.2" height="1.2" fill="#c040e0"/>
<ellipse cx="144.80" cy="422.80" rx="1.6" ry="1.2" fill="#c040e0"/>
<text x="0.00" y="0.00" font-size="4.8" fill="#222" stroke="#222" stroke-width="0.2" transform="translate(149.40,424.60) scale(0.85,1)">005</text>
<rect x="142.20" y="427.03" width="5.2" height="1.2" fill="#1010d0"/>
<ellipse cx="144.80" cy="427.63" rx="1.6" ry="1.2" fill="#1010d0"/>
<text x="0.00" y="0.00" font-size="4.8" fill="#222" stroke="#222" stroke-width="0.2" transform="translate(149.40,429.43) scale(0.85,1)">006</text>
<rect x="142.20" y="431.86" width="5.2" height="1.2" fill="#600090"/>
<ellipse cx="144.80" cy="432.46" rx="1.6" ry="1.2" fill="#600090"/>
<text x="0.00" y="0.00" font-size="4.8" fill="#222" stroke="#222" stroke-width="0.2" transform="translate(149.40,434.26) scale(0.85,1)">007</text>
<rect x="142.20" y="436.69" width="5.2" height="1.2" fill="#90b8ff"/>
<ellipse cx="144.80" cy="437.29" rx="1.6" ry="1.2" fill="#90b8ff"/>
<text x="0.00" y="0.00" font-size="4.8" fill="#222" stroke="#222" stroke-width="0.2" transform="translate(149.40,439.09) scale(0.85,1)">008</text>
<rect x="142.20" y="441.52" width="5.2" height="1.2" fill="#e01080"/>
<ellipse cx="144.80" cy="442.12" rx="1.6" ry="1.2" fill="#e01080"/>
<text x="0.00" y="0.00" font-size="4.8" fill="#222" stroke="#222" stroke-width="0.2" transform="translate(149.40,443.92) scale(0.85,1)">012</text>
<rect x="142.20" y="446.35" width="5.2" height="1.2" fill="#c8c040"/>
<ellipse cx="144.80" cy="446.95" rx="1.6" ry="1.2" fill="#c8c040"/>
<text x="0.00" y="0.00" font-size="4.8" fill="#222" stroke="#222" stroke-width="0.2" transform="translate(149.40,448.75) scale(0.85,1)">013</text>
<rect x="142.20" y="451.18" width="5.2" height="1.2" fill="#a07030"/>
<ellipse cx="144.80" cy="451.78" rx="1.6" ry="1.2" fill="#a07030"/>
<text x="0.00" y="0.00" font-size="4.8" fill="#222" stroke="#222" stroke-width="0.2" transform="translate(149.40,453.58) scale(0.85,1)">015</text>
<rect x="142.20" y="456.01" width="5.2" height="1.2" fill="#e03030"/>
<ellipse cx="144.80" cy="456.61" rx="1.6" ry="1.2" fill="#e03030"/>
<text x="0.00" y="0.00" font-size="4.8" fill="#222" stroke="#222" stroke-width="0.2" transform="translate(149.40,458.41) scale(0.85,1)">019</text>
<rect x="142.20" y="460.84" width="5.2" height="1.2" fill="#a0a0a0"/>
<ellipse cx="144.80" cy="461.44" rx="1.6" ry="1.2" fill="#a0a0a0"/>
<text x="0.00" y="0.00" font-size="4.8" fill="#222" stroke="#222" stroke-width="0.2" transform="translate(149.40,463.24) scale(0.85,1)">021</text>
<rect x="142.20" y="465.67" width="5.2" height="1.2" fill="#404040"/>
<ellipse cx="144.80" cy="466.27" rx="1.6" ry="1.2" fill="#404040"/>
<text x="0.00" y="0.00" font-size="4.8" fill="#222" stroke="#222" stroke-width="0.2" transform="translate(149.40,468.07) scale(0.85,1)">024</text>
<rect x="142.20" y="470.50" width="5.2" height="1.2" fill="#60c030"/>
<ellipse cx="144.80" cy="471.10" rx="1.6" ry="1.2" fill="#60c030"/>
<text x="0.00" y="0.00" font-size="4.8" fill="#222" stroke="#222" stroke-width="0.2" transform="translate(149.40,472.90) scale(0.85,1)">026</text>
<rect x="142.20" y="475.33" width="5.2" height="1.2" fill="#b070e0"/>
<ellipse cx="144.80" cy="475.93" rx="1.6" ry="1.2" fill="#b070e0"/>
<text x="0.00" y="0.00" font-size="4.8" fill="#222" stroke="#222" stroke-width="0.2" transform="translate(149.40,477.73) scale(0.85,1)">032</text>
<rect x="142.20" y="480.16" width="5.2" height="1.2" fill="#6060f0"/>
<ellipse cx="144.80" cy="480.76" rx="1.6" ry="1.2" fill="#6060f0"/>
<text x="0.00" y="0.00" font-size="4.8" fill="#222" stroke="#222" stroke-width="0.2" transform="translate(149.40,482.56) scale(0.85,1)">033</text>
<rect x="142.20" y="484.99" width="5.2" height="1.2" fill="#0000e0"/>
<ellipse cx="144.80" cy="485.59" rx="1.6" ry="1.2" fill="#0000e0"/>
<text x="0.00" y="0.00" font-size="4.8" fill="#222" stroke="#222" stroke-width="0.2" transform="translate(149.40,487.39) scale(0.85,1)">048</text>
<rect x="142.20" y="489.82" width="5.2" height="1.2" fill="#d0d0d0"/>
<ellipse cx="144.80" cy="490.42" rx="1.6" ry="1.2" fill="#d0d0d0"/>
<text x="0.00" y="0.00" font-size="4.8" fill="#222" stroke="#222" stroke-width="0.2" transform="translate(149.40,492.22) scale(0.85,1)">051</text>
<rect x="142.20" y="494.65" width="5.2" height="1.2" fill="#60a0ff"/>
<ellipse cx="144.80" cy="495.25" rx="1.6" ry="1.2" fill="#60a0ff"/>
<text x="0.00" y="0.00" font-size="4.8" fill="#222" stroke="#222" stroke-width="0.2" transform="translate(149.40,497.05) scale(0.85,1)">054</text>
<rect x="142.20" y="499.48" width="5.2" height="1.2" fill="#f07010"/>
<ellipse cx="144.80" cy="500.08" rx="1.6" ry="1.2" fill="#f07010"/>
<text x="0.00" y="0.00" font-size="4.8" fill="#222" stroke="#222" stroke-width="0.2" transform="translate(149.40,501.88) scale(0.85,1)">058</text>
<rect x="142.20" y="504.31" width="5.2" height="1.2" fill="#f0c090"/>
<ellipse cx="144.80" cy="504.91" rx="1.6" ry="1.2" fill="#f0c090"/>
<text x="0.00" y="0.00" font-size="4.8" fill="#222" stroke="#222" stroke-width="0.2" transform="translate(149.40,506.71) scale(0.85,1)">060</text>
<rect x="142.20" y="509.14" width="5.2" height="1.2" fill="#a020f0"/>
<ellipse cx="144.80" cy="509.74" rx="1.6" ry="1.2" fill="#a020f0"/>
<text x="0.00" y="0.00" font-size="4.8" fill="#222" stroke="#222" stroke-width="0.2" transform="translate(149.40,511.54) scale(0.85,1)">061</text>
<rect x="142.20" y="513.97" width="5.2" height="1.2" fill="#80f0a0"/>
<ellipse cx="144.80" cy="514.57" rx="1.6" ry="1.2" fill="#80f0a0"/>
<text x="0.00" y="0.00" font-size="4.8" fill="#222" stroke="#222" stroke-width="0.2" transform="translate(149.40,516.37) scale(0.85,1)">068</text>
<rect x="142.20" y="518.80" width="5.2" height="1.2" fill="#3a8a50"/>
<ellipse cx="144.80" cy="519.40" rx="1.6" ry="1.2" fill="#3a8a50"/>
<text x="0.00" y="0.00" font-size="4.8" fill="#222" stroke="#222" stroke-width="0.2" transform="translate(149.40,521.20) scale(0.85,1)">070</text>
<rect x="142.20" y="523.63" width="5.2" height="1.2" fill="#8090ff"/>
<ellipse cx="144.80" cy="524.23" rx="1.6" ry="1.2" fill="#8090ff"/>
<text x="0.00" y="0.00" font-size="4.8" fill="#222" stroke="#222" stroke-width="0.2" transform="translate(149.40,526.03) scale(0.85,1)">071</text>
<rect x="142.20" y="528.46" width="5.2" height="1.2" fill="#3a7a10"/>
<ellipse cx="144.80" cy="529.06" rx="1.6" ry="1.2" fill="#3a7a10"/>
<text x="0.00" y="0.00" font-size="4.8" fill="#222" stroke="#222" stroke-width="0.2" transform="translate(149.40,530.86) scale(0.85,1)">072</text>
<rect x="160.20" y="422.20" width="5.2" height="1.2" fill="#e060e0"/>
<ellipse cx="162.80" cy="422.80" rx="1.6" ry="1.2" fill="#e060e0"/>
<text x="0.00" y="0.00" font-size="4.8" fill="#222" stroke="#222" stroke-width="0.2" transform="translate(167.40,424.60) scale(0.85,1)">073</text>
<rect x="160.20" y="427.03" width="5.2" height="1.2" fill="#ffff80"/>
<ellipse cx="162.80" cy="427.63" rx="1.6" ry="1.2" fill="#ffff80"/>
<text x="0.00" y="0.00" font-size="4.8" fill="#222" stroke="#222" stroke-width="0.2" transform="translate(167.40,429.43) scale(0.85,1)">076</text>
<rect x="160.20" y="431.86" width="5.2" height="1.2" fill="#b0a060"/>
<ellipse cx="162.80" cy="432.46" rx="1.6" ry="1.2" fill="#b0a060"/>
<text x="0.00" y="0.00" font-size="4.8" fill="#222" stroke="#222" stroke-width="0.2" transform="translate(167.40,434.26) scale(0.85,1)">083</text>
<rect x="160.20" y="436.69" width="5.2" height="1.2" fill="#f08080"/>
<ellipse cx="162.80" cy="437.29" rx="1.6" ry="1.2" fill="#f08080"/>
<text x="0.00" y="0.00" font-size="4.8" fill="#222" stroke="#222" stroke-width="0.2" transform="translate(167.40,439.09) scale(0.85,1)">096</text>
<rect x="160.20" y="441.52" width="5.2" height="1.2" fill="#8a7a30"/>
<ellipse cx="162.80" cy="442.12" rx="1.6" ry="1.2" fill="#8a7a30"/>
<text x="0.00" y="0.00" font-size="4.8" fill="#222" stroke="#222" stroke-width="0.2" transform="translate(167.40,443.92) scale(0.85,1)">100</text>
<rect x="160.20" y="446.35" width="5.2" height="1.2" fill="#4a80a0"/>
<ellipse cx="162.80" cy="446.95" rx="1.6" ry="1.2" fill="#4a80a0"/>
<text x="0.00" y="0.00" font-size="4.8" fill="#222" stroke="#222" stroke-width="0.2" transform="translate(167.40,448.75) scale(0.85,1)">101</text>
<rect x="160.20" y="451.18" width="5.2" height="1.2" fill="#ffff30"/>
<ellipse cx="162.80" cy="451.78" rx="1.6" ry="1.2" fill="#ffff30"/>
<text x="0.00" y="0.00" font-size="4.8" fill="#222" stroke="#222" stroke-width="0.2" transform="translate(167.40,453.58) scale(0.85,1)">102</text>
<rect x="160.20" y="456.01" width="5.2" height="1.2" fill="#50b070"/>
<ellipse cx="162.80" cy="456.61" rx="1.6" ry="1.2" fill="#50b070"/>
<text x="0.00" y="0.00" font-size="4.8" fill="#222" stroke="#222" stroke-width="0.2" transform="translate(167.40,458.41) scale(0.85,1)">105</text>
<rect x="160.20" y="460.84" width="5.2" height="1.2" fill="#40a0c0"/>
<ellipse cx="162.80" cy="461.44" rx="1.6" ry="1.2" fill="#40a0c0"/>
<text x="0.00" y="0.00" font-size="4.8" fill="#222" stroke="#222" stroke-width="0.2" transform="translate(167.40,463.24) scale(0.85,1)">108</text>
<rect x="160.20" y="465.67" width="5.2" height="1.2" fill="#b05010"/>
<ellipse cx="162.80" cy="466.27" rx="1.6" ry="1.2" fill="#b05010"/>
<text x="0.00" y="0.00" font-size="4.8" fill="#222" stroke="#222" stroke-width="0.2" transform="translate(167.40,468.07) scale(0.85,1)">109</text>
<rect x="160.20" y="470.50" width="5.2" height="1.2" fill="#808080"/>
<ellipse cx="162.80" cy="471.10" rx="1.6" ry="1.2" fill="#808080"/>
<text x="0.00" y="0.00" font-size="4.8" fill="#222" stroke="#222" stroke-width="0.2" transform="translate(167.40,472.90) scale(0.85,1)">114</text>
<rect x="160.20" y="475.33" width="5.2" height="1.2" fill="#c0a070"/>
<ellipse cx="162.80" cy="475.93" rx="1.6" ry="1.2" fill="#c0a070"/>
<text x="0.00" y="0.00" font-size="4.8" fill="#222" stroke="#222" stroke-width="0.2" transform="translate(167.40,477.73) scale(0.85,1)">115</text>
<rect x="160.20" y="480.16" width="5.2" height="1.2" fill="#6010a0"/>
<ellipse cx="162.80" cy="480.76" rx="1.6" ry="1.2" fill="#6010a0"/>
<text x="0.00" y="0.00" font-size="4.8" fill="#222" stroke="#222" stroke-width="0.2" transform="translate(167.40,482.56) scale(0.85,1)">120</text>
<rect x="160.20" y="484.99" width="5.2" height="1.2" fill="#a0ff80"/>
<ellipse cx="162.80" cy="485.59" rx="1.6" ry="1.2" fill="#a0ff80"/>
<text x="0.00" y="0.00" font-size="4.8" fill="#222" stroke="#222" stroke-width="0.2" transform="translate(167.40,487.39) scale(0.85,1)">121</text>
<rect x="160.20" y="489.82" width="5.2" height="1.2" fill="#b00050"/>
<ellipse cx="162.80" cy="490.42" rx="1.6" ry="1.2" fill="#b00050"/>
<text x="0.00" y="0.00" font-size="4.8" fill="#222" stroke="#222" stroke-width="0.2" transform="translate(167.40,492.22) scale(0.85,1)">126</text>
<rect x="160.20" y="494.65" width="5.2" height="1.2" fill="#e080f0"/>
<ellipse cx="162.80" cy="495.25" rx="1.6" ry="1.2" fill="#e080f0"/>
<text x="0.00" y="0.00" font-size="4.8" fill="#222" stroke="#222" stroke-width="0.2" transform="translate(167.40,497.05) scale(0.85,1)">128</text>
<rect x="160.20" y="499.48" width="5.2" height="1.2" fill="#f0b060"/>
<ellipse cx="162.80" cy="500.08" rx="1.6" ry="1.2" fill="#f0b060"/>
<text x="0.00" y="0.00" font-size="4.8" fill="#222" stroke="#222" stroke-width="0.2" transform="translate(167.40,501.88) scale(0.85,1)">131</text>
<rect x="160.20" y="504.31" width="5.2" height="1.2" fill="#f06020"/>
<ellipse cx="162.80" cy="504.91" rx="1.6" ry="1.2" fill="#f06020"/>
<text x="0.00" y="0.00" font-size="4.8" fill="#222" stroke="#222" stroke-width="0.2" transform="translate(167.40,506.71) scale(0.85,1)">134</text>
<rect x="160.20" y="509.14" width="5.2" height="1.2" fill="#80ff30"/>
<ellipse cx="162.80" cy="509.74" rx="1.6" ry="1.2" fill="#80ff30"/>
<text x="0.00" y="0.00" font-size="4.8" fill="#222" stroke="#222" stroke-width="0.2" transform="translate(167.40,511.54) scale(0.85,1)">135</text>
<rect x="160.20" y="513.97" width="5.2" height="1.2" fill="#d8d8d8"/>
<ellipse cx="162.80" cy="514.57" rx="1.6" ry="1.2" fill="#d8d8d8"/>
<text x="0.00" y="0.00" font-size="4.8" fill="#222" stroke="#222" stroke-width="0.2" transform="translate(167.40,516.37) scale(0.85,1)">139</text>
<rect x="160.20" y="518.80" width="5.2" height="1.2" fill="#f080c0"/>
<ellipse cx="162.80" cy="519.40" rx="1.6" ry="1.2" fill="#f080c0"/>
<text x="0.00" y="0.00" font-size="4.8" fill="#222" stroke="#222" stroke-width="0.2" transform="translate(167.40,521.20) scale(0.85,1)">141</text>
<rect x="160.20" y="523.63" width="5.2" height="1.2" fill="#900010"/>
<ellipse cx="162.80" cy="524.23" rx="1.6" ry="1.2" fill="#900010"/>
<text x="0.00" y="0.00" font-size="4.8" fill="#222" stroke="#222" stroke-width="0.2" transform="translate(167.40,526.03) scale(0.85,1)">143</text>
<rect x="160.20" y="528.46" width="5.2" height="1.2" fill="#305a70"/>
<ellipse cx="162.80" cy="529.06" rx="1.6" ry="1.2" fill="#305a70"/>
<text x="0.00" y="0.00" font-size="4.8" fill="#222" stroke="#222" stroke-width="0.2" transform="translate(167.40,530.86) scale(0.85,1)">147</text>
<rect x="160.20" y="533.29" width="5.2" height="1.2" fill="#f06090"/>
<ellipse cx="162.80" cy="533.89" rx="1.6" ry="1.2" fill="#f06090"/>
<text x="0.00" y="0.00" font-size="4.8" fill="#222" stroke="#222" stroke-width="0.2" transform="translate(167.40,535.69) scale(0.85,1)">157</text>
<line x1="23.00" y1="282.80" x2="23.00" y2="379.80" stroke="#7a7a7a" stroke-width="1.1"/>
<line x1="22.50" y1="379.20" x2="139.50" y2="379.20" stroke="#7a7a7a" stroke-width="1.1"/>
<line x1="21.20" y1="379.20" x2="23.00" y2="379.20" stroke="#7a7a7a" stroke-width="0.9"/>
<text x="0.00" y="0.00" font-size="5.7" text-anchor="end" fill="#666" stroke="#666" stroke-width="0.2" transform="translate(20.60,381.20) scale(0.8,1)">0.001</text>
<line x1="22.00" y1="373.43" x2="23.00" y2="373.43" stroke="#7a7a7a" stroke-width="0.6"/>
<line x1="22.00" y1="370.05" x2="23.00" y2="370.05" stroke="#7a7a7a" stroke-width="0.6"/>
<line x1="22.00" y1="367.65" x2="23.00" y2="367.65" stroke="#7a7a7a" stroke-width="0.6"/>
<line x1="22.00" y1="365.79" x2="23.00" y2="365.79" stroke="#7a7a7a" stroke-width="0.6"/>
<line x1="22.00" y1="364.28" x2="23.00" y2="364.28" stroke="#7a7a7a" stroke-width="0.6"/>
<line x1="22.00" y1="362.99" x2="23.00" y2="362.99" stroke="#7a7a7a" stroke-width="0.6"/>
<line x1="22.00" y1="361.88" x2="23.00" y2="361.88" stroke="#7a7a7a" stroke-width="0.6"/>
<line x1="22.00" y1="360.90" x2="23.00" y2="360.90" stroke="#7a7a7a" stroke-width="0.6"/>
<line x1="21.20" y1="360.02" x2="23.00" y2="360.02" stroke="#7a7a7a" stroke-width="0.9"/>
<text x="0.00" y="0.00" font-size="5.7" text-anchor="end" fill="#666" stroke="#666" stroke-width="0.2" transform="translate(20.60,362.02) scale(0.8,1)">0.01</text>
<line x1="22.00" y1="354.25" x2="23.00" y2="354.25" stroke="#7a7a7a" stroke-width="0.6"/>
<line x1="22.00" y1="350.87" x2="23.00" y2="350.87" stroke="#7a7a7a" stroke-width="0.6"/>
<line x1="22.00" y1="348.47" x2="23.00" y2="348.47" stroke="#7a7a7a" stroke-width="0.6"/>
<line x1="22.00" y1="346.61" x2="23.00" y2="346.61" stroke="#7a7a7a" stroke-width="0.6"/>
<line x1="22.00" y1="345.10" x2="23.00" y2="345.10" stroke="#7a7a7a" stroke-width="0.6"/>
<line x1="22.00" y1="343.81" x2="23.00" y2="343.81" stroke="#7a7a7a" stroke-width="0.6"/>
<line x1="22.00" y1="342.70" x2="23.00" y2="342.70" stroke="#7a7a7a" stroke-width="0.6"/>
<line x1="22.00" y1="341.72" x2="23.00" y2="341.72" stroke="#7a7a7a" stroke-width="0.6"/>
<line x1="21.20" y1="340.84" x2="23.00" y2="340.84" stroke="#7a7a7a" stroke-width="0.9"/>
<text x="0.00" y="0.00" font-size="5.7" text-anchor="end" fill="#666" stroke="#666" stroke-width="0.2" transform="translate(20.60,342.84) scale(0.8,1)">0.1</text>
<line x1="22.00" y1="335.07" x2="23.00" y2="335.07" stroke="#7a7a7a" stroke-width="0.6"/>
<line x1="22.00" y1="331.69" x2="23.00" y2="331.69" stroke="#7a7a7a" stroke-width="0.6"/>
<line x1="22.00" y1="329.29" x2="23.00" y2="329.29" stroke="#7a7a7a" stroke-width="0.6"/>
<line x1="22.00" y1="327.43" x2="23.00" y2="327.43" stroke="#7a7a7a" stroke-width="0.6"/>
<line x1="22.00" y1="325.92" x2="23.00" y2="325.92" stroke="#7a7a7a" stroke-width="0.6"/>
<line x1="22.00" y1="324.63" x2="23.00" y2="324.63" stroke="#7a7a7a" stroke-width="0.6"/>
<line x1="22.00" y1="323.52" x2="23.00" y2="323.52" stroke="#7a7a7a" stroke-width="0.6"/>
<line x1="22.00" y1="322.54" x2="23.00" y2="322.54" stroke="#7a7a7a" stroke-width="0.6"/>
<line x1="21.20" y1="321.66" x2="23.00" y2="321.66" stroke="#7a7a7a" stroke-width="0.9"/>
<text x="0.00" y="0.00" font-size="5.7" text-anchor="end" fill="#666" stroke="#666" stroke-width="0.2" transform="translate(20.60,323.66) scale(0.8,1)">1</text>
<line x1="22.00" y1="315.89" x2="23.00" y2="315.89" stroke="#7a7a7a" stroke-width="0.6"/>
<line x1="22.00" y1="312.51" x2="23.00" y2="312.51" stroke="#7a7a7a" stroke-width="0.6"/>
<line x1="22.00" y1="310.11" x2="23.00" y2="310.11" stroke="#7a7a7a" stroke-width="0.6"/>
<line x1="22.00" y1="308.25" x2="23.00" y2="308.25" stroke="#7a7a7a" stroke-width="0.6"/>
<line x1="22.00" y1="306.74" x2="23.00" y2="306.74" stroke="#7a7a7a" stroke-width="0.6"/>
<line x1="22.00" y1="305.45" x2="23.00" y2="305.45" stroke="#7a7a7a" stroke-width="0.6"/>
<line x1="22.00" y1="304.34" x2="23.00" y2="304.34" stroke="#7a7a7a" stroke-width="0.6"/>
<line x1="22.00" y1="303.36" x2="23.00" y2="303.36" stroke="#7a7a7a" stroke-width="0.6"/>
<line x1="21.20" y1="302.48" x2="23.00" y2="302.48" stroke="#7a7a7a" stroke-width="0.9"/>
<text x="0.00" y="0.00" font-size="5.7" text-anchor="end" fill="#666" stroke="#666" stroke-width="0.2" transform="translate(20.60,304.48) scale(0.8,1)">10</text>
<line x1="22.00" y1="296.71" x2="23.00" y2="296.71" stroke="#7a7a7a" stroke-width="0.6"/>
<line x1="22.00" y1="293.33" x2="23.00" y2="293.33" stroke="#7a7a7a" stroke-width="0.6"/>
<line x1="22.00" y1="290.93" x2="23.00" y2="290.93" stroke="#7a7a7a" stroke-width="0.6"/>
<line x1="22.00" y1="289.07" x2="23.00" y2="289.07" stroke="#7a7a7a" stroke-width="0.6"/>
<line x1="22.00" y1="287.56" x2="23.00" y2="287.56" stroke="#7a7a7a" stroke-width="0.6"/>
<line x1="22.00" y1="286.27" x2="23.00" y2="286.27" stroke="#7a7a7a" stroke-width="0.6"/>
<line x1="22.00" y1="285.16" x2="23.00" y2="285.16" stroke="#7a7a7a" stroke-width="0.6"/>
<line x1="22.00" y1="284.18" x2="23.00" y2="284.18" stroke="#7a7a7a" stroke-width="0.6"/>
<line x1="21.20" y1="283.30" x2="23.00" y2="283.30" stroke="#7a7a7a" stroke-width="0.9"/>
<text x="0.00" y="0.00" font-size="5.7" text-anchor="end" fill="#666" stroke="#666" stroke-width="0.2" transform="translate(20.60,285.30) scale(0.8,1)">100</text>
<line x1="23.00" y1="379.20" x2="23.00" y2="380.70" stroke="#7a7a7a" stroke-width="0.9"/>
<text x="0.00" y="0.00" font-size="5.9" text-anchor="end" fill="#666" stroke="#666" stroke-width="0.2" transform="translate(25.20,384.40) rotate(-45) scale(0.85,1)">0</text>
<line x1="37.52" y1="379.20" x2="37.52" y2="380.70" stroke="#7a7a7a" stroke-width="0.9"/>
<text x="0.00" y="0.00" font-size="5.9" text-anchor="end" fill="#666" stroke="#666" stroke-width="0.2" transform="translate(39.73,384.40) rotate(-45) scale(0.85,1)">50</text>
<line x1="52.05" y1="379.20" x2="52.05" y2="380.70" stroke="#7a7a7a" stroke-width="0.9"/>
<text x="0.00" y="0.00" font-size="5.9" text-anchor="end" fill="#666" stroke="#666" stroke-width="0.2" transform="translate(54.25,384.40) rotate(-45) scale(0.85,1)">100</text>
<line x1="66.58" y1="379.20" x2="66.58" y2="380.70" stroke="#7a7a7a" stroke-width="0.9"/>
<text x="0.00" y="0.00" font-size="5.9" text-anchor="end" fill="#666" stroke="#666" stroke-width="0.2" transform="translate(68.78,384.40) rotate(-45) scale(0.85,1)">150</text>
<line x1="81.10" y1="379.20" x2="81.10" y2="380.70" stroke="#7a7a7a" stroke-width="0.9"/>
<text x="0.00" y="0.00" font-size="5.9" text-anchor="end" fill="#666" stroke="#666" stroke-width="0.2" transform="translate(83.30,384.40) rotate(-45) scale(0.85,1)">200</text>
<line x1="95.62" y1="379.20" x2="95.62" y2="380.70" stroke="#7a7a7a" stroke-width="0.9"/>
<text x="0.00" y="0.00" font-size="5.9" text-anchor="end" fill="#666" stroke="#666" stroke-width="0.2" transform="translate(97.82,384.40) rotate(-45) scale(0.85,1)">250</text>
<line x1="110.15" y1="379.20" x2="110.15" y2="380.70" stroke="#7a7a7a" stroke-width="0.9"/>
<text x="0.00" y="0.00" font-size="5.9" text-anchor="end" fill="#666" stroke="#666" stroke-width="0.2" transform="translate(112.35,384.40) rotate(-45) scale(0.85,1)">300</text>
<line x1="124.67" y1="379.20" x2="124.67" y2="380.70" stroke="#7a7a7a" stroke-width="0.9"/>
<text x="0.00" y="0.00" font-size="5.9" text-anchor="end" fill="#666" stroke="#666" stroke-width="0.2" transform="translate(126.87,384.40) rotate(-45) scale(0.85,1)">350</text>
<line x1="139.20" y1="379.20" x2="139.20" y2="380.70" stroke="#7a7a7a" stroke-width="0.9"/>
<text x="0.00" y="0.00" font-size="5.9" text-anchor="end" fill="#666" stroke="#666" stroke-width="0.2" transform="translate(141.40,384.40) rotate(-45) scale(0.85,1)">400</text>
<text x="142.60" y="381.40" font-size="5.9" fill="#333" stroke="#333" stroke-width="0.2">Days</text>
<text transform="translate(6.90,373.10) rotate(-90)" font-size="6.30" fill="#333" stroke="#333" stroke-width="0.2"><tspan font-size="7.40">log</tspan><tspan font-size="4.30" dy="1.7">10</tspan><tspan dy="-1.7"> fold change from baseline</tspan></text>
<line x1="216.20" y1="281.30" x2="216.20" y2="379.80" stroke="#7a7a7a" stroke-width="1.1"/>
<line x1="215.70" y1="379.20" x2="333.70" y2="379.20" stroke="#7a7a7a" stroke-width="1.1"/>
<line x1="214.40" y1="379.20" x2="216.20" y2="379.20" stroke="#7a7a7a" stroke-width="0.9"/>
<text x="0.00" y="0.00" font-size="5.7" text-anchor="end" fill="#666" stroke="#666" stroke-width="0.2" transform="translate(213.80,381.20) scale(0.8,1)">0.1</text>
<line x1="215.20" y1="369.43" x2="216.20" y2="369.43" stroke="#7a7a7a" stroke-width="0.6"/>
<line x1="215.20" y1="363.71" x2="216.20" y2="363.71" stroke="#7a7a7a" stroke-width="0.6"/>
<line x1="215.20" y1="359.65" x2="216.20" y2="359.65" stroke="#7a7a7a" stroke-width="0.6"/>
<line x1="215.20" y1="356.51" x2="216.20" y2="356.51" stroke="#7a7a7a" stroke-width="0.6"/>
<line x1="215.20" y1="353.94" x2="216.20" y2="353.94" stroke="#7a7a7a" stroke-width="0.6"/>
<line x1="215.20" y1="351.76" x2="216.20" y2="351.76" stroke="#7a7a7a" stroke-width="0.6"/>
<line x1="215.20" y1="349.88" x2="216.20" y2="349.88" stroke="#7a7a7a" stroke-width="0.6"/>
<line x1="215.20" y1="348.22" x2="216.20" y2="348.22" stroke="#7a7a7a" stroke-width="0.6"/>
<line x1="214.40" y1="346.73" x2="216.20" y2="346.73" stroke="#7a7a7a" stroke-width="0.9"/>
<text x="0.00" y="0.00" font-size="5.7" text-anchor="end" fill="#666" stroke="#666" stroke-width="0.2" transform="translate(213.80,348.73) scale(0.8,1)">1</text>
<line x1="215.20" y1="336.96" x2="216.20" y2="336.96" stroke="#7a7a7a" stroke-width="0.6"/>
<line x1="215.20" y1="331.24" x2="216.20" y2="331.24" stroke="#7a7a7a" stroke-width="0.6"/>
<line x1="215.20" y1="327.19" x2="216.20" y2="327.19" stroke="#7a7a7a" stroke-width="0.6"/>
<line x1="215.20" y1="324.04" x2="216.20" y2="324.04" stroke="#7a7a7a" stroke-width="0.6"/>
<line x1="215.20" y1="321.47" x2="216.20" y2="321.47" stroke="#7a7a7a" stroke-width="0.6"/>
<line x1="215.20" y1="319.30" x2="216.20" y2="319.30" stroke="#7a7a7a" stroke-width="0.6"/>
<line x1="215.20" y1="317.41" x2="216.20" y2="317.41" stroke="#7a7a7a" stroke-width="0.6"/>
<line x1="215.20" y1="315.75" x2="216.20" y2="315.75" stroke="#7a7a7a" stroke-width="0.6"/>
<line x1="214.40" y1="314.27" x2="216.20" y2="314.27" stroke="#7a7a7a" stroke-width="0.9"/>
<text x="0.00" y="0.00" font-size="5.7" text-anchor="end" fill="#666" stroke="#666" stroke-width="0.2" transform="translate(213.80,316.27) scale(0.8,1)">10</text>
<line x1="215.20" y1="304.49" x2="216.20" y2="304.49" stroke="#7a7a7a" stroke-width="0.6"/>
<line x1="215.20" y1="298.78" x2="216.20" y2="298.78" stroke="#7a7a7a" stroke-width="0.6"/>
<line x1="215.20" y1="294.72" x2="216.20" y2="294.72" stroke="#7a7a7a" stroke-width="0.6"/>
<line x1="215.20" y1="291.57" x2="216.20" y2="291.57" stroke="#7a7a7a" stroke-width="0.6"/>
<line x1="215.20" y1="289.00" x2="216.20" y2="289.00" stroke="#7a7a7a" stroke-width="0.6"/>
<line x1="215.20" y1="286.83" x2="216.20" y2="286.83" stroke="#7a7a7a" stroke-width="0.6"/>
<line x1="215.20" y1="284.95" x2="216.20" y2="284.95" stroke="#7a7a7a" stroke-width="0.6"/>
<line x1="215.20" y1="283.29" x2="216.20" y2="283.29" stroke="#7a7a7a" stroke-width="0.6"/>
<line x1="214.40" y1="281.80" x2="216.20" y2="281.80" stroke="#7a7a7a" stroke-width="0.9"/>
<text x="0.00" y="0.00" font-size="5.7" text-anchor="end" fill="#666" stroke="#666" stroke-width="0.2" transform="translate(213.80,283.80) scale(0.8,1)">100</text>
<line x1="216.20" y1="379.20" x2="216.20" y2="380.70" stroke="#7a7a7a" stroke-width="0.9"/>
<text x="0.00" y="0.00" font-size="5.1" text-anchor="end" fill="#666" stroke="#666" stroke-width="0.2" transform="translate(218.40,384.40) rotate(-45) scale(0.85,1)">0</text>
<line x1="224.57" y1="379.20" x2="224.57" y2="380.70" stroke="#7a7a7a" stroke-width="0.9"/>
<text x="0.00" y="0.00" font-size="5.1" text-anchor="end" fill="#666" stroke="#666" stroke-width="0.2" transform="translate(226.77,384.40) rotate(-45) scale(0.85,1)">10</text>
<line x1="232.94" y1="379.20" x2="232.94" y2="380.70" stroke="#7a7a7a" stroke-width="0.9"/>
<text x="0.00" y="0.00" font-size="5.1" text-anchor="end" fill="#666" stroke="#666" stroke-width="0.2" transform="translate(235.14,384.40) rotate(-45) scale(0.85,1)">20</text>
<line x1="241.31" y1="379.20" x2="241.31" y2="380.70" stroke="#7a7a7a" stroke-width="0.9"/>
<text x="0.00" y="0.00" font-size="5.1" text-anchor="end" fill="#666" stroke="#666" stroke-width="0.2" transform="translate(243.51,384.40) rotate(-45) scale(0.85,1)">30</text>
<line x1="249.69" y1="379.20" x2="249.69" y2="380.70" stroke="#7a7a7a" stroke-width="0.9"/>
<text x="0.00" y="0.00" font-size="5.1" text-anchor="end" fill="#666" stroke="#666" stroke-width="0.2" transform="translate(251.89,384.40) rotate(-45) scale(0.85,1)">40</text>
<line x1="258.06" y1="379.20" x2="258.06" y2="380.70" stroke="#7a7a7a" stroke-width="0.9"/>
<text x="0.00" y="0.00" font-size="5.1" text-anchor="end" fill="#666" stroke="#666" stroke-width="0.2" transform="translate(260.26,384.40) rotate(-45) scale(0.85,1)">50</text>
<line x1="266.43" y1="379.20" x2="266.43" y2="380.70" stroke="#7a7a7a" stroke-width="0.9"/>
<text x="0.00" y="0.00" font-size="5.1" text-anchor="end" fill="#666" stroke="#666" stroke-width="0.2" transform="translate(268.63,384.40) rotate(-45) scale(0.85,1)">60</text>
<line x1="274.80" y1="379.20" x2="274.80" y2="380.70" stroke="#7a7a7a" stroke-width="0.9"/>
<text x="0.00" y="0.00" font-size="5.1" text-anchor="end" fill="#666" stroke="#666" stroke-width="0.2" transform="translate(277.00,384.40) rotate(-45) scale(0.85,1)">70</text>
<line x1="283.17" y1="379.20" x2="283.17" y2="380.70" stroke="#7a7a7a" stroke-width="0.9"/>
<text x="0.00" y="0.00" font-size="5.1" text-anchor="end" fill="#666" stroke="#666" stroke-width="0.2" transform="translate(285.37,384.40) rotate(-45) scale(0.85,1)">80</text>
<line x1="291.54" y1="379.20" x2="291.54" y2="380.70" stroke="#7a7a7a" stroke-width="0.9"/>
<text x="0.00" y="0.00" font-size="5.1" text-anchor="end" fill="#666" stroke="#666" stroke-width="0.2" transform="translate(293.74,384.40) rotate(-45) scale(0.85,1)">90</text>
<line x1="299.91" y1="379.20" x2="299.91" y2="380.70" stroke="#7a7a7a" stroke-width="0.9"/>
<text x="0.00" y="0.00" font-size="5.1" text-anchor="end" fill="#666" stroke="#666" stroke-width="0.2" transform="translate(302.11,384.40) rotate(-45) scale(0.85,1)">100</text>
<line x1="308.29" y1="379.20" x2="308.29" y2="380.70" stroke="#7a7a7a" stroke-width="0.9"/>
<text x="0.00" y="0.00" font-size="5.1" text-anchor="end" fill="#666" stroke="#666" stroke-width="0.2" transform="translate(310.49,384.40) rotate(-45) scale(0.85,1)">110</text>
<line x1="316.66" y1="379.20" x2="316.66" y2="380.70" stroke="#7a7a7a" stroke-width="0.9"/>
<text x="0.00" y="0.00" font-size="5.1" text-anchor="end" fill="#666" stroke="#666" stroke-width="0.2" transform="translate(318.86,384.40) rotate(-45) scale(0.85,1)">120</text>
<line x1="325.03" y1="379.20" x2="325.03" y2="380.70" stroke="#7a7a7a" stroke-width="0.9"/>
<text x="0.00" y="0.00" font-size="5.1" text-anchor="end" fill="#666" stroke="#666" stroke-width="0.2" transform="translate(327.23,384.40) rotate(-45) scale(0.85,1)">130</text>
<line x1="333.40" y1="379.20" x2="333.40" y2="380.70" stroke="#7a7a7a" stroke-width="0.9"/>
<text x="0.00" y="0.00" font-size="5.1" text-anchor="end" fill="#666" stroke="#666" stroke-width="0.2" transform="translate(335.60,384.40) rotate(-45) scale(0.85,1)">140</text>
<text x="336.80" y="381.40" font-size="5.9" fill="#333" stroke="#333" stroke-width="0.2">Days</text>
<text transform="translate(202.00,364.50) rotate(-90)" font-size="5.86" fill="#333" stroke="#333" stroke-width="0.2"><tspan font-size="6.88">log</tspan><tspan font-size="4.00" dy="1.7">10</tspan><tspan dy="-1.7"> fold change from baseline</tspan></text>
<line x1="384.90" y1="282.80" x2="384.90" y2="379.60" stroke="#7a7a7a" stroke-width="1.1"/>
<line x1="384.40" y1="379.00" x2="502.20" y2="379.00" stroke="#7a7a7a" stroke-width="1.1"/>
<line x1="383.10" y1="379.00" x2="384.90" y2="379.00" stroke="#7a7a7a" stroke-width="0.9"/>
<text x="0.00" y="0.00" font-size="5.7" text-anchor="end" fill="#666" stroke="#666" stroke-width="0.2" transform="translate(382.50,381.00) scale(0.8,1)">0.001</text>
<line x1="383.90" y1="373.24" x2="384.90" y2="373.24" stroke="#7a7a7a" stroke-width="0.6"/>
<line x1="383.90" y1="369.87" x2="384.90" y2="369.87" stroke="#7a7a7a" stroke-width="0.6"/>
<line x1="383.90" y1="367.48" x2="384.90" y2="367.48" stroke="#7a7a7a" stroke-width="0.6"/>
<line x1="383.90" y1="365.62" x2="384.90" y2="365.62" stroke="#7a7a7a" stroke-width="0.6"/>
<line x1="383.90" y1="364.11" x2="384.90" y2="364.11" stroke="#7a7a7a" stroke-width="0.6"/>
<line x1="383.90" y1="362.82" x2="384.90" y2="362.82" stroke="#7a7a7a" stroke-width="0.6"/>
<line x1="383.90" y1="361.71" x2="384.90" y2="361.71" stroke="#7a7a7a" stroke-width="0.6"/>
<line x1="383.90" y1="360.74" x2="384.90" y2="360.74" stroke="#7a7a7a" stroke-width="0.6"/>
<line x1="383.10" y1="359.86" x2="384.90" y2="359.86" stroke="#7a7a7a" stroke-width="0.9"/>
<text x="0.00" y="0.00" font-size="5.7" text-anchor="end" fill="#666" stroke="#666" stroke-width="0.2" transform="translate(382.50,361.86) scale(0.8,1)">0.01</text>
<line x1="383.90" y1="354.10" x2="384.90" y2="354.10" stroke="#7a7a7a" stroke-width="0.6"/>
<line x1="383.90" y1="350.73" x2="384.90" y2="350.73" stroke="#7a7a7a" stroke-width="0.6"/>
<line x1="383.90" y1="348.34" x2="384.90" y2="348.34" stroke="#7a7a7a" stroke-width="0.6"/>
<line x1="383.90" y1="346.48" x2="384.90" y2="346.48" stroke="#7a7a7a" stroke-width="0.6"/>
<line x1="383.90" y1="344.97" x2="384.90" y2="344.97" stroke="#7a7a7a" stroke-width="0.6"/>
<line x1="383.90" y1="343.68" x2="384.90" y2="343.68" stroke="#7a7a7a" stroke-width="0.6"/>
<line x1="383.90" y1="342.57" x2="384.90" y2="342.57" stroke="#7a7a7a" stroke-width="0.6"/>
<line x1="383.90" y1="341.60" x2="384.90" y2="341.60" stroke="#7a7a7a" stroke-width="0.6"/>
<line x1="383.10" y1="340.72" x2="384.90" y2="340.72" stroke="#7a7a7a" stroke-width="0.9"/>
<text x="0.00" y="0.00" font-size="5.7" text-anchor="end" fill="#666" stroke="#666" stroke-width="0.2" transform="translate(382.50,342.72) scale(0.8,1)">0.1</text>
<line x1="383.90" y1="334.96" x2="384.90" y2="334.96" stroke="#7a7a7a" stroke-width="0.6"/>
<line x1="383.90" y1="331.59" x2="384.90" y2="331.59" stroke="#7a7a7a" stroke-width="0.6"/>
<line x1="383.90" y1="329.20" x2="384.90" y2="329.20" stroke="#7a7a7a" stroke-width="0.6"/>
<line x1="383.90" y1="327.34" x2="384.90" y2="327.34" stroke="#7a7a7a" stroke-width="0.6"/>
<line x1="383.90" y1="325.83" x2="384.90" y2="325.83" stroke="#7a7a7a" stroke-width="0.6"/>
<line x1="383.90" y1="324.54" x2="384.90" y2="324.54" stroke="#7a7a7a" stroke-width="0.6"/>
<line x1="383.90" y1="323.43" x2="384.90" y2="323.43" stroke="#7a7a7a" stroke-width="0.6"/>
<line x1="383.90" y1="322.46" x2="384.90" y2="322.46" stroke="#7a7a7a" stroke-width="0.6"/>
<line x1="383.10" y1="321.58" x2="384.90" y2="321.58" stroke="#7a7a7a" stroke-width="0.9"/>
<text x="0.00" y="0.00" font-size="5.7" text-anchor="end" fill="#666" stroke="#666" stroke-width="0.2" transform="translate(382.50,323.58) scale(0.8,1)">1</text>
<line x1="383.90" y1="315.82" x2="384.90" y2="315.82" stroke="#7a7a7a" stroke-width="0.6"/>
<line x1="383.90" y1="312.45" x2="384.90" y2="312.45" stroke="#7a7a7a" stroke-width="0.6"/>
<line x1="383.90" y1="310.06" x2="384.90" y2="310.06" stroke="#7a7a7a" stroke-width="0.6"/>
<line x1="383.90" y1="308.20" x2="384.90" y2="308.20" stroke="#7a7a7a" stroke-width="0.6"/>
<line x1="383.90" y1="306.69" x2="384.90" y2="306.69" stroke="#7a7a7a" stroke-width="0.6"/>
<line x1="383.90" y1="305.40" x2="384.90" y2="305.40" stroke="#7a7a7a" stroke-width="0.6"/>
<line x1="383.90" y1="304.29" x2="384.90" y2="304.29" stroke="#7a7a7a" stroke-width="0.6"/>
<line x1="383.90" y1="303.32" x2="384.90" y2="303.32" stroke="#7a7a7a" stroke-width="0.6"/>
<line x1="383.10" y1="302.44" x2="384.90" y2="302.44" stroke="#7a7a7a" stroke-width="0.9"/>
<text x="0.00" y="0.00" font-size="5.7" text-anchor="end" fill="#666" stroke="#666" stroke-width="0.2" transform="translate(382.50,304.44) scale(0.8,1)">10</text>
<line x1="383.90" y1="296.68" x2="384.90" y2="296.68" stroke="#7a7a7a" stroke-width="0.6"/>
<line x1="383.90" y1="293.31" x2="384.90" y2="293.31" stroke="#7a7a7a" stroke-width="0.6"/>
<line x1="383.90" y1="290.92" x2="384.90" y2="290.92" stroke="#7a7a7a" stroke-width="0.6"/>
<line x1="383.90" y1="289.06" x2="384.90" y2="289.06" stroke="#7a7a7a" stroke-width="0.6"/>
<line x1="383.90" y1="287.55" x2="384.90" y2="287.55" stroke="#7a7a7a" stroke-width="0.6"/>
<line x1="383.90" y1="286.26" x2="384.90" y2="286.26" stroke="#7a7a7a" stroke-width="0.6"/>
<line x1="383.90" y1="285.15" x2="384.90" y2="285.15" stroke="#7a7a7a" stroke-width="0.6"/>
<line x1="383.90" y1="284.18" x2="384.90" y2="284.18" stroke="#7a7a7a" stroke-width="0.6"/>
<line x1="383.10" y1="283.30" x2="384.90" y2="283.30" stroke="#7a7a7a" stroke-width="0.9"/>
<text x="0.00" y="0.00" font-size="5.7" text-anchor="end" fill="#666" stroke="#666" stroke-width="0.2" transform="translate(382.50,285.30) scale(0.8,1)">100</text>
<line x1="384.90" y1="379.00" x2="384.90" y2="380.50" stroke="#7a7a7a" stroke-width="0.9"/>
<text x="0.00" y="0.00" font-size="5.9" text-anchor="end" fill="#666" stroke="#666" stroke-width="0.2" transform="translate(387.10,384.20) rotate(-45) scale(0.85,1)">0</text>
<line x1="399.52" y1="379.00" x2="399.52" y2="380.50" stroke="#7a7a7a" stroke-width="0.9"/>
<text x="0.00" y="0.00" font-size="5.9" text-anchor="end" fill="#666" stroke="#666" stroke-width="0.2" transform="translate(401.72,384.20) rotate(-45) scale(0.85,1)">50</text>
<line x1="414.15" y1="379.00" x2="414.15" y2="380.50" stroke="#7a7a7a" stroke-width="0.9"/>
<text x="0.00" y="0.00" font-size="5.9" text-anchor="end" fill="#666" stroke="#666" stroke-width="0.2" transform="translate(416.35,384.20) rotate(-45) scale(0.85,1)">100</text>
<line x1="428.77" y1="379.00" x2="428.77" y2="380.50" stroke="#7a7a7a" stroke-width="0.9"/>
<text x="0.00" y="0.00" font-size="5.9" text-anchor="end" fill="#666" stroke="#666" stroke-width="0.2" transform="translate(430.97,384.20) rotate(-45) scale(0.85,1)">150</text>
<line x1="443.40" y1="379.00" x2="443.40" y2="380.50" stroke="#7a7a7a" stroke-width="0.9"/>
<text x="0.00" y="0.00" font-size="5.9" text-anchor="end" fill="#666" stroke="#666" stroke-width="0.2" transform="translate(445.60,384.20) rotate(-45) scale(0.85,1)">200</text>
<line x1="458.02" y1="379.00" x2="458.02" y2="380.50" stroke="#7a7a7a" stroke-width="0.9"/>
<text x="0.00" y="0.00" font-size="5.9" text-anchor="end" fill="#666" stroke="#666" stroke-width="0.2" transform="translate(460.22,384.20) rotate(-45) scale(0.85,1)">250</text>
<line x1="472.65" y1="379.00" x2="472.65" y2="380.50" stroke="#7a7a7a" stroke-width="0.9"/>
<text x="0.00" y="0.00" font-size="5.9" text-anchor="end" fill="#666" stroke="#666" stroke-width="0.2" transform="translate(474.85,384.20) rotate(-45) scale(0.85,1)">300</text>
<line x1="487.27" y1="379.00" x2="487.27" y2="380.50" stroke="#7a7a7a" stroke-width="0.9"/>
<text x="0.00" y="0.00" font-size="5.9" text-anchor="end" fill="#666" stroke="#666" stroke-width="0.2" transform="translate(489.47,384.20) rotate(-45) scale(0.85,1)">350</text>
<line x1="501.90" y1="379.00" x2="501.90" y2="380.50" stroke="#7a7a7a" stroke-width="0.9"/>
<text x="0.00" y="0.00" font-size="5.9" text-anchor="end" fill="#666" stroke="#666" stroke-width="0.2" transform="translate(504.10,384.20) rotate(-45) scale(0.85,1)">400</text>
<text x="505.30" y="381.20" font-size="5.9" fill="#333" stroke="#333" stroke-width="0.2">Days</text>
<text transform="translate(368.50,372.80) rotate(-90)" font-size="6.30" fill="#333" stroke="#333" stroke-width="0.2"><tspan font-size="7.40">log</tspan><tspan font-size="4.30" dy="1.7">10</tspan><tspan dy="-1.7"> fold change from baseline</tspan></text>
<line x1="22.80" y1="438.50" x2="22.80" y2="535.50" stroke="#7a7a7a" stroke-width="1.1"/>
<line x1="22.30" y1="534.90" x2="139.30" y2="534.90" stroke="#7a7a7a" stroke-width="1.1"/>
<line x1="21.00" y1="534.90" x2="22.80" y2="534.90" stroke="#7a7a7a" stroke-width="0.9"/>
<text x="0.00" y="0.00" font-size="5.7" text-anchor="end" fill="#666" stroke="#666" stroke-width="0.2" transform="translate(20.40,536.90) scale(0.8,1)">0.001</text>
<line x1="21.80" y1="529.13" x2="22.80" y2="529.13" stroke="#7a7a7a" stroke-width="0.6"/>
<line x1="21.80" y1="525.75" x2="22.80" y2="525.75" stroke="#7a7a7a" stroke-width="0.6"/>
<line x1="21.80" y1="523.35" x2="22.80" y2="523.35" stroke="#7a7a7a" stroke-width="0.6"/>
<line x1="21.80" y1="521.49" x2="22.80" y2="521.49" stroke="#7a7a7a" stroke-width="0.6"/>
<line x1="21.80" y1="519.98" x2="22.80" y2="519.98" stroke="#7a7a7a" stroke-width="0.6"/>
<line x1="21.80" y1="518.69" x2="22.80" y2="518.69" stroke="#7a7a7a" stroke-width="0.6"/>
<line x1="21.80" y1="517.58" x2="22.80" y2="517.58" stroke="#7a7a7a" stroke-width="0.6"/>
<line x1="21.80" y1="516.60" x2="22.80" y2="516.60" stroke="#7a7a7a" stroke-width="0.6"/>
<line x1="21.00" y1="515.72" x2="22.80" y2="515.72" stroke="#7a7a7a" stroke-width="0.9"/>
<text x="0.00" y="0.00" font-size="5.7" text-anchor="end" fill="#666" stroke="#666" stroke-width="0.2" transform="translate(20.40,517.72) scale(0.8,1)">0.01</text>
<line x1="21.80" y1="509.95" x2="22.80" y2="509.95" stroke="#7a7a7a" stroke-width="0.6"/>
<line x1="21.80" y1="506.57" x2="22.80" y2="506.57" stroke="#7a7a7a" stroke-width="0.6"/>
<line x1="21.80" y1="504.17" x2="22.80" y2="504.17" stroke="#7a7a7a" stroke-width="0.6"/>
<line x1="21.80" y1="502.31" x2="22.80" y2="502.31" stroke="#7a7a7a" stroke-width="0.6"/>
<line x1="21.80" y1="500.80" x2="22.80" y2="500.80" stroke="#7a7a7a" stroke-width="0.6"/>
<line x1="21.80" y1="499.51" x2="22.80" y2="499.51" stroke="#7a7a7a" stroke-width="0.6"/>
<line x1="21.80" y1="498.40" x2="22.80" y2="498.40" stroke="#7a7a7a" stroke-width="0.6"/>
<line x1="21.80" y1="497.42" x2="22.80" y2="497.42" stroke="#7a7a7a" stroke-width="0.6"/>
<line x1="21.00" y1="496.54" x2="22.80" y2="496.54" stroke="#7a7a7a" stroke-width="0.9"/>
<text x="0.00" y="0.00" font-size="5.7" text-anchor="end" fill="#666" stroke="#666" stroke-width="0.2" transform="translate(20.40,498.54) scale(0.8,1)">0.1</text>
<line x1="21.80" y1="490.77" x2="22.80" y2="490.77" stroke="#7a7a7a" stroke-width="0.6"/>
<line x1="21.80" y1="487.39" x2="22.80" y2="487.39" stroke="#7a7a7a" stroke-width="0.6"/>
<line x1="21.80" y1="484.99" x2="22.80" y2="484.99" stroke="#7a7a7a" stroke-width="0.6"/>
<line x1="21.80" y1="483.13" x2="22.80" y2="483.13" stroke="#7a7a7a" stroke-width="0.6"/>
<line x1="21.80" y1="481.62" x2="22.80" y2="481.62" stroke="#7a7a7a" stroke-width="0.6"/>
<line x1="21.80" y1="480.33" x2="22.80" y2="480.33" stroke="#7a7a7a" stroke-width="0.6"/>
<line x1="21.80" y1="479.22" x2="22.80" y2="479.22" stroke="#7a7a7a" stroke-width="0.6"/>
<line x1="21.80" y1="478.24" x2="22.80" y2="478.24" stroke="#7a7a7a" stroke-width="0.6"/>
<line x1="21.00" y1="477.36" x2="22.80" y2="477.36" stroke="#7a7a7a" stroke-width="0.9"/>
<text x="0.00" y="0.00" font-size="5.7" text-anchor="end" fill="#666" stroke="#666" stroke-width="0.2" transform="translate(20.40,479.36) scale(0.8,1)">1</text>
<line x1="21.80" y1="471.59" x2="22.80" y2="471.59" stroke="#7a7a7a" stroke-width="0.6"/>
<line x1="21.80" y1="468.21" x2="22.80" y2="468.21" stroke="#7a7a7a" stroke-width="0.6"/>
<line x1="21.80" y1="465.81" x2="22.80" y2="465.81" stroke="#7a7a7a" stroke-width="0.6"/>
<line x1="21.80" y1="463.95" x2="22.80" y2="463.95" stroke="#7a7a7a" stroke-width="0.6"/>
<line x1="21.80" y1="462.44" x2="22.80" y2="462.44" stroke="#7a7a7a" stroke-width="0.6"/>
<line x1="21.80" y1="461.15" x2="22.80" y2="461.15" stroke="#7a7a7a" stroke-width="0.6"/>
<line x1="21.80" y1="460.04" x2="22.80" y2="460.04" stroke="#7a7a7a" stroke-width="0.6"/>
<line x1="21.80" y1="459.06" x2="22.80" y2="459.06" stroke="#7a7a7a" stroke-width="0.6"/>
<line x1="21.00" y1="458.18" x2="22.80" y2="458.18" stroke="#7a7a7a" stroke-width="0.9"/>
<text x="0.00" y="0.00" font-size="5.7" text-anchor="end" fill="#666" stroke="#666" stroke-width="0.2" transform="translate(20.40,460.18) scale(0.8,1)">10</text>
<line x1="21.80" y1="452.41" x2="22.80" y2="452.41" stroke="#7a7a7a" stroke-width="0.6"/>
<line x1="21.80" y1="449.03" x2="22.80" y2="449.03" stroke="#7a7a7a" stroke-width="0.6"/>
<line x1="21.80" y1="446.63" x2="22.80" y2="446.63" stroke="#7a7a7a" stroke-width="0.6"/>
<line x1="21.80" y1="444.77" x2="22.80" y2="444.77" stroke="#7a7a7a" stroke-width="0.6"/>
<line x1="21.80" y1="443.26" x2="22.80" y2="443.26" stroke="#7a7a7a" stroke-width="0.6"/>
<line x1="21.80" y1="441.97" x2="22.80" y2="441.97" stroke="#7a7a7a" stroke-width="0.6"/>
<line x1="21.80" y1="440.86" x2="22.80" y2="440.86" stroke="#7a7a7a" stroke-width="0.6"/>
<line x1="21.80" y1="439.88" x2="22.80" y2="439.88" stroke="#7a7a7a" stroke-width="0.6"/>
<line x1="21.00" y1="439.00" x2="22.80" y2="439.00" stroke="#7a7a7a" stroke-width="0.9"/>
<text x="0.00" y="0.00" font-size="5.7" text-anchor="end" fill="#666" stroke="#666" stroke-width="0.2" transform="translate(20.40,441.00) scale(0.8,1)">100</text>
<line x1="22.80" y1="534.90" x2="22.80" y2="536.40" stroke="#7a7a7a" stroke-width="0.9"/>
<text x="0.00" y="0.00" font-size="5.9" text-anchor="end" fill="#666" stroke="#666" stroke-width="0.2" transform="translate(25.00,540.10) rotate(-45) scale(0.85,1)">0</text>
<line x1="37.33" y1="534.90" x2="37.33" y2="536.40" stroke="#7a7a7a" stroke-width="0.9"/>
<text x="0.00" y="0.00" font-size="5.9" text-anchor="end" fill="#666" stroke="#666" stroke-width="0.2" transform="translate(39.53,540.10) rotate(-45) scale(0.85,1)">50</text>
<line x1="51.85" y1="534.90" x2="51.85" y2="536.40" stroke="#7a7a7a" stroke-width="0.9"/>
<text x="0.00" y="0.00" font-size="5.9" text-anchor="end" fill="#666" stroke="#666" stroke-width="0.2" transform="translate(54.05,540.10) rotate(-45) scale(0.85,1)">100</text>
<line x1="66.38" y1="534.90" x2="66.38" y2="536.40" stroke="#7a7a7a" stroke-width="0.9"/>
<text x="0.00" y="0.00" font-size="5.9" text-anchor="end" fill="#666" stroke="#666" stroke-width="0.2" transform="translate(68.58,540.10) rotate(-45) scale(0.85,1)">150</text>
<line x1="80.90" y1="534.90" x2="80.90" y2="536.40" stroke="#7a7a7a" stroke-width="0.9"/>
<text x="0.00" y="0.00" font-size="5.9" text-anchor="end" fill="#666" stroke="#666" stroke-width="0.2" transform="translate(83.10,540.10) rotate(-45) scale(0.85,1)">200</text>
<line x1="95.42" y1="534.90" x2="95.42" y2="536.40" stroke="#7a7a7a" stroke-width="0.9"/>
<text x="0.00" y="0.00" font-size="5.9" text-anchor="end" fill="#666" stroke="#666" stroke-width="0.2" transform="translate(97.62,540.10) rotate(-45) scale(0.85,1)">250</text>
<line x1="109.95" y1="534.90" x2="109.95" y2="536.40" stroke="#7a7a7a" stroke-width="0.9"/>
<text x="0.00" y="0.00" font-size="5.9" text-anchor="end" fill="#666" stroke="#666" stroke-width="0.2" transform="translate(112.15,540.10) rotate(-45) scale(0.85,1)">300</text>
<line x1="124.47" y1="534.90" x2="124.47" y2="536.40" stroke="#7a7a7a" stroke-width="0.9"/>
<text x="0.00" y="0.00" font-size="5.9" text-anchor="end" fill="#666" stroke="#666" stroke-width="0.2" transform="translate(126.67,540.10) rotate(-45) scale(0.85,1)">350</text>
<line x1="139.00" y1="534.90" x2="139.00" y2="536.40" stroke="#7a7a7a" stroke-width="0.9"/>
<text x="0.00" y="0.00" font-size="5.9" text-anchor="end" fill="#666" stroke="#666" stroke-width="0.2" transform="translate(141.20,540.10) rotate(-45) scale(0.85,1)">400</text>
<text x="142.40" y="537.10" font-size="5.9" fill="#333" stroke="#333" stroke-width="0.2">Days</text>
<text transform="translate(7.00,527.40) rotate(-90)" font-size="6.30" fill="#333" stroke="#333" stroke-width="0.2"><tspan font-size="7.40">log</tspan><tspan font-size="4.30" dy="1.7">10</tspan><tspan dy="-1.7"> fold change from baseline</tspan></text>
<line x1="216.30" y1="438.50" x2="216.30" y2="536.10" stroke="#7a7a7a" stroke-width="1.1"/>
<line x1="215.80" y1="535.50" x2="333.40" y2="535.50" stroke="#7a7a7a" stroke-width="1.1"/>
<line x1="214.50" y1="535.50" x2="216.30" y2="535.50" stroke="#7a7a7a" stroke-width="0.9"/>
<text x="0.00" y="0.00" font-size="5.7" text-anchor="end" fill="#666" stroke="#666" stroke-width="0.2" transform="translate(213.90,537.50) scale(0.8,1)">0.01</text>
<line x1="215.30" y1="528.24" x2="216.30" y2="528.24" stroke="#7a7a7a" stroke-width="0.6"/>
<line x1="215.30" y1="523.99" x2="216.30" y2="523.99" stroke="#7a7a7a" stroke-width="0.6"/>
<line x1="215.30" y1="520.98" x2="216.30" y2="520.98" stroke="#7a7a7a" stroke-width="0.6"/>
<line x1="215.30" y1="518.64" x2="216.30" y2="518.64" stroke="#7a7a7a" stroke-width="0.6"/>
<line x1="215.30" y1="516.73" x2="216.30" y2="516.73" stroke="#7a7a7a" stroke-width="0.6"/>
<line x1="215.30" y1="515.11" x2="216.30" y2="515.11" stroke="#7a7a7a" stroke-width="0.6"/>
<line x1="215.30" y1="513.71" x2="216.30" y2="513.71" stroke="#7a7a7a" stroke-width="0.6"/>
<line x1="215.30" y1="512.48" x2="216.30" y2="512.48" stroke="#7a7a7a" stroke-width="0.6"/>
<line x1="214.50" y1="511.38" x2="216.30" y2="511.38" stroke="#7a7a7a" stroke-width="0.9"/>
<text x="0.00" y="0.00" font-size="5.7" text-anchor="end" fill="#666" stroke="#666" stroke-width="0.2" transform="translate(213.90,513.38) scale(0.8,1)">0.1</text>
<line x1="215.30" y1="504.11" x2="216.30" y2="504.11" stroke="#7a7a7a" stroke-width="0.6"/>
<line x1="215.30" y1="499.86" x2="216.30" y2="499.86" stroke="#7a7a7a" stroke-width="0.6"/>
<line x1="215.30" y1="496.85" x2="216.30" y2="496.85" stroke="#7a7a7a" stroke-width="0.6"/>
<line x1="215.30" y1="494.51" x2="216.30" y2="494.51" stroke="#7a7a7a" stroke-width="0.6"/>
<line x1="215.30" y1="492.60" x2="216.30" y2="492.60" stroke="#7a7a7a" stroke-width="0.6"/>
<line x1="215.30" y1="490.99" x2="216.30" y2="490.99" stroke="#7a7a7a" stroke-width="0.6"/>
<line x1="215.30" y1="489.59" x2="216.30" y2="489.59" stroke="#7a7a7a" stroke-width="0.6"/>
<line x1="215.30" y1="488.35" x2="216.30" y2="488.35" stroke="#7a7a7a" stroke-width="0.6"/>
<line x1="214.50" y1="487.25" x2="216.30" y2="487.25" stroke="#7a7a7a" stroke-width="0.9"/>
<text x="0.00" y="0.00" font-size="5.7" text-anchor="end" fill="#666" stroke="#666" stroke-width="0.2" transform="translate(213.90,489.25) scale(0.8,1)">1</text>
<line x1="215.30" y1="479.99" x2="216.30" y2="479.99" stroke="#7a7a7a" stroke-width="0.6"/>
<line x1="215.30" y1="475.74" x2="216.30" y2="475.74" stroke="#7a7a7a" stroke-width="0.6"/>
<line x1="215.30" y1="472.73" x2="216.30" y2="472.73" stroke="#7a7a7a" stroke-width="0.6"/>
<line x1="215.30" y1="470.39" x2="216.30" y2="470.39" stroke="#7a7a7a" stroke-width="0.6"/>
<line x1="215.30" y1="468.48" x2="216.30" y2="468.48" stroke="#7a7a7a" stroke-width="0.6"/>
<line x1="215.30" y1="466.86" x2="216.30" y2="466.86" stroke="#7a7a7a" stroke-width="0.6"/>
<line x1="215.30" y1="465.46" x2="216.30" y2="465.46" stroke="#7a7a7a" stroke-width="0.6"/>
<line x1="215.30" y1="464.23" x2="216.30" y2="464.23" stroke="#7a7a7a" stroke-width="0.6"/>
<line x1="214.50" y1="463.12" x2="216.30" y2="463.12" stroke="#7a7a7a" stroke-width="0.9"/>
<text x="0.00" y="0.00" font-size="5.7" text-anchor="end" fill="#666" stroke="#666" stroke-width="0.2" transform="translate(213.90,465.12) scale(0.8,1)">10</text>
<line x1="215.30" y1="455.86" x2="216.30" y2="455.86" stroke="#7a7a7a" stroke-width="0.6"/>
<line x1="215.30" y1="451.61" x2="216.30" y2="451.61" stroke="#7a7a7a" stroke-width="0.6"/>
<line x1="215.30" y1="448.60" x2="216.30" y2="448.60" stroke="#7a7a7a" stroke-width="0.6"/>
<line x1="215.30" y1="446.26" x2="216.30" y2="446.26" stroke="#7a7a7a" stroke-width="0.6"/>
<line x1="215.30" y1="444.35" x2="216.30" y2="444.35" stroke="#7a7a7a" stroke-width="0.6"/>
<line x1="215.30" y1="442.74" x2="216.30" y2="442.74" stroke="#7a7a7a" stroke-width="0.6"/>
<line x1="215.30" y1="441.34" x2="216.30" y2="441.34" stroke="#7a7a7a" stroke-width="0.6"/>
<line x1="215.30" y1="440.10" x2="216.30" y2="440.10" stroke="#7a7a7a" stroke-width="0.6"/>
<line x1="214.50" y1="439.00" x2="216.30" y2="439.00" stroke="#7a7a7a" stroke-width="0.9"/>
<text x="0.00" y="0.00" font-size="5.7" text-anchor="end" fill="#666" stroke="#666" stroke-width="0.2" transform="translate(213.90,441.00) scale(0.8,1)">100</text>
<line x1="216.30" y1="535.50" x2="216.30" y2="537.00" stroke="#7a7a7a" stroke-width="0.9"/>
<text x="0.00" y="0.00" font-size="5.1" text-anchor="end" fill="#666" stroke="#666" stroke-width="0.2" transform="translate(218.50,540.70) rotate(-45) scale(0.85,1)">0</text>
<line x1="224.64" y1="535.50" x2="224.64" y2="537.00" stroke="#7a7a7a" stroke-width="0.9"/>
<text x="0.00" y="0.00" font-size="5.1" text-anchor="end" fill="#666" stroke="#666" stroke-width="0.2" transform="translate(226.84,540.70) rotate(-45) scale(0.85,1)">10</text>
<line x1="232.99" y1="535.50" x2="232.99" y2="537.00" stroke="#7a7a7a" stroke-width="0.9"/>
<text x="0.00" y="0.00" font-size="5.1" text-anchor="end" fill="#666" stroke="#666" stroke-width="0.2" transform="translate(235.19,540.70) rotate(-45) scale(0.85,1)">20</text>
<line x1="241.33" y1="535.50" x2="241.33" y2="537.00" stroke="#7a7a7a" stroke-width="0.9"/>
<text x="0.00" y="0.00" font-size="5.1" text-anchor="end" fill="#666" stroke="#666" stroke-width="0.2" transform="translate(243.53,540.70) rotate(-45) scale(0.85,1)">30</text>
<line x1="249.67" y1="535.50" x2="249.67" y2="537.00" stroke="#7a7a7a" stroke-width="0.9"/>
<text x="0.00" y="0.00" font-size="5.1" text-anchor="end" fill="#666" stroke="#666" stroke-width="0.2" transform="translate(251.87,540.70) rotate(-45) scale(0.85,1)">40</text>
<line x1="258.01" y1="535.50" x2="258.01" y2="537.00" stroke="#7a7a7a" stroke-width="0.9"/>
<text x="0.00" y="0.00" font-size="5.1" text-anchor="end" fill="#666" stroke="#666" stroke-width="0.2" transform="translate(260.21,540.70) rotate(-45) scale(0.85,1)">50</text>
<line x1="266.36" y1="535.50" x2="266.36" y2="537.00" stroke="#7a7a7a" stroke-width="0.9"/>
<text x="0.00" y="0.00" font-size="5.1" text-anchor="end" fill="#666" stroke="#666" stroke-width="0.2" transform="translate(268.56,540.70) rotate(-45) scale(0.85,1)">60</text>
<line x1="274.70" y1="535.50" x2="274.70" y2="537.00" stroke="#7a7a7a" stroke-width="0.9"/>
<text x="0.00" y="0.00" font-size="5.1" text-anchor="end" fill="#666" stroke="#666" stroke-width="0.2" transform="translate(276.90,540.70) rotate(-45) scale(0.85,1)">70</text>
<line x1="283.04" y1="535.50" x2="283.04" y2="537.00" stroke="#7a7a7a" stroke-width="0.9"/>
<text x="0.00" y="0.00" font-size="5.1" text-anchor="end" fill="#666" stroke="#666" stroke-width="0.2" transform="translate(285.24,540.70) rotate(-45) scale(0.85,1)">80</text>
<line x1="291.39" y1="535.50" x2="291.39" y2="537.00" stroke="#7a7a7a" stroke-width="0.9"/>
<text x="0.00" y="0.00" font-size="5.1" text-anchor="end" fill="#666" stroke="#666" stroke-width="0.2" transform="translate(293.59,540.70) rotate(-45) scale(0.85,1)">90</text>
<line x1="299.73" y1="535.50" x2="299.73" y2="537.00" stroke="#7a7a7a" stroke-width="0.9"/>
<text x="0.00" y="0.00" font-size="5.1" text-anchor="end" fill="#666" stroke="#666" stroke-width="0.2" transform="translate(301.93,540.70) rotate(-45) scale(0.85,1)">100</text>
<line x1="308.07" y1="535.50" x2="308.07" y2="537.00" stroke="#7a7a7a" stroke-width="0.9"/>
<text x="0.00" y="0.00" font-size="5.1" text-anchor="end" fill="#666" stroke="#666" stroke-width="0.2" transform="translate(310.27,540.70) rotate(-45) scale(0.85,1)">110</text>
<line x1="316.41" y1="535.50" x2="316.41" y2="537.00" stroke="#7a7a7a" stroke-width="0.9"/>
<text x="0.00" y="0.00" font-size="5.1" text-anchor="end" fill="#666" stroke="#666" stroke-width="0.2" transform="translate(318.61,540.70) rotate(-45) scale(0.85,1)">120</text>
<line x1="324.76" y1="535.50" x2="324.76" y2="537.00" stroke="#7a7a7a" stroke-width="0.9"/>
<text x="0.00" y="0.00" font-size="5.1" text-anchor="end" fill="#666" stroke="#666" stroke-width="0.2" transform="translate(326.96,540.70) rotate(-45) scale(0.85,1)">130</text>
<line x1="333.10" y1="535.50" x2="333.10" y2="537.00" stroke="#7a7a7a" stroke-width="0.9"/>
<text x="0.00" y="0.00" font-size="5.1" text-anchor="end" fill="#666" stroke="#666" stroke-width="0.2" transform="translate(335.30,540.70) rotate(-45) scale(0.85,1)">140</text>
<text x="336.50" y="537.70" font-size="5.9" fill="#333" stroke="#333" stroke-width="0.2">Days</text>
<text transform="translate(202.80,530.30) rotate(-90)" font-size="6.30" fill="#333" stroke="#333" stroke-width="0.2"><tspan font-size="7.40">log</tspan><tspan font-size="4.30" dy="1.7">10</tspan><tspan dy="-1.7"> fold change from baseline</tspan></text>
<line x1="386.10" y1="438.20" x2="386.10" y2="536.00" stroke="#7a7a7a" stroke-width="1.1"/>
<line x1="385.60" y1="535.40" x2="502.90" y2="535.40" stroke="#7a7a7a" stroke-width="1.1"/>
<line x1="384.30" y1="535.40" x2="386.10" y2="535.40" stroke="#7a7a7a" stroke-width="0.9"/>
<text x="0.00" y="0.00" font-size="5.7" text-anchor="end" fill="#666" stroke="#666" stroke-width="0.2" transform="translate(383.70,537.40) scale(0.8,1)">0.001</text>
<line x1="385.10" y1="529.58" x2="386.10" y2="529.58" stroke="#7a7a7a" stroke-width="0.6"/>
<line x1="385.10" y1="526.17" x2="386.10" y2="526.17" stroke="#7a7a7a" stroke-width="0.6"/>
<line x1="385.10" y1="523.76" x2="386.10" y2="523.76" stroke="#7a7a7a" stroke-width="0.6"/>
<line x1="385.10" y1="521.88" x2="386.10" y2="521.88" stroke="#7a7a7a" stroke-width="0.6"/>
<line x1="385.10" y1="520.35" x2="386.10" y2="520.35" stroke="#7a7a7a" stroke-width="0.6"/>
<line x1="385.10" y1="519.06" x2="386.10" y2="519.06" stroke="#7a7a7a" stroke-width="0.6"/>
<line x1="385.10" y1="517.93" x2="386.10" y2="517.93" stroke="#7a7a7a" stroke-width="0.6"/>
<line x1="385.10" y1="516.94" x2="386.10" y2="516.94" stroke="#7a7a7a" stroke-width="0.6"/>
<line x1="384.30" y1="516.06" x2="386.10" y2="516.06" stroke="#7a7a7a" stroke-width="0.9"/>
<text x="0.00" y="0.00" font-size="5.7" text-anchor="end" fill="#666" stroke="#666" stroke-width="0.2" transform="translate(383.70,518.06) scale(0.8,1)">0.01</text>
<line x1="385.10" y1="510.24" x2="386.10" y2="510.24" stroke="#7a7a7a" stroke-width="0.6"/>
<line x1="385.10" y1="506.83" x2="386.10" y2="506.83" stroke="#7a7a7a" stroke-width="0.6"/>
<line x1="385.10" y1="504.42" x2="386.10" y2="504.42" stroke="#7a7a7a" stroke-width="0.6"/>
<line x1="385.10" y1="502.54" x2="386.10" y2="502.54" stroke="#7a7a7a" stroke-width="0.6"/>
<line x1="385.10" y1="501.01" x2="386.10" y2="501.01" stroke="#7a7a7a" stroke-width="0.6"/>
<line x1="385.10" y1="499.72" x2="386.10" y2="499.72" stroke="#7a7a7a" stroke-width="0.6"/>
<line x1="385.10" y1="498.59" x2="386.10" y2="498.59" stroke="#7a7a7a" stroke-width="0.6"/>
<line x1="385.10" y1="497.60" x2="386.10" y2="497.60" stroke="#7a7a7a" stroke-width="0.6"/>
<line x1="384.30" y1="496.72" x2="386.10" y2="496.72" stroke="#7a7a7a" stroke-width="0.9"/>
<text x="0.00" y="0.00" font-size="5.7" text-anchor="end" fill="#666" stroke="#666" stroke-width="0.2" transform="translate(383.70,498.72) scale(0.8,1)">0.1</text>
<line x1="385.10" y1="490.90" x2="386.10" y2="490.90" stroke="#7a7a7a" stroke-width="0.6"/>
<line x1="385.10" y1="487.49" x2="386.10" y2="487.49" stroke="#7a7a7a" stroke-width="0.6"/>
<line x1="385.10" y1="485.08" x2="386.10" y2="485.08" stroke="#7a7a7a" stroke-width="0.6"/>
<line x1="385.10" y1="483.20" x2="386.10" y2="483.20" stroke="#7a7a7a" stroke-width="0.6"/>
<line x1="385.10" y1="481.67" x2="386.10" y2="481.67" stroke="#7a7a7a" stroke-width="0.6"/>
<line x1="385.10" y1="480.38" x2="386.10" y2="480.38" stroke="#7a7a7a" stroke-width="0.6"/>
<line x1="385.10" y1="479.25" x2="386.10" y2="479.25" stroke="#7a7a7a" stroke-width="0.6"/>
<line x1="385.10" y1="478.26" x2="386.10" y2="478.26" stroke="#7a7a7a" stroke-width="0.6"/>
<line x1="384.30" y1="477.38" x2="386.10" y2="477.38" stroke="#7a7a7a" stroke-width="0.9"/>
<text x="0.00" y="0.00" font-size="5.7" text-anchor="end" fill="#666" stroke="#666" stroke-width="0.2" transform="translate(383.70,479.38) scale(0.8,1)">1</text>
<line x1="385.10" y1="471.56" x2="386.10" y2="471.56" stroke="#7a7a7a" stroke-width="0.6"/>
<line x1="385.10" y1="468.15" x2="386.10" y2="468.15" stroke="#7a7a7a" stroke-width="0.6"/>
<line x1="385.10" y1="465.74" x2="386.10" y2="465.74" stroke="#7a7a7a" stroke-width="0.6"/>
<line x1="385.10" y1="463.86" x2="386.10" y2="463.86" stroke="#7a7a7a" stroke-width="0.6"/>
<line x1="385.10" y1="462.33" x2="386.10" y2="462.33" stroke="#7a7a7a" stroke-width="0.6"/>
<line x1="385.10" y1="461.04" x2="386.10" y2="461.04" stroke="#7a7a7a" stroke-width="0.6"/>
<line x1="385.10" y1="459.91" x2="386.10" y2="459.91" stroke="#7a7a7a" stroke-width="0.6"/>
<line x1="385.10" y1="458.92" x2="386.10" y2="458.92" stroke="#7a7a7a" stroke-width="0.6"/>
<line x1="384.30" y1="458.04" x2="386.10" y2="458.04" stroke="#7a7a7a" stroke-width="0.9"/>
<text x="0.00" y="0.00" font-size="5.7" text-anchor="end" fill="#666" stroke="#666" stroke-width="0.2" transform="translate(383.70,460.04) scale(0.8,1)">10</text>
<line x1="385.10" y1="452.22" x2="386.10" y2="452.22" stroke="#7a7a7a" stroke-width="0.6"/>
<line x1="385.10" y1="448.81" x2="386.10" y2="448.81" stroke="#7a7a7a" stroke-width="0.6"/>
<line x1="385.10" y1="446.40" x2="386.10" y2="446.40" stroke="#7a7a7a" stroke-width="0.6"/>
<line x1="385.10" y1="444.52" x2="386.10" y2="444.52" stroke="#7a7a7a" stroke-width="0.6"/>
<line x1="385.10" y1="442.99" x2="386.10" y2="442.99" stroke="#7a7a7a" stroke-width="0.6"/>
<line x1="385.10" y1="441.70" x2="386.10" y2="441.70" stroke="#7a7a7a" stroke-width="0.6"/>
<line x1="385.10" y1="440.57" x2="386.10" y2="440.57" stroke="#7a7a7a" stroke-width="0.6"/>
<line x1="385.10" y1="439.58" x2="386.10" y2="439.58" stroke="#7a7a7a" stroke-width="0.6"/>
<line x1="384.30" y1="438.70" x2="386.10" y2="438.70" stroke="#7a7a7a" stroke-width="0.9"/>
<text x="0.00" y="0.00" font-size="5.7" text-anchor="end" fill="#666" stroke="#666" stroke-width="0.2" transform="translate(383.70,440.70) scale(0.8,1)">100</text>
<line x1="386.10" y1="535.40" x2="386.10" y2="536.90" stroke="#7a7a7a" stroke-width="0.9"/>
<text x="0.00" y="0.00" font-size="5.9" text-anchor="end" fill="#666" stroke="#666" stroke-width="0.2" transform="translate(388.30,540.60) rotate(-45) scale(0.85,1)">0</text>
<line x1="400.66" y1="535.40" x2="400.66" y2="536.90" stroke="#7a7a7a" stroke-width="0.9"/>
<text x="0.00" y="0.00" font-size="5.9" text-anchor="end" fill="#666" stroke="#666" stroke-width="0.2" transform="translate(402.86,540.60) rotate(-45) scale(0.85,1)">50</text>
<line x1="415.23" y1="535.40" x2="415.23" y2="536.90" stroke="#7a7a7a" stroke-width="0.9"/>
<text x="0.00" y="0.00" font-size="5.9" text-anchor="end" fill="#666" stroke="#666" stroke-width="0.2" transform="translate(417.43,540.60) rotate(-45) scale(0.85,1)">100</text>
<line x1="429.79" y1="535.40" x2="429.79" y2="536.90" stroke="#7a7a7a" stroke-width="0.9"/>
<text x="0.00" y="0.00" font-size="5.9" text-anchor="end" fill="#666" stroke="#666" stroke-width="0.2" transform="translate(431.99,540.60) rotate(-45) scale(0.85,1)">150</text>
<line x1="444.35" y1="535.40" x2="444.35" y2="536.90" stroke="#7a7a7a" stroke-width="0.9"/>
<text x="0.00" y="0.00" font-size="5.9" text-anchor="end" fill="#666" stroke="#666" stroke-width="0.2" transform="translate(446.55,540.60) rotate(-45) scale(0.85,1)">200</text>
<line x1="458.91" y1="535.40" x2="458.91" y2="536.90" stroke="#7a7a7a" stroke-width="0.9"/>
<text x="0.00" y="0.00" font-size="5.9" text-anchor="end" fill="#666" stroke="#666" stroke-width="0.2" transform="translate(461.11,540.60) rotate(-45) scale(0.85,1)">250</text>
<line x1="473.48" y1="535.40" x2="473.48" y2="536.90" stroke="#7a7a7a" stroke-width="0.9"/>
<text x="0.00" y="0.00" font-size="5.9" text-anchor="end" fill="#666" stroke="#666" stroke-width="0.2" transform="translate(475.68,540.60) rotate(-45) scale(0.85,1)">300</text>
<line x1="488.04" y1="535.40" x2="488.04" y2="536.90" stroke="#7a7a7a" stroke-width="0.9"/>
<text x="0.00" y="0.00" font-size="5.9" text-anchor="end" fill="#666" stroke="#666" stroke-width="0.2" transform="translate(490.24,540.60) rotate(-45) scale(0.85,1)">350</text>
<line x1="502.60" y1="535.40" x2="502.60" y2="536.90" stroke="#7a7a7a" stroke-width="0.9"/>
<text x="0.00" y="0.00" font-size="5.9" text-anchor="end" fill="#666" stroke="#666" stroke-width="0.2" transform="translate(504.80,540.60) rotate(-45) scale(0.85,1)">400</text>
<text x="506.00" y="537.60" font-size="5.9" fill="#333" stroke="#333" stroke-width="0.2">Days</text>
<text transform="translate(369.40,530.20) rotate(-90)" font-size="6.30" fill="#333" stroke="#333" stroke-width="0.2"><tspan font-size="7.40">log</tspan><tspan font-size="4.30" dy="1.7">10</tspan><tspan dy="-1.7"> fold change from baseline</tspan></text>
<line x1="216.40" y1="577.60" x2="216.40" y2="676.00" stroke="#7a7a7a" stroke-width="1.1"/>
<line x1="215.90" y1="675.40" x2="333.50" y2="675.40" stroke="#7a7a7a" stroke-width="1.1"/>
<line x1="214.60" y1="675.40" x2="216.40" y2="675.40" stroke="#7a7a7a" stroke-width="0.9"/>
<text x="0.00" y="0.00" font-size="5.7" text-anchor="end" fill="#666" stroke="#666" stroke-width="0.2" transform="translate(214.00,677.40) scale(0.8,1)">0.001</text>
<line x1="215.40" y1="669.54" x2="216.40" y2="669.54" stroke="#7a7a7a" stroke-width="0.6"/>
<line x1="215.40" y1="666.12" x2="216.40" y2="666.12" stroke="#7a7a7a" stroke-width="0.6"/>
<line x1="215.40" y1="663.68" x2="216.40" y2="663.68" stroke="#7a7a7a" stroke-width="0.6"/>
<line x1="215.40" y1="661.80" x2="216.40" y2="661.80" stroke="#7a7a7a" stroke-width="0.6"/>
<line x1="215.40" y1="660.26" x2="216.40" y2="660.26" stroke="#7a7a7a" stroke-width="0.6"/>
<line x1="215.40" y1="658.95" x2="216.40" y2="658.95" stroke="#7a7a7a" stroke-width="0.6"/>
<line x1="215.40" y1="657.83" x2="216.40" y2="657.83" stroke="#7a7a7a" stroke-width="0.6"/>
<line x1="215.40" y1="656.83" x2="216.40" y2="656.83" stroke="#7a7a7a" stroke-width="0.6"/>
<line x1="214.60" y1="655.94" x2="216.40" y2="655.94" stroke="#7a7a7a" stroke-width="0.9"/>
<text x="0.00" y="0.00" font-size="5.7" text-anchor="end" fill="#666" stroke="#666" stroke-width="0.2" transform="translate(214.00,657.94) scale(0.8,1)">0.01</text>
<line x1="215.40" y1="650.08" x2="216.40" y2="650.08" stroke="#7a7a7a" stroke-width="0.6"/>
<line x1="215.40" y1="646.66" x2="216.40" y2="646.66" stroke="#7a7a7a" stroke-width="0.6"/>
<line x1="215.40" y1="644.22" x2="216.40" y2="644.22" stroke="#7a7a7a" stroke-width="0.6"/>
<line x1="215.40" y1="642.34" x2="216.40" y2="642.34" stroke="#7a7a7a" stroke-width="0.6"/>
<line x1="215.40" y1="640.80" x2="216.40" y2="640.80" stroke="#7a7a7a" stroke-width="0.6"/>
<line x1="215.40" y1="639.49" x2="216.40" y2="639.49" stroke="#7a7a7a" stroke-width="0.6"/>
<line x1="215.40" y1="638.37" x2="216.40" y2="638.37" stroke="#7a7a7a" stroke-width="0.6"/>
<line x1="215.40" y1="637.37" x2="216.40" y2="637.37" stroke="#7a7a7a" stroke-width="0.6"/>
<line x1="214.60" y1="636.48" x2="216.40" y2="636.48" stroke="#7a7a7a" stroke-width="0.9"/>
<text x="0.00" y="0.00" font-size="5.7" text-anchor="end" fill="#666" stroke="#666" stroke-width="0.2" transform="translate(214.00,638.48) scale(0.8,1)">0.1</text>
<line x1="215.40" y1="630.62" x2="216.40" y2="630.62" stroke="#7a7a7a" stroke-width="0.6"/>
<line x1="215.40" y1="627.20" x2="216.40" y2="627.20" stroke="#7a7a7a" stroke-width="0.6"/>
<line x1="215.40" y1="624.76" x2="216.40" y2="624.76" stroke="#7a7a7a" stroke-width="0.6"/>
<line x1="215.40" y1="622.88" x2="216.40" y2="622.88" stroke="#7a7a7a" stroke-width="0.6"/>
<line x1="215.40" y1="621.34" x2="216.40" y2="621.34" stroke="#7a7a7a" stroke-width="0.6"/>
<line x1="215.40" y1="620.03" x2="216.40" y2="620.03" stroke="#7a7a7a" stroke-width="0.6"/>
<line x1="215.40" y1="618.91" x2="216.40" y2="618.91" stroke="#7a7a7a" stroke-width="0.6"/>
<line x1="215.40" y1="617.91" x2="216.40" y2="617.91" stroke="#7a7a7a" stroke-width="0.6"/>
<line x1="214.60" y1="617.02" x2="216.40" y2="617.02" stroke="#7a7a7a" stroke-width="0.9"/>
<text x="0.00" y="0.00" font-size="5.7" text-anchor="end" fill="#666" stroke="#666" stroke-width="0.2" transform="translate(214.00,619.02) scale(0.8,1)">1</text>
<line x1="215.40" y1="611.16" x2="216.40" y2="611.16" stroke="#7a7a7a" stroke-width="0.6"/>
<line x1="215.40" y1="607.74" x2="216.40" y2="607.74" stroke="#7a7a7a" stroke-width="0.6"/>
<line x1="215.40" y1="605.30" x2="216.40" y2="605.30" stroke="#7a7a7a" stroke-width="0.6"/>
<line x1="215.40" y1="603.42" x2="216.40" y2="603.42" stroke="#7a7a7a" stroke-width="0.6"/>
<line x1="215.40" y1="601.88" x2="216.40" y2="601.88" stroke="#7a7a7a" stroke-width="0.6"/>
<line x1="215.40" y1="600.57" x2="216.40" y2="600.57" stroke="#7a7a7a" stroke-width="0.6"/>
<line x1="215.40" y1="599.45" x2="216.40" y2="599.45" stroke="#7a7a7a" stroke-width="0.6"/>
<line x1="215.40" y1="598.45" x2="216.40" y2="598.45" stroke="#7a7a7a" stroke-width="0.6"/>
<line x1="214.60" y1="597.56" x2="216.40" y2="597.56" stroke="#7a7a7a" stroke-width="0.9"/>
<text x="0.00" y="0.00" font-size="5.7" text-anchor="end" fill="#666" stroke="#666" stroke-width="0.2" transform="translate(214.00,599.56) scale(0.8,1)">10</text>
<line x1="215.40" y1="591.70" x2="216.40" y2="591.70" stroke="#7a7a7a" stroke-width="0.6"/>
<line x1="215.40" y1="588.28" x2="216.40" y2="588.28" stroke="#7a7a7a" stroke-width="0.6"/>
<line x1="215.40" y1="585.84" x2="216.40" y2="585.84" stroke="#7a7a7a" stroke-width="0.6"/>
<line x1="215.40" y1="583.96" x2="216.40" y2="583.96" stroke="#7a7a7a" stroke-width="0.6"/>
<line x1="215.40" y1="582.42" x2="216.40" y2="582.42" stroke="#7a7a7a" stroke-width="0.6"/>
<line x1="215.40" y1="581.11" x2="216.40" y2="581.11" stroke="#7a7a7a" stroke-width="0.6"/>
<line x1="215.40" y1="579.99" x2="216.40" y2="579.99" stroke="#7a7a7a" stroke-width="0.6"/>
<line x1="215.40" y1="578.99" x2="216.40" y2="578.99" stroke="#7a7a7a" stroke-width="0.6"/>
<line x1="214.60" y1="578.10" x2="216.40" y2="578.10" stroke="#7a7a7a" stroke-width="0.9"/>
<text x="0.00" y="0.00" font-size="5.7" text-anchor="end" fill="#666" stroke="#666" stroke-width="0.2" transform="translate(214.00,580.10) scale(0.8,1)">100</text>
<line x1="216.40" y1="675.40" x2="216.40" y2="676.90" stroke="#7a7a7a" stroke-width="0.9"/>
<text x="0.00" y="0.00" font-size="5.9" text-anchor="end" fill="#666" stroke="#666" stroke-width="0.2" transform="translate(218.60,680.60) rotate(-45) scale(0.85,1)">0</text>
<line x1="231.00" y1="675.40" x2="231.00" y2="676.90" stroke="#7a7a7a" stroke-width="0.9"/>
<text x="0.00" y="0.00" font-size="5.9" text-anchor="end" fill="#666" stroke="#666" stroke-width="0.2" transform="translate(233.20,680.60) rotate(-45) scale(0.85,1)">50</text>
<line x1="245.60" y1="675.40" x2="245.60" y2="676.90" stroke="#7a7a7a" stroke-width="0.9"/>
<text x="0.00" y="0.00" font-size="5.9" text-anchor="end" fill="#666" stroke="#666" stroke-width="0.2" transform="translate(247.80,680.60) rotate(-45) scale(0.85,1)">100</text>
<line x1="260.20" y1="675.40" x2="260.20" y2="676.90" stroke="#7a7a7a" stroke-width="0.9"/>
<text x="0.00" y="0.00" font-size="5.9" text-anchor="end" fill="#666" stroke="#666" stroke-width="0.2" transform="translate(262.40,680.60) rotate(-45) scale(0.85,1)">150</text>
<line x1="274.80" y1="675.40" x2="274.80" y2="676.90" stroke="#7a7a7a" stroke-width="0.9"/>
<text x="0.00" y="0.00" font-size="5.9" text-anchor="end" fill="#666" stroke="#666" stroke-width="0.2" transform="translate(277.00,680.60) rotate(-45) scale(0.85,1)">200</text>
<line x1="289.40" y1="675.40" x2="289.40" y2="676.90" stroke="#7a7a7a" stroke-width="0.9"/>
<text x="0.00" y="0.00" font-size="5.9" text-anchor="end" fill="#666" stroke="#666" stroke-width="0.2" transform="translate(291.60,680.60) rotate(-45) scale(0.85,1)">250</text>
<line x1="304.00" y1="675.40" x2="304.00" y2="676.90" stroke="#7a7a7a" stroke-width="0.9"/>
<text x="0.00" y="0.00" font-size="5.9" text-anchor="end" fill="#666" stroke="#666" stroke-width="0.2" transform="translate(306.20,680.60) rotate(-45) scale(0.85,1)">300</text>
<line x1="318.60" y1="675.40" x2="318.60" y2="676.90" stroke="#7a7a7a" stroke-width="0.9"/>
<text x="0.00" y="0.00" font-size="5.9" text-anchor="end" fill="#666" stroke="#666" stroke-width="0.2" transform="translate(320.80,680.60) rotate(-45) scale(0.85,1)">350</text>
<line x1="333.20" y1="675.40" x2="333.20" y2="676.90" stroke="#7a7a7a" stroke-width="0.9"/>
<text x="0.00" y="0.00" font-size="5.9" text-anchor="end" fill="#666" stroke="#666" stroke-width="0.2" transform="translate(335.40,680.60) rotate(-45) scale(0.85,1)">400</text>
<text x="336.60" y="677.60" font-size="5.9" fill="#333" stroke="#333" stroke-width="0.2">Days</text>
<text transform="translate(200.20,670.20) rotate(-90)" font-size="6.30" fill="#333" stroke="#333" stroke-width="0.2"><tspan font-size="7.40">log</tspan><tspan font-size="4.30" dy="1.7">10</tspan><tspan dy="-1.7"> fold change from baseline</tspan></text>
<text x="0.20" y="266.40" font-size="10.0" font-weight="bold" fill="#000" stroke="#000" stroke-width="0.12">E</text>
<text x="24.00" y="266.90" font-size="9.2" font-style="italic" fill="#000" stroke="#000" stroke-width="0.2">All patients</text>
<text x="196.00" y="266.40" font-size="10.0" font-weight="bold" fill="#000" stroke="#000" stroke-width="0.12">F</text>
<text x="217.60" y="266.90" font-size="9.1" font-style="italic" fill="#000" stroke="#000" stroke-width="0.2">PD at first evaluation</text>
<text x="360.60" y="266.40" font-size="10.0" font-weight="bold" fill="#000" stroke="#000" stroke-width="0.12">G</text>
<text x="386.00" y="266.90" font-size="9.1" font-style="italic" fill="#000" stroke="#000" stroke-width="0.2">PD after first evaluation</text>
<text x="-0.80" y="422.40" font-size="10.0" font-weight="bold" fill="#000" stroke="#000" stroke-width="0.12">H</text>
<text x="24.00" y="422.80" font-size="9.0" font-style="italic" fill="#000" stroke="#000" stroke-width="0.2">All patients</text>
<text x="196.60" y="422.40" font-size="10.0" font-weight="bold" fill="#000" stroke="#000" stroke-width="0.12">I</text>
<text x="217.40" y="422.80" font-size="9.1" font-style="italic" fill="#000" stroke="#000" stroke-width="0.2">PD at first evaluation</text>
<text x="360.80" y="422.40" font-size="10.0" font-weight="bold" fill="#000" stroke="#000" stroke-width="0.12">J</text>
<text x="388.00" y="422.80" font-size="9.1" font-style="italic" fill="#000" stroke="#000" stroke-width="0.2">PD after first evaluation</text>
<text x="197.60" y="566.50" font-size="10.2" font-weight="bold" fill="#000" stroke="#000" stroke-width="0.12">K</text>
<text x="217.60" y="566.90" font-size="9.1" font-style="italic" fill="#000" stroke="#000" stroke-width="0.2">Long-term responders</text>
</svg></body></html>
